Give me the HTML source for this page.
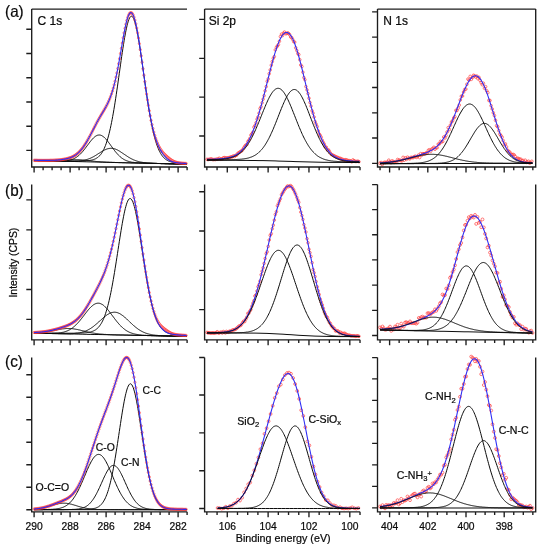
<!DOCTYPE html><html><head><meta charset="utf-8"><title>XPS spectra</title><style>html,body{margin:0;padding:0;background:#fff;overflow:hidden}svg{display:block}text{font-family:"Liberation Sans",Arial,Helvetica,sans-serif;fill:#0a0a0a;stroke:#0a0a0a;stroke-width:0.22px}</style></head><body>
<svg width="542" height="550" viewBox="0 0 542 550">
<rect width="100%" height="100%" fill="#fff"/>
<g fill="none" stroke="#0c0c0c" stroke-width="1.0" stroke-linejoin="round"><path d="M34.1 160.6L38.1 160.7L42.1 160.8L46.1 160.9L50.1 161.0L54.1 161.1L58.1 161.2L62.1 161.3L66.1 161.4L70.1 161.4L74.1 161.5L78.1 161.6L82.1 161.7L86.1 161.8L90.1 161.9L94.1 162.0L98.1 162.1L102.1 162.2L106.1 162.3L110.1 162.4L114.1 162.5L118.1 162.6L122.1 162.7L126.1 162.8L130.1 162.9L134.1 163.0L138.1 163.0L142.1 163.1L146.1 163.2L150.1 163.3L154.1 163.4L158.1 163.5L162.1 163.6L166.1 163.7L170.1 163.8L174.1 163.9L178.1 164.0L182.1 164.1L186.1 164.2L187.0 164.2"/><path d="M34.1 160.4L34.7 160.4L35.3 160.4L35.9 160.4L36.5 160.4L37.1 160.4L37.7 160.4L38.3 160.5L38.9 160.5L39.5 160.5L40.1 160.5L40.7 160.5L41.3 160.5L41.9 160.5L42.5 160.5L43.1 160.5L43.7 160.6L44.3 160.6L44.9 160.6L45.5 160.6L46.1 160.6L46.7 160.6L47.3 160.6L47.9 160.6L48.5 160.6L49.1 160.6L49.7 160.7L50.3 160.7L50.9 160.7L51.5 160.7L52.1 160.7L52.7 160.7L53.3 160.7L53.9 160.7L54.5 160.7L55.1 160.7L55.7 160.8L56.3 160.8L56.9 160.8L57.5 160.8L58.1 160.8L58.7 160.8L59.3 160.8L59.9 160.8L60.5 160.8L61.1 160.8L61.7 160.8L62.3 160.8L62.9 160.8L63.5 160.9L64.1 160.9L64.7 160.9L65.3 160.9L65.9 160.9L66.5 160.9L67.1 160.9L67.7 160.9L68.3 160.9L68.9 160.9L69.5 160.9L70.1 160.9L70.7 160.9L71.3 160.9L71.9 160.9L72.5 160.9L73.1 160.9L73.7 160.9L74.3 160.9L74.9 160.9L75.5 160.9L76.1 160.9L76.7 160.9L77.3 160.9L77.9 160.9L78.5 160.9L79.1 160.9L79.7 160.9L80.3 160.9L80.9 160.9L81.5 160.9L82.1 160.9L82.7 160.9L83.3 160.9L83.9 160.8L84.5 160.8L85.1 160.8L85.7 160.8L86.3 160.7L86.9 160.7L87.5 160.6L88.1 160.6L88.7 160.5L89.3 160.5L89.9 160.4L90.5 160.3L91.1 160.2L91.7 160.1L92.3 159.9L92.9 159.8L93.5 159.6L94.1 159.4L94.7 159.1L95.3 158.9L95.9 158.6L96.5 158.2L97.1 157.9L97.7 157.4L98.3 157.0L98.9 156.4L99.5 155.8L100.1 155.2L100.7 154.5L101.3 153.7L101.9 152.8L102.5 151.8L103.1 150.7L103.7 149.6L104.3 148.3L104.9 146.9L105.5 145.4L106.1 143.8L106.7 142.0L107.3 140.1L107.9 138.1L108.5 135.9L109.1 133.6L109.7 131.1L110.3 128.5L110.9 125.7L111.5 122.7L112.1 119.7L112.7 116.4L113.3 113.1L113.9 109.6L114.5 105.9L115.1 102.2L115.7 98.3L116.3 94.3L116.9 90.2L117.5 86.1L118.1 81.9L118.7 77.6L119.3 73.4L119.9 69.1L120.5 64.8L121.1 60.6L121.7 56.4L122.3 52.4L122.9 48.4L123.5 44.5L124.1 40.8L124.7 37.3L125.3 34.0L125.9 30.9L126.5 28.0L127.1 25.5L127.7 23.2L128.3 21.2L128.9 19.5L129.5 18.1L130.1 17.1L130.7 16.5L131.3 16.2L131.9 16.3L132.5 16.7L133.1 17.5L133.7 18.7L134.3 20.1L134.9 22.0L135.5 24.1L136.1 26.5L136.7 29.2L137.3 32.2L137.9 35.4L138.5 38.8L139.1 42.4L139.7 46.2L140.3 50.1L140.9 54.2L141.5 58.3L142.1 62.5L142.7 66.8L143.3 71.1L143.9 75.4L144.5 79.7L145.1 83.9L145.7 88.2L146.3 92.3L146.9 96.4L147.5 100.3L148.1 104.2L148.7 108.0L149.3 111.6L149.9 115.1L150.5 118.4L151.1 121.6L151.7 124.7L152.3 127.6L152.9 130.4L153.5 133.0L154.1 135.4L154.7 137.7L155.3 139.9L155.9 141.9L156.5 143.8L157.1 145.5L157.7 147.1L158.3 148.6L158.9 150.0L159.5 151.3L160.1 152.4L160.7 153.5L161.3 154.5L161.9 155.4L162.5 156.2L163.1 156.9L163.7 157.6L164.3 158.2L164.9 158.7L165.5 159.2L166.1 159.6L166.7 160.0L167.3 160.4L167.9 160.7L168.5 161.0L169.1 161.2L169.7 161.4L170.3 161.6L170.9 161.8L171.5 162.0L172.1 162.1L172.7 162.3L173.3 162.4L173.9 162.5L174.5 162.6L175.1 162.7L175.7 162.7L176.3 162.8L176.9 162.9L177.5 162.9L178.1 163.0L178.7 163.0L179.3 163.1L179.9 163.1L180.5 163.2L181.1 163.2L181.7 163.3L182.3 163.3L182.9 163.3L183.5 163.4L184.1 163.4L184.7 163.4L185.3 163.5L185.9 163.5L186.5 163.5"/><path d="M34.1 160.6L34.7 160.6L35.3 160.6L35.9 160.6L36.5 160.6L37.1 160.6L37.7 160.6L38.3 160.7L38.9 160.7L39.5 160.7L40.1 160.7L40.7 160.7L41.3 160.7L41.9 160.7L42.5 160.8L43.1 160.8L43.7 160.8L44.3 160.8L44.9 160.8L45.5 160.8L46.1 160.8L46.7 160.8L47.3 160.9L47.9 160.9L48.5 160.9L49.1 160.9L49.7 160.9L50.3 160.9L50.9 160.9L51.5 160.9L52.1 161.0L52.7 161.0L53.3 161.0L53.9 161.0L54.5 161.0L55.1 161.0L55.7 161.0L56.3 161.0L56.9 161.0L57.5 161.0L58.1 161.0L58.7 161.0L59.3 161.0L59.9 161.0L60.5 161.0L61.1 161.0L61.7 161.0L62.3 161.0L62.9 160.9L63.5 160.9L64.1 160.9L64.7 160.8L65.3 160.8L65.9 160.7L66.5 160.7L67.1 160.6L67.7 160.5L68.3 160.4L68.9 160.3L69.5 160.1L70.1 160.0L70.7 159.8L71.3 159.7L71.9 159.5L72.5 159.3L73.1 159.0L73.7 158.8L74.3 158.5L74.9 158.2L75.5 157.8L76.1 157.4L76.7 157.1L77.3 156.6L77.9 156.2L78.5 155.7L79.1 155.2L79.7 154.6L80.3 154.1L80.9 153.5L81.5 152.8L82.1 152.2L82.7 151.5L83.3 150.8L83.9 150.0L84.5 149.3L85.1 148.5L85.7 147.7L86.3 146.9L86.9 146.1L87.5 145.3L88.1 144.5L88.7 143.7L89.3 142.9L89.9 142.1L90.5 141.3L91.1 140.6L91.7 139.9L92.3 139.2L92.9 138.5L93.5 137.9L94.1 137.4L94.7 136.9L95.3 136.4L95.9 136.0L96.5 135.7L97.1 135.4L97.7 135.2L98.3 135.1L98.9 135.0L99.5 135.0L100.1 135.1L100.7 135.2L101.3 135.4L101.9 135.7L102.5 136.1L103.1 136.5L103.7 136.9L104.3 137.4L104.9 138.0L105.5 138.6L106.1 139.3L106.7 140.0L107.3 140.7L107.9 141.5L108.5 142.3L109.1 143.1L109.7 143.9L110.3 144.7L110.9 145.6L111.5 146.4L112.1 147.2L112.7 148.1L113.3 148.9L113.9 149.7L114.5 150.5L115.1 151.3L115.7 152.0L116.3 152.7L116.9 153.4L117.5 154.1L118.1 154.7L118.7 155.4L119.3 155.9L119.9 156.5L120.5 157.0L121.1 157.5L121.7 158.0L122.3 158.4L122.9 158.8L123.5 159.2L124.1 159.5L124.7 159.9L125.3 160.2L125.9 160.4L126.5 160.7L127.1 160.9L127.7 161.1L128.3 161.3L128.9 161.5L129.5 161.7L130.1 161.8L130.7 161.9L131.3 162.1L131.9 162.2L132.5 162.3L133.1 162.3L133.7 162.4L134.3 162.5L134.9 162.6L135.5 162.6L136.1 162.7L136.7 162.7L137.3 162.8L137.9 162.8L138.5 162.9L139.1 162.9L139.7 162.9L140.3 162.9L140.9 163.0L141.5 163.0L142.1 163.0L142.7 163.0L143.3 163.1L143.9 163.1L144.5 163.1L145.1 163.1L145.7 163.1L146.3 163.2L146.9 163.2L147.5 163.2L148.1 163.2L148.7 163.2L149.3 163.2L149.9 163.3L150.5 163.3L151.1 163.3L151.7 163.3L152.3 163.3L152.9 163.3L153.5 163.4L154.1 163.4L154.7 163.4L155.3 163.4L155.9 163.4L156.5 163.4L157.1 163.5L157.7 163.5L158.3 163.5L158.9 163.5L159.5 163.5L160.1 163.5L160.7 163.5L161.3 163.6L161.9 163.6L162.5 163.6L163.1 163.6L163.7 163.6L164.3 163.6L164.9 163.6L165.5 163.7L166.1 163.7L166.7 163.7L167.3 163.7L167.9 163.7L168.5 163.7L169.1 163.7L169.7 163.8L170.3 163.8L170.9 163.8L171.5 163.8L172.1 163.8L172.7 163.8L173.3 163.8L173.9 163.9L174.5 163.9L175.1 163.9L175.7 163.9L176.3 163.9L176.9 163.9L177.5 164.0L178.1 164.0L178.7 164.0L179.3 164.0L179.9 164.0L180.5 164.0L181.1 164.0L181.7 164.1L182.3 164.1L182.9 164.1L183.5 164.1L184.1 164.1L184.7 164.1L185.3 164.1L185.9 164.2L186.5 164.2"/><path d="M34.1 160.6L34.7 160.6L35.3 160.6L35.9 160.6L36.5 160.6L37.1 160.7L37.7 160.7L38.3 160.7L38.9 160.7L39.5 160.7L40.1 160.7L40.7 160.7L41.3 160.8L41.9 160.8L42.5 160.8L43.1 160.8L43.7 160.8L44.3 160.8L44.9 160.8L45.5 160.8L46.1 160.9L46.7 160.9L47.3 160.9L47.9 160.9L48.5 160.9L49.1 160.9L49.7 160.9L50.3 161.0L50.9 161.0L51.5 161.0L52.1 161.0L52.7 161.0L53.3 161.0L53.9 161.0L54.5 161.1L55.1 161.1L55.7 161.1L56.3 161.1L56.9 161.1L57.5 161.1L58.1 161.1L58.7 161.1L59.3 161.2L59.9 161.2L60.5 161.2L61.1 161.2L61.7 161.2L62.3 161.2L62.9 161.2L63.5 161.2L64.1 161.3L64.7 161.3L65.3 161.3L65.9 161.3L66.5 161.3L67.1 161.3L67.7 161.3L68.3 161.3L68.9 161.3L69.5 161.3L70.1 161.3L70.7 161.3L71.3 161.3L71.9 161.3L72.5 161.3L73.1 161.3L73.7 161.3L74.3 161.3L74.9 161.3L75.5 161.2L76.1 161.2L76.7 161.2L77.3 161.2L77.9 161.1L78.5 161.1L79.1 161.0L79.7 161.0L80.3 160.9L80.9 160.8L81.5 160.7L82.1 160.7L82.7 160.6L83.3 160.4L83.9 160.3L84.5 160.2L85.1 160.0L85.7 159.9L86.3 159.7L86.9 159.5L87.5 159.3L88.1 159.1L88.7 158.9L89.3 158.7L89.9 158.4L90.5 158.2L91.1 157.9L91.7 157.6L92.3 157.3L92.9 157.0L93.5 156.7L94.1 156.3L94.7 156.0L95.3 155.6L95.9 155.3L96.5 154.9L97.1 154.5L97.7 154.1L98.3 153.7L98.9 153.3L99.5 153.0L100.1 152.6L100.7 152.2L101.3 151.8L101.9 151.5L102.5 151.1L103.1 150.8L103.7 150.4L104.3 150.1L104.9 149.8L105.5 149.6L106.1 149.3L106.7 149.1L107.3 148.9L107.9 148.7L108.5 148.6L109.1 148.5L109.7 148.4L110.3 148.3L110.9 148.3L111.5 148.3L112.1 148.3L112.7 148.4L113.3 148.5L113.9 148.7L114.5 148.8L115.1 149.0L115.7 149.2L116.3 149.5L116.9 149.7L117.5 150.0L118.1 150.4L118.7 150.7L119.3 151.0L119.9 151.4L120.5 151.8L121.1 152.2L121.7 152.6L122.3 153.0L122.9 153.4L123.5 153.8L124.1 154.2L124.7 154.6L125.3 155.0L125.9 155.4L126.5 155.8L127.1 156.2L127.7 156.6L128.3 157.0L128.9 157.4L129.5 157.7L130.1 158.1L130.7 158.4L131.3 158.7L131.9 159.1L132.5 159.3L133.1 159.6L133.7 159.9L134.3 160.1L134.9 160.4L135.5 160.6L136.1 160.8L136.7 161.0L137.3 161.2L137.9 161.4L138.5 161.6L139.1 161.7L139.7 161.9L140.3 162.0L140.9 162.1L141.5 162.2L142.1 162.3L142.7 162.4L143.3 162.5L143.9 162.6L144.5 162.7L145.1 162.7L145.7 162.8L146.3 162.9L146.9 162.9L147.5 163.0L148.1 163.0L148.7 163.1L149.3 163.1L149.9 163.1L150.5 163.2L151.1 163.2L151.7 163.2L152.3 163.3L152.9 163.3L153.5 163.3L154.1 163.3L154.7 163.4L155.3 163.4L155.9 163.4L156.5 163.4L157.1 163.4L157.7 163.5L158.3 163.5L158.9 163.5L159.5 163.5L160.1 163.5L160.7 163.5L161.3 163.6L161.9 163.6L162.5 163.6L163.1 163.6L163.7 163.6L164.3 163.6L164.9 163.6L165.5 163.7L166.1 163.7L166.7 163.7L167.3 163.7L167.9 163.7L168.5 163.7L169.1 163.8L169.7 163.8L170.3 163.8L170.9 163.8L171.5 163.8L172.1 163.8L172.7 163.8L173.3 163.9L173.9 163.9L174.5 163.9L175.1 163.9L175.7 163.9L176.3 163.9L176.9 163.9L177.5 164.0L178.1 164.0L178.7 164.0L179.3 164.0L179.9 164.0L180.5 164.0L181.1 164.0L181.7 164.1L182.3 164.1L182.9 164.1L183.5 164.1L184.1 164.1L184.7 164.1L185.3 164.1L185.9 164.2L186.5 164.2"/><path d="M34.1 160.6L34.7 160.6L35.3 160.6L35.9 160.6L36.5 160.6L37.1 160.6L37.7 160.6L38.3 160.7L38.9 160.7L39.5 160.7L40.1 160.7L40.7 160.7L41.3 160.7L41.9 160.7L42.5 160.7L43.1 160.7L43.7 160.7L44.3 160.7L44.9 160.8L45.5 160.8L46.1 160.8L46.7 160.8L47.3 160.8L47.9 160.8L48.5 160.8L49.1 160.8L49.7 160.8L50.3 160.7L50.9 160.7L51.5 160.7L52.1 160.7L52.7 160.7L53.3 160.7L53.9 160.7L54.5 160.7L55.1 160.6L55.7 160.6L56.3 160.6L56.9 160.6L57.5 160.5L58.1 160.5L58.7 160.5L59.3 160.5L59.9 160.4L60.5 160.4L61.1 160.4L61.7 160.3L62.3 160.3L62.9 160.2L63.5 160.2L64.1 160.2L64.7 160.1L65.3 160.1L65.9 160.0L66.5 160.0L67.1 160.0L67.7 159.9L68.3 159.9L68.9 159.9L69.5 159.8L70.1 159.8L70.7 159.8L71.3 159.8L71.9 159.7L72.5 159.7L73.1 159.7L73.7 159.7L74.3 159.7L74.9 159.7L75.5 159.7L76.1 159.7L76.7 159.7L77.3 159.7L77.9 159.7L78.5 159.7L79.1 159.8L79.7 159.8L80.3 159.8L80.9 159.9L81.5 159.9L82.1 160.0L82.7 160.0L83.3 160.1L83.9 160.1L84.5 160.2L85.1 160.2L85.7 160.3L86.3 160.4L86.9 160.4L87.5 160.5L88.1 160.6L88.7 160.6L89.3 160.7L89.9 160.8L90.5 160.8L91.1 160.9L91.7 161.0L92.3 161.0L92.9 161.1L93.5 161.2L94.1 161.2L94.7 161.3L95.3 161.4L95.9 161.4L96.5 161.5L97.1 161.5L97.7 161.6L98.3 161.6L98.9 161.7L99.5 161.7L100.1 161.8L100.7 161.8L101.3 161.9L101.9 161.9L102.5 161.9L103.1 162.0L103.7 162.0L104.3 162.0L104.9 162.1L105.5 162.1L106.1 162.1L106.7 162.2L107.3 162.2L107.9 162.2L108.5 162.2L109.1 162.3L109.7 162.3L110.3 162.3L110.9 162.3L111.5 162.3L112.1 162.4L112.7 162.4L113.3 162.4L113.9 162.4L114.5 162.4L115.1 162.5L115.7 162.5L116.3 162.5L116.9 162.5L117.5 162.5L118.1 162.5L118.7 162.6L119.3 162.6L119.9 162.6L120.5 162.6L121.1 162.6L121.7 162.6L122.3 162.7L122.9 162.7L123.5 162.7L124.1 162.7L124.7 162.7L125.3 162.7L125.9 162.7L126.5 162.8L127.1 162.8L127.7 162.8L128.3 162.8L128.9 162.8L129.5 162.8L130.1 162.8L130.7 162.9L131.3 162.9L131.9 162.9L132.5 162.9L133.1 162.9L133.7 162.9L134.3 162.9L134.9 163.0L135.5 163.0L136.1 163.0L136.7 163.0L137.3 163.0L137.9 163.0L138.5 163.0L139.1 163.1L139.7 163.1L140.3 163.1L140.9 163.1L141.5 163.1L142.1 163.1L142.7 163.1L143.3 163.2L143.9 163.2L144.5 163.2L145.1 163.2L145.7 163.2L146.3 163.2L146.9 163.2L147.5 163.3L148.1 163.3L148.7 163.3L149.3 163.3L149.9 163.3L150.5 163.3L151.1 163.3L151.7 163.4L152.3 163.4L152.9 163.4L153.5 163.4L154.1 163.4L154.7 163.4L155.3 163.4L155.9 163.5L156.5 163.5L157.1 163.5L157.7 163.5L158.3 163.5L158.9 163.5L159.5 163.5L160.1 163.6L160.7 163.6L161.3 163.6L161.9 163.6L162.5 163.6L163.1 163.6L163.7 163.6L164.3 163.7L164.9 163.7L165.5 163.7L166.1 163.7L166.7 163.7L167.3 163.7L167.9 163.7L168.5 163.8L169.1 163.8L169.7 163.8L170.3 163.8L170.9 163.8L171.5 163.8L172.1 163.8L172.7 163.9L173.3 163.9L173.9 163.9L174.5 163.9L175.1 163.9L175.7 163.9L176.3 163.9L176.9 164.0L177.5 164.0L178.1 164.0L178.7 164.0L179.3 164.0L179.9 164.0L180.5 164.0L181.1 164.1L181.7 164.1L182.3 164.1L182.9 164.1L183.5 164.1L184.1 164.1L184.7 164.1L185.3 164.2L185.9 164.2L186.5 164.2"/></g>
<g fill="none" stroke="#ff3b3b" stroke-width="0.75" stroke-opacity="0.85"><circle cx="34.1" cy="160.3" r="1.15"/><circle cx="35.0" cy="160.3" r="1.15"/><circle cx="35.9" cy="160.3" r="1.15"/><circle cx="36.8" cy="160.3" r="1.15"/><circle cx="37.7" cy="160.4" r="1.15"/><circle cx="38.6" cy="160.4" r="1.15"/><circle cx="39.5" cy="160.4" r="1.15"/><circle cx="40.4" cy="160.4" r="1.15"/><circle cx="41.3" cy="160.4" r="1.15"/><circle cx="42.2" cy="160.4" r="1.15"/><circle cx="43.1" cy="160.4" r="1.15"/><circle cx="44.0" cy="160.4" r="1.15"/><circle cx="44.9" cy="160.4" r="1.15"/><circle cx="45.8" cy="160.4" r="1.15"/><circle cx="46.7" cy="160.4" r="1.15"/><circle cx="47.6" cy="160.4" r="1.15"/><circle cx="48.5" cy="160.4" r="1.15"/><circle cx="49.4" cy="160.4" r="1.15"/><circle cx="50.3" cy="160.3" r="1.15"/><circle cx="51.2" cy="160.3" r="1.15"/><circle cx="52.1" cy="160.3" r="1.15"/><circle cx="53.0" cy="160.3" r="1.15"/><circle cx="53.9" cy="160.2" r="1.15"/><circle cx="54.8" cy="160.2" r="1.15"/><circle cx="55.7" cy="160.1" r="1.15"/><circle cx="56.6" cy="160.1" r="1.15"/><circle cx="57.5" cy="160.0" r="1.15"/><circle cx="58.4" cy="159.9" r="1.15"/><circle cx="59.3" cy="159.9" r="1.15"/><circle cx="60.2" cy="159.8" r="1.15"/><circle cx="61.1" cy="159.7" r="1.15"/><circle cx="62.0" cy="159.6" r="1.15"/><circle cx="62.9" cy="159.4" r="1.15"/><circle cx="63.8" cy="159.3" r="1.15"/><circle cx="64.7" cy="159.1" r="1.15"/><circle cx="65.6" cy="159.0" r="1.15"/><circle cx="66.5" cy="158.8" r="1.15"/><circle cx="67.4" cy="158.5" r="1.15"/><circle cx="68.3" cy="158.3" r="1.15"/><circle cx="69.2" cy="158.0" r="1.15"/><circle cx="70.1" cy="157.7" r="1.15"/><circle cx="71.0" cy="157.4" r="1.15"/><circle cx="71.9" cy="157.0" r="1.15"/><circle cx="72.8" cy="156.6" r="1.15"/><circle cx="73.7" cy="156.1" r="1.15"/><circle cx="74.6" cy="155.6" r="1.15"/><circle cx="75.5" cy="155.0" r="1.15"/><circle cx="76.4" cy="154.4" r="1.15"/><circle cx="77.3" cy="153.6" r="1.15"/><circle cx="78.2" cy="152.9" r="1.15"/><circle cx="79.1" cy="152.0" r="1.15"/><circle cx="80.0" cy="151.1" r="1.15"/><circle cx="80.9" cy="150.0" r="1.15"/><circle cx="81.8" cy="149.0" r="1.15"/><circle cx="82.7" cy="147.8" r="1.15"/><circle cx="83.6" cy="146.5" r="1.15"/><circle cx="84.5" cy="145.2" r="1.15"/><circle cx="85.4" cy="143.8" r="1.15"/><circle cx="86.3" cy="142.4" r="1.15"/><circle cx="87.2" cy="140.8" r="1.15"/><circle cx="88.1" cy="139.3" r="1.15"/><circle cx="89.0" cy="137.6" r="1.15"/><circle cx="89.9" cy="136.0" r="1.15"/><circle cx="90.8" cy="134.3" r="1.15"/><circle cx="91.7" cy="132.5" r="1.15"/><circle cx="92.6" cy="130.8" r="1.15"/><circle cx="93.5" cy="129.0" r="1.15"/><circle cx="94.4" cy="127.3" r="1.15"/><circle cx="95.3" cy="125.6" r="1.15"/><circle cx="96.2" cy="123.8" r="1.15"/><circle cx="97.1" cy="122.1" r="1.15"/><circle cx="98.0" cy="120.5" r="1.15"/><circle cx="98.9" cy="118.8" r="1.15"/><circle cx="99.8" cy="117.3" r="1.15"/><circle cx="100.7" cy="115.7" r="1.15"/><circle cx="101.6" cy="114.2" r="1.15"/><circle cx="102.5" cy="112.7" r="1.15"/><circle cx="103.4" cy="111.2" r="1.15"/><circle cx="104.3" cy="109.7" r="1.15"/><circle cx="105.2" cy="108.1" r="1.15"/><circle cx="106.1" cy="106.5" r="1.15"/><circle cx="107.0" cy="104.8" r="1.15"/><circle cx="107.9" cy="102.9" r="1.15"/><circle cx="108.8" cy="100.9" r="1.15"/><circle cx="109.7" cy="98.8" r="1.15"/><circle cx="110.6" cy="96.5" r="1.15"/><circle cx="111.5" cy="93.9" r="1.15"/><circle cx="112.4" cy="91.1" r="1.15"/><circle cx="113.3" cy="88.1" r="1.15"/><circle cx="114.2" cy="84.8" r="1.15"/><circle cx="115.1" cy="81.2" r="1.15"/><circle cx="116.0" cy="77.2" r="1.15"/><circle cx="116.9" cy="73.0" r="1.15"/><circle cx="117.8" cy="68.5" r="1.15"/><circle cx="118.7" cy="63.7" r="1.15"/><circle cx="119.6" cy="58.7" r="1.15"/><circle cx="120.5" cy="53.5" r="1.15"/><circle cx="121.4" cy="48.3" r="1.15"/><circle cx="122.3" cy="43.0" r="1.15"/><circle cx="123.2" cy="37.8" r="1.15"/><circle cx="124.1" cy="32.9" r="1.15"/><circle cx="125.0" cy="28.3" r="1.15"/><circle cx="125.9" cy="24.2" r="1.15"/><circle cx="126.8" cy="20.5" r="1.15"/><circle cx="127.7" cy="17.5" r="1.15"/><circle cx="128.6" cy="15.2" r="1.15"/><circle cx="129.5" cy="13.6" r="1.15"/><circle cx="130.4" cy="12.7" r="1.15"/><circle cx="131.3" cy="12.7" r="1.15"/><circle cx="132.2" cy="13.4" r="1.15"/><circle cx="133.1" cy="14.9" r="1.15"/><circle cx="134.0" cy="17.2" r="1.15"/><circle cx="134.9" cy="20.1" r="1.15"/><circle cx="135.8" cy="23.8" r="1.15"/><circle cx="136.7" cy="28.0" r="1.15"/><circle cx="137.6" cy="32.8" r="1.15"/><circle cx="138.5" cy="38.1" r="1.15"/><circle cx="139.4" cy="43.7" r="1.15"/><circle cx="140.3" cy="49.7" r="1.15"/><circle cx="141.2" cy="55.9" r="1.15"/><circle cx="142.1" cy="62.3" r="1.15"/><circle cx="143.0" cy="68.8" r="1.15"/><circle cx="143.9" cy="75.2" r="1.15"/><circle cx="144.8" cy="81.6" r="1.15"/><circle cx="145.7" cy="87.9" r="1.15"/><circle cx="146.6" cy="94.0" r="1.15"/><circle cx="147.5" cy="99.9" r="1.15"/><circle cx="148.4" cy="105.5" r="1.15"/><circle cx="149.3" cy="110.8" r="1.15"/><circle cx="150.2" cy="115.8" r="1.15"/><circle cx="151.1" cy="120.4" r="1.15"/><circle cx="152.0" cy="124.6" r="1.15"/><circle cx="152.9" cy="128.5" r="1.15"/><circle cx="153.8" cy="132.1" r="1.15"/><circle cx="154.7" cy="135.3" r="1.15"/><circle cx="155.6" cy="138.2" r="1.15"/><circle cx="156.5" cy="140.7" r="1.15"/><circle cx="157.4" cy="143.0" r="1.15"/><circle cx="158.3" cy="145.1" r="1.15"/><circle cx="159.2" cy="146.9" r="1.15"/><circle cx="160.1" cy="148.5" r="1.15"/><circle cx="161.0" cy="149.9" r="1.15"/><circle cx="161.9" cy="151.2" r="1.15"/><circle cx="162.8" cy="152.3" r="1.15"/><circle cx="163.7" cy="153.4" r="1.15"/><circle cx="164.6" cy="154.3" r="1.15"/><circle cx="165.5" cy="155.2" r="1.15"/><circle cx="166.4" cy="156.0" r="1.15"/><circle cx="167.3" cy="156.8" r="1.15"/><circle cx="168.2" cy="157.6" r="1.15"/><circle cx="169.1" cy="158.3" r="1.15"/><circle cx="170.0" cy="159.0" r="1.15"/><circle cx="170.9" cy="159.7" r="1.15"/><circle cx="171.8" cy="160.3" r="1.15"/><circle cx="172.7" cy="160.8" r="1.15"/><circle cx="173.6" cy="161.3" r="1.15"/><circle cx="174.5" cy="161.7" r="1.15"/><circle cx="175.4" cy="162.0" r="1.15"/><circle cx="176.3" cy="162.3" r="1.15"/><circle cx="177.2" cy="162.6" r="1.15"/><circle cx="178.1" cy="162.7" r="1.15"/><circle cx="179.0" cy="162.9" r="1.15"/><circle cx="179.9" cy="163.0" r="1.15"/><circle cx="180.8" cy="163.1" r="1.15"/><circle cx="181.7" cy="163.2" r="1.15"/><circle cx="182.6" cy="163.3" r="1.15"/><circle cx="183.5" cy="163.3" r="1.15"/><circle cx="184.4" cy="163.4" r="1.15"/><circle cx="185.3" cy="163.4" r="1.15"/><circle cx="186.2" cy="163.5" r="1.15"/></g>
<path d="M34.1 160.3L34.7 160.3L35.3 160.3L35.9 160.3L36.5 160.3L37.1 160.3L37.7 160.4L38.3 160.4L38.9 160.4L39.5 160.4L40.1 160.4L40.7 160.4L41.3 160.4L41.9 160.4L42.5 160.4L43.1 160.4L43.7 160.4L44.3 160.4L44.9 160.4L45.5 160.4L46.1 160.4L46.7 160.4L47.3 160.4L47.9 160.4L48.5 160.4L49.1 160.4L49.7 160.4L50.3 160.3L50.9 160.3L51.5 160.3L52.1 160.3L52.7 160.3L53.3 160.3L53.9 160.2L54.5 160.2L55.1 160.2L55.7 160.1L56.3 160.1L56.9 160.1L57.5 160.0L58.1 160.0L58.7 159.9L59.3 159.9L59.9 159.8L60.5 159.7L61.1 159.7L61.7 159.6L62.3 159.5L62.9 159.4L63.5 159.3L64.1 159.2L64.7 159.1L65.3 159.0L65.9 158.9L66.5 158.8L67.1 158.6L67.7 158.5L68.3 158.3L68.9 158.1L69.5 157.9L70.1 157.7L70.7 157.5L71.3 157.3L71.9 157.0L72.5 156.7L73.1 156.4L73.7 156.1L74.3 155.8L74.9 155.4L75.5 155.0L76.1 154.6L76.7 154.1L77.3 153.6L77.9 153.1L78.5 152.6L79.1 152.0L79.7 151.4L80.3 150.7L80.9 150.0L81.5 149.3L82.1 148.6L82.7 147.8L83.3 147.0L83.9 146.1L84.5 145.2L85.1 144.3L85.7 143.3L86.3 142.4L86.9 141.4L87.5 140.3L88.1 139.3L88.7 138.2L89.3 137.1L89.9 136.0L90.5 134.8L91.1 133.7L91.7 132.5L92.3 131.4L92.9 130.2L93.5 129.0L94.1 127.9L94.7 126.7L95.3 125.6L95.9 124.4L96.5 123.3L97.1 122.1L97.7 121.0L98.3 119.9L98.9 118.8L99.5 117.8L100.1 116.7L100.7 115.7L101.3 114.7L101.9 113.7L102.5 112.7L103.1 111.7L103.7 110.7L104.3 109.7L104.9 108.6L105.5 107.6L106.1 106.5L106.7 105.3L107.3 104.2L107.9 102.9L108.5 101.6L109.1 100.3L109.7 98.8L110.3 97.3L110.9 95.6L111.5 93.9L112.1 92.1L112.7 90.1L113.3 88.1L113.9 85.9L114.5 83.6L115.1 81.2L115.7 78.6L116.3 75.9L116.9 73.0L117.5 70.1L118.1 67.0L118.7 63.7L119.3 60.4L119.9 57.0L120.5 53.5L121.1 50.0L121.7 46.5L122.3 43.0L122.9 39.5L123.5 36.2L124.1 32.9L124.7 29.8L125.3 26.9L125.9 24.2L126.5 21.7L127.1 19.5L127.7 17.5L128.3 15.9L128.9 14.6L129.5 13.6L130.1 12.9L130.7 12.6L131.3 12.7L131.9 13.1L132.5 13.8L133.1 14.9L133.7 16.3L134.3 18.1L134.9 20.1L135.5 22.5L136.1 25.1L136.7 28.0L137.3 31.2L137.9 34.5L138.5 38.1L139.1 41.8L139.7 45.7L140.3 49.7L140.9 53.8L141.5 58.0L142.1 62.3L142.7 66.6L143.3 70.9L143.9 75.2L144.5 79.5L145.1 83.8L145.7 87.9L146.3 92.0L146.9 96.0L147.5 99.9L148.1 103.7L148.7 107.3L149.3 110.8L149.9 114.2L150.5 117.4L151.1 120.4L151.7 123.3L152.3 126.0L152.9 128.6L153.5 131.0L154.1 133.3L154.7 135.4L155.3 137.4L155.9 139.2L156.5 141.0L157.1 142.6L157.7 144.1L158.3 145.5L158.9 146.8L159.5 148.1L160.1 149.3L160.7 150.4L161.3 151.4L161.9 152.4L162.5 153.3L163.1 154.2L163.7 155.0L164.3 155.7L164.9 156.4L165.5 157.1L166.1 157.7L166.7 158.3L167.3 158.8L167.9 159.3L168.5 159.7L169.1 160.1L169.7 160.5L170.3 160.8L170.9 161.1L171.5 161.4L172.1 161.6L172.7 161.8L173.3 162.0L173.9 162.2L174.5 162.3L175.1 162.5L175.7 162.6L176.3 162.7L176.9 162.8L177.5 162.8L178.1 162.9L178.7 163.0L179.3 163.0L179.9 163.1L180.5 163.1L181.1 163.2L181.7 163.2L182.3 163.3L182.9 163.3L183.5 163.3L184.1 163.4L184.7 163.4L185.3 163.4L185.9 163.5L186.5 163.5" fill="none" stroke="#2c2cf5" stroke-width="1.08" stroke-linejoin="round"/>
<path d="M31.70 9.10 L31.70 167.00 L187.00 167.00 M31.70 9.10 L187.00 9.10 M26.30 29.20 L31.70 29.20 M26.30 53.50 L31.70 53.50 M26.30 77.70 L31.70 77.70 M26.30 102.00 L31.70 102.00 M26.30 126.20 L31.70 126.20 M26.30 150.40 L31.70 150.40 M34.10 167.00 L34.10 172.50 M43.10 167.00 L43.10 170.30 M52.10 167.00 L52.10 170.30 M61.10 167.00 L61.10 170.30 M70.10 167.00 L70.10 172.50 M79.10 167.00 L79.10 170.30 M88.10 167.00 L88.10 170.30 M97.10 167.00 L97.10 170.30 M106.10 167.00 L106.10 172.50 M115.10 167.00 L115.10 170.30 M124.10 167.00 L124.10 170.30 M133.10 167.00 L133.10 170.30 M142.10 167.00 L142.10 172.50 M151.10 167.00 L151.10 170.30 M160.10 167.00 L160.10 170.30 M169.10 167.00 L169.10 170.30 M178.10 167.00 L178.10 172.50 M187.10 167.00 L187.10 170.30" fill="none" stroke="#1c1c1c" stroke-width="1.35" stroke-linecap="butt"/>
<g fill="none" stroke="#ff3b3b" stroke-width="0.75" stroke-opacity="0.9"><circle cx="207.0" cy="159.3" r="1.30"/><circle cx="208.0" cy="159.6" r="1.30"/><circle cx="209.0" cy="159.3" r="1.30"/><circle cx="210.1" cy="159.2" r="1.30"/><circle cx="211.1" cy="158.9" r="1.30"/><circle cx="212.1" cy="159.2" r="1.30"/><circle cx="213.1" cy="159.7" r="1.30"/><circle cx="214.1" cy="159.4" r="1.30"/><circle cx="215.2" cy="159.6" r="1.30"/><circle cx="216.2" cy="159.2" r="1.30"/><circle cx="217.2" cy="159.2" r="1.30"/><circle cx="218.2" cy="159.0" r="1.30"/><circle cx="219.2" cy="158.2" r="1.30"/><circle cx="220.3" cy="159.2" r="1.30"/><circle cx="221.3" cy="159.0" r="1.30"/><circle cx="222.3" cy="158.9" r="1.30"/><circle cx="223.3" cy="157.8" r="1.30"/><circle cx="224.3" cy="157.6" r="1.30"/><circle cx="225.4" cy="157.8" r="1.30"/><circle cx="226.4" cy="157.9" r="1.30"/><circle cx="227.4" cy="158.0" r="1.30"/><circle cx="228.4" cy="157.7" r="1.30"/><circle cx="229.4" cy="157.7" r="1.30"/><circle cx="230.5" cy="156.9" r="1.30"/><circle cx="231.5" cy="157.0" r="1.30"/><circle cx="232.5" cy="156.7" r="1.30"/><circle cx="233.5" cy="155.8" r="1.30"/><circle cx="234.5" cy="156.5" r="1.30"/><circle cx="235.6" cy="155.4" r="1.30"/><circle cx="236.6" cy="155.2" r="1.30"/><circle cx="237.6" cy="153.6" r="1.30"/><circle cx="238.6" cy="152.8" r="1.30"/><circle cx="239.6" cy="152.2" r="1.30"/><circle cx="240.7" cy="151.4" r="1.30"/><circle cx="241.7" cy="150.9" r="1.30"/><circle cx="242.7" cy="149.6" r="1.30"/><circle cx="243.7" cy="147.9" r="1.30"/><circle cx="244.7" cy="146.3" r="1.30"/><circle cx="245.8" cy="145.1" r="1.30"/><circle cx="246.8" cy="144.6" r="1.30"/><circle cx="247.8" cy="141.6" r="1.30"/><circle cx="248.8" cy="140.4" r="1.30"/><circle cx="249.8" cy="138.5" r="1.30"/><circle cx="250.9" cy="135.1" r="1.30"/><circle cx="251.9" cy="133.8" r="1.30"/><circle cx="252.9" cy="132.2" r="1.30"/><circle cx="253.9" cy="127.2" r="1.30"/><circle cx="254.9" cy="125.6" r="1.30"/><circle cx="256.0" cy="122.8" r="1.30"/><circle cx="257.0" cy="119.2" r="1.30"/><circle cx="258.0" cy="117.0" r="1.30"/><circle cx="259.0" cy="113.2" r="1.30"/><circle cx="260.0" cy="108.5" r="1.30"/><circle cx="261.1" cy="106.7" r="1.30"/><circle cx="262.1" cy="102.8" r="1.30"/><circle cx="263.1" cy="99.2" r="1.30"/><circle cx="264.1" cy="95.7" r="1.30"/><circle cx="265.1" cy="90.8" r="1.30"/><circle cx="266.2" cy="86.6" r="1.30"/><circle cx="267.2" cy="81.3" r="1.30"/><circle cx="268.2" cy="78.9" r="1.30"/><circle cx="269.2" cy="73.7" r="1.30"/><circle cx="270.2" cy="69.9" r="1.30"/><circle cx="271.3" cy="65.2" r="1.30"/><circle cx="272.3" cy="61.6" r="1.30"/><circle cx="273.3" cy="58.3" r="1.30"/><circle cx="274.3" cy="56.6" r="1.30"/><circle cx="275.3" cy="49.9" r="1.30"/><circle cx="276.4" cy="47.3" r="1.30"/><circle cx="277.4" cy="46.0" r="1.30"/><circle cx="278.4" cy="44.6" r="1.30"/><circle cx="279.4" cy="41.3" r="1.30"/><circle cx="280.4" cy="36.6" r="1.30"/><circle cx="281.5" cy="34.1" r="1.30"/><circle cx="282.5" cy="35.6" r="1.30"/><circle cx="283.5" cy="33.2" r="1.30"/><circle cx="284.5" cy="32.0" r="1.30"/><circle cx="285.5" cy="33.7" r="1.30"/><circle cx="286.6" cy="33.6" r="1.30"/><circle cx="287.6" cy="32.8" r="1.30"/><circle cx="288.6" cy="33.5" r="1.30"/><circle cx="289.6" cy="34.6" r="1.30"/><circle cx="290.6" cy="37.0" r="1.30"/><circle cx="291.7" cy="37.6" r="1.30"/><circle cx="292.7" cy="39.4" r="1.30"/><circle cx="293.7" cy="41.7" r="1.30"/><circle cx="294.7" cy="42.1" r="1.30"/><circle cx="295.7" cy="47.8" r="1.30"/><circle cx="296.8" cy="50.5" r="1.30"/><circle cx="297.8" cy="53.5" r="1.30"/><circle cx="298.8" cy="54.6" r="1.30"/><circle cx="299.8" cy="59.7" r="1.30"/><circle cx="300.8" cy="65.0" r="1.30"/><circle cx="301.9" cy="66.5" r="1.30"/><circle cx="302.9" cy="72.2" r="1.30"/><circle cx="303.9" cy="77.6" r="1.30"/><circle cx="304.9" cy="79.7" r="1.30"/><circle cx="305.9" cy="86.6" r="1.30"/><circle cx="307.0" cy="89.9" r="1.30"/><circle cx="308.0" cy="93.6" r="1.30"/><circle cx="309.0" cy="98.2" r="1.30"/><circle cx="310.0" cy="102.6" r="1.30"/><circle cx="311.0" cy="106.1" r="1.30"/><circle cx="312.1" cy="110.8" r="1.30"/><circle cx="313.1" cy="113.2" r="1.30"/><circle cx="314.1" cy="117.0" r="1.30"/><circle cx="315.1" cy="121.6" r="1.30"/><circle cx="316.1" cy="124.1" r="1.30"/><circle cx="317.2" cy="126.6" r="1.30"/><circle cx="318.2" cy="130.9" r="1.30"/><circle cx="319.2" cy="134.0" r="1.30"/><circle cx="320.2" cy="135.3" r="1.30"/><circle cx="321.2" cy="137.2" r="1.30"/><circle cx="322.3" cy="140.3" r="1.30"/><circle cx="323.3" cy="142.4" r="1.30"/><circle cx="324.3" cy="144.2" r="1.30"/><circle cx="325.3" cy="147.0" r="1.30"/><circle cx="326.3" cy="147.2" r="1.30"/><circle cx="327.4" cy="150.0" r="1.30"/><circle cx="328.4" cy="149.8" r="1.30"/><circle cx="329.4" cy="151.3" r="1.30"/><circle cx="330.4" cy="153.2" r="1.30"/><circle cx="331.4" cy="154.4" r="1.30"/><circle cx="332.5" cy="155.0" r="1.30"/><circle cx="333.5" cy="155.5" r="1.30"/><circle cx="334.5" cy="156.0" r="1.30"/><circle cx="335.5" cy="156.5" r="1.30"/><circle cx="336.5" cy="157.2" r="1.30"/><circle cx="337.6" cy="157.3" r="1.30"/><circle cx="338.6" cy="157.9" r="1.30"/><circle cx="339.6" cy="158.4" r="1.30"/><circle cx="340.6" cy="158.4" r="1.30"/><circle cx="341.6" cy="159.1" r="1.30"/><circle cx="342.7" cy="159.3" r="1.30"/><circle cx="343.7" cy="160.3" r="1.30"/><circle cx="344.7" cy="159.8" r="1.30"/><circle cx="345.7" cy="159.7" r="1.30"/><circle cx="346.7" cy="160.0" r="1.30"/><circle cx="347.8" cy="160.3" r="1.30"/><circle cx="348.8" cy="161.0" r="1.30"/><circle cx="349.8" cy="160.6" r="1.30"/><circle cx="350.8" cy="161.0" r="1.30"/><circle cx="351.8" cy="161.8" r="1.30"/><circle cx="352.9" cy="159.9" r="1.30"/><circle cx="353.9" cy="160.6" r="1.30"/><circle cx="354.9" cy="161.3" r="1.30"/><circle cx="355.9" cy="161.5" r="1.30"/><circle cx="356.9" cy="161.4" r="1.30"/><circle cx="358.0" cy="161.2" r="1.30"/><circle cx="359.0" cy="161.7" r="1.30"/></g>
<path d="M207.0 159.4L207.6 159.4L208.2 159.4L208.8 159.4L209.4 159.3L210.0 159.3L210.6 159.3L211.2 159.3L211.8 159.3L212.4 159.2L213.0 159.2L213.6 159.2L214.2 159.2L214.8 159.1L215.4 159.1L216.0 159.1L216.6 159.1L217.2 159.0L217.8 159.0L218.4 159.0L219.0 158.9L219.6 158.9L220.2 158.8L220.8 158.8L221.4 158.7L222.0 158.7L222.6 158.6L223.2 158.5L223.8 158.5L224.4 158.4L225.0 158.3L225.6 158.2L226.2 158.1L226.8 158.0L227.4 157.9L228.0 157.8L228.6 157.7L229.2 157.5L229.8 157.4L230.4 157.2L231.0 157.0L231.6 156.8L232.2 156.6L232.8 156.4L233.4 156.2L234.0 155.9L234.6 155.6L235.2 155.3L235.8 155.0L236.4 154.7L237.0 154.3L237.6 153.9L238.2 153.5L238.8 153.1L239.4 152.6L240.0 152.1L240.6 151.6L241.2 151.0L241.8 150.4L242.4 149.7L243.0 149.1L243.6 148.3L244.2 147.6L244.8 146.8L245.4 146.0L246.0 145.1L246.6 144.1L247.2 143.1L247.8 142.1L248.4 141.0L249.0 139.9L249.6 138.7L250.2 137.5L250.8 136.2L251.4 134.9L252.0 133.5L252.6 132.0L253.2 130.5L253.8 129.0L254.4 127.4L255.0 125.7L255.6 124.0L256.2 122.2L256.8 120.4L257.4 118.5L258.0 116.6L258.6 114.6L259.2 112.6L259.8 110.5L260.4 108.4L261.0 106.3L261.6 104.1L262.2 101.8L262.8 99.6L263.4 97.3L264.0 95.0L264.6 92.6L265.2 90.3L265.8 87.9L266.4 85.5L267.0 83.1L267.6 80.7L268.2 78.4L268.8 76.0L269.4 73.6L270.0 71.2L270.6 68.9L271.2 66.6L271.8 64.3L272.4 62.1L273.0 59.9L273.6 57.8L274.2 55.7L274.8 53.7L275.4 51.7L276.0 49.8L276.6 48.0L277.2 46.3L277.8 44.7L278.4 43.1L279.0 41.6L279.6 40.3L280.2 39.0L280.8 37.9L281.4 36.8L282.0 35.9L282.6 35.0L283.2 34.3L283.8 33.7L284.4 33.2L285.0 32.9L285.6 32.6L286.2 32.5L286.8 32.5L287.4 32.6L288.0 32.9L288.6 33.2L289.2 33.7L289.8 34.3L290.4 35.0L291.0 35.9L291.6 36.8L292.2 37.9L292.8 39.1L293.4 40.4L294.0 41.8L294.6 43.3L295.2 45.0L295.8 46.7L296.4 48.5L297.0 50.4L297.6 52.3L298.2 54.4L298.8 56.5L299.4 58.7L300.0 60.9L300.6 63.2L301.2 65.6L301.8 68.0L302.4 70.4L303.0 72.9L303.6 75.4L304.2 77.9L304.8 80.4L305.4 82.9L306.0 85.4L306.6 88.0L307.2 90.5L307.8 93.0L308.4 95.4L309.0 97.9L309.6 100.3L310.2 102.7L310.8 105.1L311.4 107.4L312.0 109.7L312.6 111.9L313.2 114.1L313.8 116.3L314.4 118.4L315.0 120.4L315.6 122.4L316.2 124.3L316.8 126.1L317.4 128.0L318.0 129.7L318.6 131.4L319.2 133.0L319.8 134.6L320.4 136.1L321.0 137.5L321.6 138.9L322.2 140.2L322.8 141.5L323.4 142.7L324.0 143.9L324.6 144.9L325.2 146.0L325.8 147.0L326.4 147.9L327.0 148.8L327.6 149.7L328.2 150.4L328.8 151.2L329.4 151.9L330.0 152.6L330.6 153.2L331.2 153.8L331.8 154.3L332.4 154.8L333.0 155.3L333.6 155.8L334.2 156.2L334.8 156.6L335.4 157.0L336.0 157.3L336.6 157.6L337.2 157.9L337.8 158.2L338.4 158.4L339.0 158.7L339.6 158.9L340.2 159.1L340.8 159.3L341.4 159.5L342.0 159.6L342.6 159.8L343.2 159.9L343.8 160.0L344.4 160.2L345.0 160.3L345.6 160.4L346.2 160.5L346.8 160.5L347.4 160.6L348.0 160.7L348.6 160.8L349.2 160.8L349.8 160.9L350.4 160.9L351.0 161.0L351.6 161.0L352.2 161.1L352.8 161.1L353.4 161.2L354.0 161.2L354.6 161.2L355.2 161.3L355.8 161.3L356.4 161.3L357.0 161.3L357.6 161.4L358.2 161.4L358.8 161.4L359.4 161.4" fill="none" stroke="#2c2cf5" stroke-width="1.08" stroke-linejoin="round"/>
<g fill="none" stroke="#0c0c0c" stroke-width="1.0" stroke-linejoin="round"><path d="M207.0 160.3L211.0 160.3L215.0 160.3L219.0 160.3L223.0 160.3L227.0 160.3L231.0 160.3L235.0 160.3L239.0 160.4L243.0 160.4L247.0 160.4L251.0 160.5L255.0 160.5L259.0 160.6L263.0 160.6L267.0 160.7L271.0 160.8L275.0 160.9L279.0 161.1L283.0 161.2L287.0 161.3L291.0 161.4L295.0 161.6L299.0 161.7L303.0 161.8L307.0 161.9L311.0 162.0L315.0 162.1L319.0 162.2L323.0 162.3L327.0 162.3L331.0 162.4L335.0 162.4L339.0 162.4L343.0 162.4L347.0 162.5L351.0 162.5L355.0 162.5L359.0 162.5L359.8 162.5"/><path d="M207.0 159.7L207.6 159.7L208.2 159.7L208.8 159.7L209.4 159.7L210.0 159.7L210.6 159.7L211.2 159.7L211.8 159.6L212.4 159.6L213.0 159.6L213.6 159.6L214.2 159.6L214.8 159.6L215.4 159.5L216.0 159.5L216.6 159.5L217.2 159.5L217.8 159.4L218.4 159.4L219.0 159.4L219.6 159.3L220.2 159.3L220.8 159.3L221.4 159.2L222.0 159.2L222.6 159.1L223.2 159.1L223.8 159.0L224.4 158.9L225.0 158.8L225.6 158.8L226.2 158.7L226.8 158.6L227.4 158.5L228.0 158.4L228.6 158.3L229.2 158.1L229.8 158.0L230.4 157.8L231.0 157.7L231.6 157.5L232.2 157.3L232.8 157.1L233.4 156.9L234.0 156.7L234.6 156.4L235.2 156.2L235.8 155.9L236.4 155.6L237.0 155.2L237.6 154.9L238.2 154.5L238.8 154.1L239.4 153.7L240.0 153.2L240.6 152.7L241.2 152.2L241.8 151.7L242.4 151.1L243.0 150.5L243.6 149.9L244.2 149.2L244.8 148.5L245.4 147.8L246.0 147.0L246.6 146.2L247.2 145.4L247.8 144.5L248.4 143.5L249.0 142.6L249.6 141.6L250.2 140.6L250.8 139.5L251.4 138.4L252.0 137.2L252.6 136.1L253.2 134.8L253.8 133.6L254.4 132.3L255.0 131.0L255.6 129.7L256.2 128.3L256.8 126.9L257.4 125.5L258.0 124.1L258.6 122.6L259.2 121.2L259.8 119.7L260.4 118.2L261.0 116.7L261.6 115.2L262.2 113.7L262.8 112.2L263.4 110.7L264.0 109.2L264.6 107.8L265.2 106.4L265.8 104.9L266.4 103.6L267.0 102.2L267.6 100.9L268.2 99.6L268.8 98.4L269.4 97.2L270.0 96.1L270.6 95.1L271.2 94.1L271.8 93.2L272.4 92.3L273.0 91.5L273.6 90.8L274.2 90.2L274.8 89.7L275.4 89.2L276.0 88.9L276.6 88.6L277.2 88.4L277.8 88.3L278.4 88.3L279.0 88.4L279.6 88.6L280.2 88.9L280.8 89.2L281.4 89.7L282.0 90.2L282.6 90.9L283.2 91.6L283.8 92.4L284.4 93.2L285.0 94.2L285.6 95.2L286.2 96.2L286.8 97.4L287.4 98.6L288.0 99.8L288.6 101.1L289.2 102.4L289.8 103.8L290.4 105.2L291.0 106.6L291.6 108.1L292.2 109.6L292.8 111.1L293.4 112.6L294.0 114.1L294.6 115.6L295.2 117.1L295.8 118.7L296.4 120.2L297.0 121.7L297.6 123.2L298.2 124.7L298.8 126.2L299.4 127.6L300.0 129.0L300.6 130.4L301.2 131.8L301.8 133.2L302.4 134.5L303.0 135.8L303.6 137.0L304.2 138.2L304.8 139.4L305.4 140.5L306.0 141.6L306.6 142.7L307.2 143.7L307.8 144.7L308.4 145.7L309.0 146.6L309.6 147.5L310.2 148.3L310.8 149.1L311.4 149.9L312.0 150.6L312.6 151.3L313.2 152.0L313.8 152.6L314.4 153.2L315.0 153.8L315.6 154.3L316.2 154.8L316.8 155.3L317.4 155.8L318.0 156.2L318.6 156.6L319.2 157.0L319.8 157.3L320.4 157.6L321.0 157.9L321.6 158.2L322.2 158.5L322.8 158.7L323.4 159.0L324.0 159.2L324.6 159.4L325.2 159.6L325.8 159.8L326.4 159.9L327.0 160.1L327.6 160.2L328.2 160.3L328.8 160.5L329.4 160.6L330.0 160.7L330.6 160.8L331.2 160.9L331.8 161.0L332.4 161.0L333.0 161.1L333.6 161.2L334.2 161.2L334.8 161.3L335.4 161.3L336.0 161.4L336.6 161.4L337.2 161.5L337.8 161.5L338.4 161.5L339.0 161.6L339.6 161.6L340.2 161.6L340.8 161.7L341.4 161.7L342.0 161.7L342.6 161.7L343.2 161.8L343.8 161.8L344.4 161.8L345.0 161.8L345.6 161.8L346.2 161.8L346.8 161.9L347.4 161.9L348.0 161.9L348.6 161.9L349.2 161.9L349.8 161.9L350.4 161.9L351.0 161.9L351.6 162.0L352.2 162.0L352.8 162.0L353.4 162.0L354.0 162.0L354.6 162.0L355.2 162.0L355.8 162.0L356.4 162.0L357.0 162.0L357.6 162.0L358.2 162.0L358.8 162.1L359.4 162.1"/><path d="M207.0 160.0L207.6 160.0L208.2 160.0L208.8 159.9L209.4 159.9L210.0 159.9L210.6 159.9L211.2 159.9L211.8 159.9L212.4 159.9L213.0 159.9L213.6 159.9L214.2 159.9L214.8 159.9L215.4 159.9L216.0 159.9L216.6 159.9L217.2 159.9L217.8 159.9L218.4 159.9L219.0 159.9L219.6 159.8L220.2 159.8L220.8 159.8L221.4 159.8L222.0 159.8L222.6 159.8L223.2 159.8L223.8 159.8L224.4 159.8L225.0 159.8L225.6 159.8L226.2 159.8L226.8 159.8L227.4 159.7L228.0 159.7L228.6 159.7L229.2 159.7L229.8 159.7L230.4 159.7L231.0 159.7L231.6 159.7L232.2 159.6L232.8 159.6L233.4 159.6L234.0 159.6L234.6 159.6L235.2 159.5L235.8 159.5L236.4 159.5L237.0 159.4L237.6 159.4L238.2 159.4L238.8 159.3L239.4 159.3L240.0 159.3L240.6 159.2L241.2 159.2L241.8 159.1L242.4 159.0L243.0 159.0L243.6 158.9L244.2 158.8L244.8 158.7L245.4 158.6L246.0 158.5L246.6 158.4L247.2 158.3L247.8 158.1L248.4 158.0L249.0 157.8L249.6 157.6L250.2 157.4L250.8 157.2L251.4 157.0L252.0 156.8L252.6 156.5L253.2 156.2L253.8 155.9L254.4 155.6L255.0 155.3L255.6 154.9L256.2 154.5L256.8 154.1L257.4 153.6L258.0 153.2L258.6 152.6L259.2 152.1L259.8 151.5L260.4 150.9L261.0 150.3L261.6 149.6L262.2 148.9L262.8 148.2L263.4 147.4L264.0 146.5L264.6 145.7L265.2 144.8L265.8 143.8L266.4 142.8L267.0 141.8L267.6 140.7L268.2 139.6L268.8 138.5L269.4 137.3L270.0 136.1L270.6 134.8L271.2 133.5L271.8 132.2L272.4 130.9L273.0 129.5L273.6 128.1L274.2 126.6L274.8 125.2L275.4 123.7L276.0 122.2L276.6 120.7L277.2 119.1L277.8 117.6L278.4 116.1L279.0 114.5L279.6 113.0L280.2 111.5L280.8 110.0L281.4 108.5L282.0 107.0L282.6 105.6L283.2 104.2L283.8 102.8L284.4 101.5L285.0 100.2L285.6 99.0L286.2 97.8L286.8 96.7L287.4 95.6L288.0 94.7L288.6 93.8L289.2 92.9L289.8 92.2L290.4 91.5L291.0 91.0L291.6 90.5L292.2 90.1L292.8 89.8L293.4 89.6L294.0 89.5L294.6 89.5L295.2 89.6L295.8 89.8L296.4 90.1L297.0 90.5L297.6 91.0L298.2 91.6L298.8 92.2L299.4 93.0L300.0 93.8L300.6 94.7L301.2 95.7L301.8 96.8L302.4 97.9L303.0 99.1L303.6 100.4L304.2 101.7L304.8 103.0L305.4 104.4L306.0 105.8L306.6 107.3L307.2 108.8L307.8 110.3L308.4 111.8L309.0 113.4L309.6 115.0L310.2 116.5L310.8 118.1L311.4 119.7L312.0 121.2L312.6 122.8L313.2 124.3L313.8 125.8L314.4 127.3L315.0 128.8L315.6 130.2L316.2 131.7L316.8 133.1L317.4 134.4L318.0 135.8L318.6 137.1L319.2 138.3L319.8 139.5L320.4 140.7L321.0 141.9L321.6 143.0L322.2 144.0L322.8 145.0L323.4 146.0L324.0 147.0L324.6 147.9L325.2 148.7L325.8 149.5L326.4 150.3L327.0 151.1L327.6 151.8L328.2 152.5L328.8 153.1L329.4 153.7L330.0 154.3L330.6 154.8L331.2 155.3L331.8 155.8L332.4 156.2L333.0 156.6L333.6 157.0L334.2 157.4L334.8 157.7L335.4 158.0L336.0 158.3L336.6 158.6L337.2 158.9L337.8 159.1L338.4 159.3L339.0 159.5L339.6 159.7L340.2 159.9L340.8 160.1L341.4 160.2L342.0 160.4L342.6 160.5L343.2 160.6L343.8 160.7L344.4 160.8L345.0 160.9L345.6 161.0L346.2 161.1L346.8 161.2L347.4 161.2L348.0 161.3L348.6 161.3L349.2 161.4L349.8 161.4L350.4 161.5L351.0 161.5L351.6 161.6L352.2 161.6L352.8 161.6L353.4 161.7L354.0 161.7L354.6 161.7L355.2 161.7L355.8 161.8L356.4 161.8L357.0 161.8L357.6 161.8L358.2 161.8L358.8 161.8L359.4 161.9"/></g>
<path d="M204.60 9.10 L204.60 167.00 L360.00 167.00 M204.60 9.10 L360.00 9.10 M199.20 19.40 L204.60 19.40 M199.20 58.30 L204.60 58.30 M199.20 97.10 L204.60 97.10 M199.20 136.00 L204.60 136.00 M206.86 167.00 L206.86 170.30 M217.07 167.00 L217.07 170.30 M227.28 167.00 L227.28 172.50 M237.49 167.00 L237.49 170.30 M247.70 167.00 L247.70 170.30 M257.91 167.00 L257.91 170.30 M268.12 167.00 L268.12 172.50 M278.33 167.00 L278.33 170.30 M288.54 167.00 L288.54 170.30 M298.75 167.00 L298.75 170.30 M308.96 167.00 L308.96 172.50 M319.17 167.00 L319.17 170.30 M329.38 167.00 L329.38 170.30 M339.59 167.00 L339.59 170.30 M349.80 167.00 L349.80 172.50 M360.01 167.00 L360.01 170.30" fill="none" stroke="#1c1c1c" stroke-width="1.35" stroke-linecap="butt"/>
<g fill="none" stroke="#ff3b3b" stroke-width="0.75" stroke-opacity="0.9"><circle cx="380.0" cy="163.2" r="1.35"/><circle cx="381.1" cy="162.5" r="1.35"/><circle cx="382.2" cy="164.5" r="1.35"/><circle cx="383.3" cy="163.0" r="1.35"/><circle cx="384.4" cy="162.3" r="1.35"/><circle cx="385.5" cy="162.5" r="1.35"/><circle cx="386.6" cy="162.3" r="1.35"/><circle cx="387.7" cy="162.3" r="1.35"/><circle cx="388.8" cy="160.2" r="1.35"/><circle cx="389.9" cy="161.7" r="1.35"/><circle cx="391.0" cy="162.7" r="1.35"/><circle cx="392.1" cy="160.9" r="1.35"/><circle cx="393.2" cy="161.5" r="1.35"/><circle cx="394.3" cy="162.1" r="1.35"/><circle cx="395.4" cy="161.9" r="1.35"/><circle cx="396.5" cy="162.2" r="1.35"/><circle cx="397.6" cy="159.5" r="1.35"/><circle cx="398.7" cy="160.3" r="1.35"/><circle cx="399.8" cy="160.1" r="1.35"/><circle cx="400.9" cy="160.6" r="1.35"/><circle cx="402.0" cy="160.8" r="1.35"/><circle cx="403.1" cy="157.4" r="1.35"/><circle cx="404.2" cy="160.2" r="1.35"/><circle cx="405.3" cy="157.9" r="1.35"/><circle cx="406.4" cy="159.4" r="1.35"/><circle cx="407.5" cy="157.2" r="1.35"/><circle cx="408.6" cy="158.3" r="1.35"/><circle cx="409.7" cy="158.9" r="1.35"/><circle cx="410.8" cy="157.5" r="1.35"/><circle cx="411.9" cy="157.4" r="1.35"/><circle cx="413.0" cy="157.7" r="1.35"/><circle cx="414.1" cy="156.8" r="1.35"/><circle cx="415.2" cy="156.2" r="1.35"/><circle cx="416.3" cy="157.4" r="1.35"/><circle cx="417.4" cy="156.6" r="1.35"/><circle cx="418.5" cy="155.1" r="1.35"/><circle cx="419.6" cy="157.5" r="1.35"/><circle cx="420.7" cy="153.6" r="1.35"/><circle cx="421.8" cy="155.1" r="1.35"/><circle cx="422.9" cy="153.7" r="1.35"/><circle cx="424.0" cy="153.7" r="1.35"/><circle cx="425.1" cy="153.8" r="1.35"/><circle cx="426.2" cy="152.9" r="1.35"/><circle cx="427.3" cy="152.9" r="1.35"/><circle cx="428.4" cy="150.3" r="1.35"/><circle cx="429.5" cy="149.8" r="1.35"/><circle cx="430.6" cy="151.3" r="1.35"/><circle cx="431.7" cy="149.2" r="1.35"/><circle cx="432.8" cy="148.5" r="1.35"/><circle cx="433.9" cy="147.3" r="1.35"/><circle cx="435.0" cy="149.2" r="1.35"/><circle cx="436.1" cy="147.8" r="1.35"/><circle cx="437.2" cy="147.6" r="1.35"/><circle cx="438.3" cy="144.1" r="1.35"/><circle cx="439.4" cy="143.9" r="1.35"/><circle cx="440.5" cy="141.4" r="1.35"/><circle cx="441.6" cy="142.0" r="1.35"/><circle cx="442.7" cy="141.4" r="1.35"/><circle cx="443.8" cy="137.0" r="1.35"/><circle cx="444.9" cy="138.0" r="1.35"/><circle cx="446.0" cy="135.5" r="1.35"/><circle cx="447.1" cy="132.0" r="1.35"/><circle cx="448.2" cy="127.7" r="1.35"/><circle cx="449.3" cy="129.5" r="1.35"/><circle cx="450.4" cy="125.2" r="1.35"/><circle cx="451.5" cy="122.1" r="1.35"/><circle cx="452.6" cy="120.7" r="1.35"/><circle cx="453.7" cy="118.0" r="1.35"/><circle cx="454.8" cy="116.7" r="1.35"/><circle cx="455.9" cy="110.4" r="1.35"/><circle cx="457.0" cy="110.5" r="1.35"/><circle cx="458.1" cy="108.1" r="1.35"/><circle cx="459.2" cy="105.1" r="1.35"/><circle cx="460.3" cy="99.9" r="1.35"/><circle cx="461.4" cy="96.2" r="1.35"/><circle cx="462.5" cy="96.0" r="1.35"/><circle cx="463.6" cy="92.0" r="1.35"/><circle cx="464.7" cy="89.5" r="1.35"/><circle cx="465.8" cy="89.1" r="1.35"/><circle cx="466.9" cy="84.3" r="1.35"/><circle cx="468.0" cy="79.1" r="1.35"/><circle cx="469.1" cy="80.2" r="1.35"/><circle cx="470.2" cy="76.4" r="1.35"/><circle cx="471.3" cy="79.3" r="1.35"/><circle cx="472.4" cy="77.5" r="1.35"/><circle cx="473.5" cy="75.3" r="1.35"/><circle cx="474.6" cy="75.8" r="1.35"/><circle cx="475.7" cy="77.1" r="1.35"/><circle cx="476.8" cy="76.1" r="1.35"/><circle cx="477.9" cy="78.7" r="1.35"/><circle cx="479.0" cy="77.4" r="1.35"/><circle cx="480.1" cy="80.4" r="1.35"/><circle cx="481.2" cy="82.7" r="1.35"/><circle cx="482.3" cy="84.7" r="1.35"/><circle cx="483.4" cy="83.3" r="1.35"/><circle cx="484.5" cy="88.2" r="1.35"/><circle cx="485.6" cy="86.7" r="1.35"/><circle cx="486.7" cy="90.8" r="1.35"/><circle cx="487.8" cy="92.7" r="1.35"/><circle cx="488.9" cy="100.4" r="1.35"/><circle cx="490.0" cy="100.5" r="1.35"/><circle cx="491.1" cy="105.7" r="1.35"/><circle cx="492.2" cy="109.0" r="1.35"/><circle cx="493.3" cy="112.8" r="1.35"/><circle cx="494.4" cy="115.6" r="1.35"/><circle cx="495.5" cy="120.3" r="1.35"/><circle cx="496.6" cy="125.7" r="1.35"/><circle cx="497.7" cy="126.8" r="1.35"/><circle cx="498.8" cy="130.6" r="1.35"/><circle cx="499.9" cy="134.2" r="1.35"/><circle cx="501.0" cy="135.7" r="1.35"/><circle cx="502.1" cy="137.2" r="1.35"/><circle cx="503.2" cy="140.6" r="1.35"/><circle cx="504.3" cy="144.6" r="1.35"/><circle cx="505.4" cy="143.9" r="1.35"/><circle cx="506.5" cy="146.9" r="1.35"/><circle cx="507.6" cy="150.2" r="1.35"/><circle cx="508.7" cy="151.5" r="1.35"/><circle cx="509.8" cy="152.1" r="1.35"/><circle cx="510.9" cy="154.1" r="1.35"/><circle cx="512.0" cy="154.6" r="1.35"/><circle cx="513.1" cy="154.4" r="1.35"/><circle cx="514.2" cy="155.0" r="1.35"/><circle cx="515.3" cy="156.6" r="1.35"/><circle cx="516.4" cy="158.7" r="1.35"/><circle cx="517.5" cy="158.2" r="1.35"/><circle cx="518.6" cy="158.6" r="1.35"/><circle cx="519.7" cy="159.3" r="1.35"/><circle cx="520.8" cy="159.2" r="1.35"/><circle cx="521.9" cy="160.8" r="1.35"/><circle cx="523.0" cy="160.4" r="1.35"/><circle cx="524.1" cy="161.9" r="1.35"/><circle cx="525.2" cy="160.2" r="1.35"/><circle cx="526.3" cy="162.4" r="1.35"/><circle cx="527.4" cy="161.9" r="1.35"/><circle cx="528.5" cy="161.2" r="1.35"/><circle cx="529.6" cy="163.1" r="1.35"/><circle cx="530.7" cy="162.5" r="1.35"/><circle cx="531.8" cy="161.3" r="1.35"/></g>
<path d="M380.0 163.0L380.6 162.9L381.2 162.9L381.8 162.8L382.4 162.8L383.0 162.8L383.6 162.7L384.2 162.7L384.8 162.6L385.4 162.6L386.0 162.5L386.6 162.4L387.2 162.4L387.8 162.3L388.4 162.2L389.0 162.2L389.6 162.1L390.2 162.0L390.8 161.9L391.4 161.9L392.0 161.8L392.6 161.7L393.2 161.6L393.8 161.5L394.4 161.4L395.0 161.3L395.6 161.2L396.2 161.1L396.8 161.0L397.4 160.9L398.0 160.7L398.6 160.6L399.2 160.5L399.8 160.4L400.4 160.2L401.0 160.1L401.6 160.0L402.2 159.8L402.8 159.7L403.4 159.5L404.0 159.4L404.6 159.3L405.2 159.1L405.8 158.9L406.4 158.8L407.0 158.6L407.6 158.5L408.2 158.3L408.8 158.1L409.4 158.0L410.0 157.8L410.6 157.6L411.2 157.5L411.8 157.3L412.4 157.1L413.0 157.0L413.6 156.8L414.2 156.6L414.8 156.4L415.4 156.3L416.0 156.1L416.6 155.9L417.2 155.7L417.8 155.5L418.4 155.4L419.0 155.2L419.6 155.0L420.2 154.8L420.8 154.6L421.4 154.4L422.0 154.2L422.6 154.0L423.2 153.8L423.8 153.6L424.4 153.4L425.0 153.2L425.6 152.9L426.2 152.7L426.8 152.5L427.4 152.2L428.0 152.0L428.6 151.7L429.2 151.4L429.8 151.1L430.4 150.8L431.0 150.5L431.6 150.2L432.2 149.8L432.8 149.5L433.4 149.1L434.0 148.7L434.6 148.3L435.2 147.8L435.8 147.3L436.4 146.8L437.0 146.3L437.6 145.7L438.2 145.1L438.8 144.5L439.4 143.9L440.0 143.2L440.6 142.5L441.2 141.7L441.8 140.9L442.4 140.1L443.0 139.2L443.6 138.3L444.2 137.4L444.8 136.4L445.4 135.4L446.0 134.3L446.6 133.2L447.2 132.1L447.8 130.9L448.4 129.7L449.0 128.4L449.6 127.1L450.2 125.8L450.8 124.4L451.4 123.1L452.0 121.6L452.6 120.2L453.2 118.7L453.8 117.2L454.4 115.7L455.0 114.1L455.6 112.6L456.2 111.0L456.8 109.4L457.4 107.8L458.0 106.3L458.6 104.7L459.2 103.1L459.8 101.5L460.4 99.9L461.0 98.4L461.6 96.8L462.2 95.3L462.8 93.8L463.4 92.3L464.0 90.9L464.6 89.5L465.2 88.2L465.8 86.9L466.4 85.7L467.0 84.5L467.6 83.4L468.2 82.3L468.8 81.3L469.4 80.4L470.0 79.5L470.6 78.8L471.2 78.1L471.8 77.5L472.4 77.0L473.0 76.5L473.6 76.2L474.2 76.0L474.8 75.8L475.4 75.8L476.0 75.8L476.6 76.0L477.2 76.2L477.8 76.5L478.4 77.0L479.0 77.5L479.6 78.2L480.2 78.9L480.8 79.7L481.4 80.7L482.0 81.7L482.6 82.8L483.2 84.0L483.8 85.2L484.4 86.6L485.0 88.0L485.6 89.5L486.2 91.1L486.8 92.7L487.4 94.4L488.0 96.1L488.6 97.9L489.2 99.7L489.8 101.6L490.4 103.5L491.0 105.4L491.6 107.3L492.2 109.3L492.8 111.2L493.4 113.2L494.0 115.1L494.6 117.1L495.2 119.0L495.8 120.9L496.4 122.8L497.0 124.7L497.6 126.5L498.2 128.3L498.8 130.1L499.4 131.8L500.0 133.5L500.6 135.1L501.2 136.7L501.8 138.2L502.4 139.7L503.0 141.1L503.6 142.4L504.2 143.8L504.8 145.0L505.4 146.2L506.0 147.4L506.6 148.5L507.2 149.5L507.8 150.5L508.4 151.4L509.0 152.3L509.6 153.1L510.2 153.9L510.8 154.6L511.4 155.3L512.0 155.9L512.6 156.5L513.2 157.1L513.8 157.6L514.4 158.1L515.0 158.5L515.6 158.9L516.2 159.3L516.8 159.7L517.4 160.0L518.0 160.3L518.6 160.5L519.2 160.8L519.8 161.0L520.4 161.2L521.0 161.4L521.6 161.6L522.2 161.7L522.8 161.9L523.4 162.0L524.0 162.1L524.6 162.2L525.2 162.3L525.8 162.4L526.4 162.4L527.0 162.5L527.6 162.6L528.2 162.6L528.8 162.7L529.4 162.7L530.0 162.7L530.6 162.8L531.2 162.8L531.8 162.8L532.4 162.9" fill="none" stroke="#2c2cf5" stroke-width="1.08" stroke-linejoin="round"/>
<g fill="none" stroke="#0c0c0c" stroke-width="1.0" stroke-linejoin="round"><path d="M380.0 163.7L384.0 163.7L388.0 163.7L392.0 163.7L396.0 163.7L400.0 163.6L404.0 163.6L408.0 163.6L412.0 163.6L416.0 163.6L420.0 163.6L424.0 163.6L428.0 163.6L432.0 163.6L436.0 163.6L440.0 163.5L444.0 163.5L448.0 163.5L452.0 163.5L456.0 163.5L460.0 163.5L464.0 163.5L468.0 163.5L472.0 163.5L476.0 163.4L480.0 163.4L484.0 163.4L488.0 163.4L492.0 163.4L496.0 163.4L500.0 163.4L504.0 163.4L508.0 163.4L512.0 163.4L516.0 163.3L520.0 163.3L524.0 163.3L528.0 163.3L532.0 163.3L532.6 163.3"/><path d="M380.0 163.6L380.6 163.6L381.2 163.6L381.8 163.6L382.4 163.6L383.0 163.6L383.6 163.6L384.2 163.6L384.8 163.6L385.4 163.6L386.0 163.6L386.6 163.6L387.2 163.6L387.8 163.6L388.4 163.6L389.0 163.6L389.6 163.6L390.2 163.6L390.8 163.6L391.4 163.6L392.0 163.6L392.6 163.6L393.2 163.6L393.8 163.6L394.4 163.6L395.0 163.6L395.6 163.5L396.2 163.5L396.8 163.5L397.4 163.5L398.0 163.5L398.6 163.5L399.2 163.5L399.8 163.5L400.4 163.5L401.0 163.5L401.6 163.5L402.2 163.5L402.8 163.5L403.4 163.5L404.0 163.5L404.6 163.5L405.2 163.5L405.8 163.5L406.4 163.5L407.0 163.4L407.6 163.4L408.2 163.4L408.8 163.4L409.4 163.4L410.0 163.4L410.6 163.4L411.2 163.4L411.8 163.3L412.4 163.3L413.0 163.3L413.6 163.3L414.2 163.3L414.8 163.2L415.4 163.2L416.0 163.2L416.6 163.1L417.2 163.1L417.8 163.1L418.4 163.0L419.0 163.0L419.6 162.9L420.2 162.8L420.8 162.8L421.4 162.7L422.0 162.6L422.6 162.5L423.2 162.4L423.8 162.3L424.4 162.2L425.0 162.0L425.6 161.9L426.2 161.7L426.8 161.6L427.4 161.4L428.0 161.2L428.6 161.0L429.2 160.7L429.8 160.5L430.4 160.2L431.0 159.9L431.6 159.6L432.2 159.3L432.8 158.9L433.4 158.5L434.0 158.1L434.6 157.7L435.2 157.2L435.8 156.7L436.4 156.2L437.0 155.6L437.6 155.0L438.2 154.4L438.8 153.7L439.4 153.0L440.0 152.3L440.6 151.5L441.2 150.7L441.8 149.9L442.4 149.0L443.0 148.1L443.6 147.2L444.2 146.2L444.8 145.2L445.4 144.1L446.0 143.0L446.6 141.9L447.2 140.8L447.8 139.6L448.4 138.4L449.0 137.2L449.6 135.9L450.2 134.6L450.8 133.4L451.4 132.0L452.0 130.7L452.6 129.4L453.2 128.1L453.8 126.7L454.4 125.4L455.0 124.1L455.6 122.8L456.2 121.4L456.8 120.2L457.4 118.9L458.0 117.6L458.6 116.4L459.2 115.3L459.8 114.1L460.4 113.0L461.0 112.0L461.6 111.0L462.2 110.0L462.8 109.1L463.4 108.3L464.0 107.5L464.6 106.8L465.2 106.2L465.8 105.7L466.4 105.2L467.0 104.8L467.6 104.5L468.2 104.2L468.8 104.1L469.4 104.0L470.0 104.0L470.6 104.1L471.2 104.3L471.8 104.6L472.4 104.9L473.0 105.3L473.6 105.8L474.2 106.4L474.8 107.0L475.4 107.7L476.0 108.5L476.6 109.4L477.2 110.3L477.8 111.2L478.4 112.3L479.0 113.3L479.6 114.4L480.2 115.6L480.8 116.8L481.4 118.0L482.0 119.2L482.6 120.5L483.2 121.8L483.8 123.1L484.4 124.4L485.0 125.8L485.6 127.1L486.2 128.4L486.8 129.8L487.4 131.1L488.0 132.4L488.6 133.7L489.2 135.0L489.8 136.2L490.4 137.5L491.0 138.7L491.6 139.9L492.2 141.0L492.8 142.2L493.4 143.3L494.0 144.3L494.6 145.4L495.2 146.4L495.8 147.3L496.4 148.3L497.0 149.2L497.6 150.0L498.2 150.9L498.8 151.6L499.4 152.4L500.0 153.1L500.6 153.8L501.2 154.4L501.8 155.0L502.4 155.6L503.0 156.2L503.6 156.7L504.2 157.2L504.8 157.6L505.4 158.1L506.0 158.5L506.6 158.8L507.2 159.2L507.8 159.5L508.4 159.8L509.0 160.1L509.6 160.4L510.2 160.6L510.8 160.8L511.4 161.0L512.0 161.2L512.6 161.4L513.2 161.6L513.8 161.7L514.4 161.9L515.0 162.0L515.6 162.1L516.2 162.2L516.8 162.3L517.4 162.4L518.0 162.5L518.6 162.5L519.2 162.6L519.8 162.7L520.4 162.7L521.0 162.8L521.6 162.8L522.2 162.8L522.8 162.9L523.4 162.9L524.0 162.9L524.6 163.0L525.2 163.0L525.8 163.0L526.4 163.0L527.0 163.0L527.6 163.1L528.2 163.1L528.8 163.1L529.4 163.1L530.0 163.1L530.6 163.1L531.2 163.1L531.8 163.1L532.4 163.1"/><path d="M380.0 163.7L380.6 163.7L381.2 163.7L381.8 163.7L382.4 163.7L383.0 163.7L383.6 163.7L384.2 163.7L384.8 163.7L385.4 163.7L386.0 163.7L386.6 163.6L387.2 163.6L387.8 163.6L388.4 163.6L389.0 163.6L389.6 163.6L390.2 163.6L390.8 163.6L391.4 163.6L392.0 163.6L392.6 163.6L393.2 163.6L393.8 163.6L394.4 163.6L395.0 163.6L395.6 163.6L396.2 163.6L396.8 163.6L397.4 163.6L398.0 163.6L398.6 163.6L399.2 163.6L399.8 163.6L400.4 163.6L401.0 163.6L401.6 163.6L402.2 163.6L402.8 163.6L403.4 163.6L404.0 163.6L404.6 163.6L405.2 163.6L405.8 163.6L406.4 163.6L407.0 163.6L407.6 163.6L408.2 163.6L408.8 163.6L409.4 163.6L410.0 163.6L410.6 163.6L411.2 163.6L411.8 163.6L412.4 163.6L413.0 163.6L413.6 163.6L414.2 163.5L414.8 163.5L415.4 163.5L416.0 163.5L416.6 163.5L417.2 163.5L417.8 163.5L418.4 163.5L419.0 163.5L419.6 163.5L420.2 163.5L420.8 163.5L421.4 163.5L422.0 163.5L422.6 163.5L423.2 163.5L423.8 163.5L424.4 163.5L425.0 163.5L425.6 163.5L426.2 163.5L426.8 163.5L427.4 163.5L428.0 163.5L428.6 163.5L429.2 163.5L429.8 163.4L430.4 163.4L431.0 163.4L431.6 163.4L432.2 163.4L432.8 163.4L433.4 163.4L434.0 163.4L434.6 163.4L435.2 163.4L435.8 163.3L436.4 163.3L437.0 163.3L437.6 163.3L438.2 163.2L438.8 163.2L439.4 163.2L440.0 163.1L440.6 163.1L441.2 163.1L441.8 163.0L442.4 162.9L443.0 162.9L443.6 162.8L444.2 162.7L444.8 162.6L445.4 162.5L446.0 162.4L446.6 162.3L447.2 162.2L447.8 162.0L448.4 161.9L449.0 161.7L449.6 161.5L450.2 161.3L450.8 161.1L451.4 160.8L452.0 160.6L452.6 160.3L453.2 160.0L453.8 159.7L454.4 159.3L455.0 158.9L455.6 158.5L456.2 158.1L456.8 157.6L457.4 157.1L458.0 156.6L458.6 156.0L459.2 155.4L459.8 154.8L460.4 154.1L461.0 153.5L461.6 152.7L462.2 152.0L462.8 151.2L463.4 150.4L464.0 149.5L464.6 148.7L465.2 147.8L465.8 146.9L466.4 145.9L467.0 144.9L467.6 144.0L468.2 143.0L468.8 141.9L469.4 140.9L470.0 139.9L470.6 138.8L471.2 137.8L471.8 136.8L472.4 135.8L473.0 134.8L473.6 133.8L474.2 132.8L474.8 131.8L475.4 130.9L476.0 130.1L476.6 129.2L477.2 128.4L477.8 127.7L478.4 127.0L479.0 126.3L479.6 125.7L480.2 125.2L480.8 124.7L481.4 124.3L482.0 124.0L482.6 123.7L483.2 123.6L483.8 123.4L484.4 123.4L485.0 123.4L485.6 123.5L486.2 123.7L486.8 124.0L487.4 124.3L488.0 124.7L488.6 125.2L489.2 125.7L489.8 126.3L490.4 126.9L491.0 127.6L491.6 128.4L492.2 129.2L492.8 130.0L493.4 130.9L494.0 131.8L494.6 132.7L495.2 133.7L495.8 134.7L496.4 135.7L497.0 136.7L497.6 137.7L498.2 138.8L498.8 139.8L499.4 140.8L500.0 141.9L500.6 142.9L501.2 143.9L501.8 144.9L502.4 145.8L503.0 146.8L503.6 147.7L504.2 148.6L504.8 149.4L505.4 150.3L506.0 151.1L506.6 151.9L507.2 152.6L507.8 153.3L508.4 154.0L509.0 154.7L509.6 155.3L510.2 155.9L510.8 156.4L511.4 157.0L512.0 157.5L512.6 157.9L513.2 158.4L513.8 158.8L514.4 159.1L515.0 159.5L515.6 159.8L516.2 160.1L516.8 160.4L517.4 160.7L518.0 160.9L518.6 161.1L519.2 161.3L519.8 161.5L520.4 161.7L521.0 161.8L521.6 162.0L522.2 162.1L522.8 162.2L523.4 162.3L524.0 162.4L524.6 162.5L525.2 162.6L525.8 162.7L526.4 162.7L527.0 162.8L527.6 162.8L528.2 162.9L528.8 162.9L529.4 162.9L530.0 163.0L530.6 163.0L531.2 163.0L531.8 163.0L532.4 163.1"/><path d="M380.0 163.1L380.6 163.1L381.2 163.0L381.8 163.0L382.4 162.9L383.0 162.9L383.6 162.8L384.2 162.8L384.8 162.7L385.4 162.7L386.0 162.6L386.6 162.6L387.2 162.5L387.8 162.5L388.4 162.4L389.0 162.3L389.6 162.3L390.2 162.2L390.8 162.1L391.4 162.0L392.0 161.9L392.6 161.9L393.2 161.8L393.8 161.7L394.4 161.6L395.0 161.5L395.6 161.4L396.2 161.3L396.8 161.2L397.4 161.1L398.0 160.9L398.6 160.8L399.2 160.7L399.8 160.6L400.4 160.5L401.0 160.3L401.6 160.2L402.2 160.1L402.8 159.9L403.4 159.8L404.0 159.6L404.6 159.5L405.2 159.3L405.8 159.2L406.4 159.0L407.0 158.9L407.6 158.7L408.2 158.6L408.8 158.4L409.4 158.3L410.0 158.1L410.6 158.0L411.2 157.8L411.8 157.6L412.4 157.5L413.0 157.3L413.6 157.2L414.2 157.0L414.8 156.9L415.4 156.7L416.0 156.6L416.6 156.4L417.2 156.3L417.8 156.1L418.4 156.0L419.0 155.9L419.6 155.7L420.2 155.6L420.8 155.5L421.4 155.4L422.0 155.3L422.6 155.1L423.2 155.0L423.8 154.9L424.4 154.9L425.0 154.8L425.6 154.7L426.2 154.6L426.8 154.6L427.4 154.5L428.0 154.4L428.6 154.4L429.2 154.4L429.8 154.3L430.4 154.3L431.0 154.3L431.6 154.3L432.2 154.3L432.8 154.3L433.4 154.3L434.0 154.4L434.6 154.4L435.2 154.4L435.8 154.5L436.4 154.5L437.0 154.6L437.6 154.7L438.2 154.7L438.8 154.8L439.4 154.9L440.0 155.0L440.6 155.1L441.2 155.2L441.8 155.3L442.4 155.4L443.0 155.5L443.6 155.7L444.2 155.8L444.8 155.9L445.4 156.1L446.0 156.2L446.6 156.3L447.2 156.5L447.8 156.6L448.4 156.8L449.0 156.9L449.6 157.1L450.2 157.2L450.8 157.4L451.4 157.5L452.0 157.7L452.6 157.9L453.2 158.0L453.8 158.2L454.4 158.3L455.0 158.5L455.6 158.6L456.2 158.8L456.8 158.9L457.4 159.1L458.0 159.2L458.6 159.4L459.2 159.5L459.8 159.6L460.4 159.8L461.0 159.9L461.6 160.0L462.2 160.2L462.8 160.3L463.4 160.4L464.0 160.5L464.6 160.6L465.2 160.8L465.8 160.9L466.4 161.0L467.0 161.1L467.6 161.2L468.2 161.3L468.8 161.4L469.4 161.5L470.0 161.6L470.6 161.6L471.2 161.7L471.8 161.8L472.4 161.9L473.0 162.0L473.6 162.0L474.2 162.1L474.8 162.2L475.4 162.2L476.0 162.3L476.6 162.3L477.2 162.4L477.8 162.5L478.4 162.5L479.0 162.5L479.6 162.6L480.2 162.6L480.8 162.7L481.4 162.7L482.0 162.8L482.6 162.8L483.2 162.8L483.8 162.8L484.4 162.9L485.0 162.9L485.6 162.9L486.2 163.0L486.8 163.0L487.4 163.0L488.0 163.0L488.6 163.0L489.2 163.1L489.8 163.1L490.4 163.1L491.0 163.1L491.6 163.1L492.2 163.1L492.8 163.1L493.4 163.2L494.0 163.2L494.6 163.2L495.2 163.2L495.8 163.2L496.4 163.2L497.0 163.2L497.6 163.2L498.2 163.2L498.8 163.2L499.4 163.2L500.0 163.2L500.6 163.2L501.2 163.2L501.8 163.2L502.4 163.2L503.0 163.2L503.6 163.3L504.2 163.3L504.8 163.3L505.4 163.3L506.0 163.3L506.6 163.3L507.2 163.3L507.8 163.3L508.4 163.3L509.0 163.3L509.6 163.3L510.2 163.3L510.8 163.3L511.4 163.3L512.0 163.3L512.6 163.3L513.2 163.3L513.8 163.3L514.4 163.3L515.0 163.3L515.6 163.3L516.2 163.3L516.8 163.3L517.4 163.3L518.0 163.3L518.6 163.3L519.2 163.3L519.8 163.3L520.4 163.3L521.0 163.3L521.6 163.3L522.2 163.3L522.8 163.3L523.4 163.3L524.0 163.3L524.6 163.3L525.2 163.3L525.8 163.3L526.4 163.3L527.0 163.3L527.6 163.3L528.2 163.3L528.8 163.3L529.4 163.3L530.0 163.3L530.6 163.3L531.2 163.2L531.8 163.2L532.4 163.2"/></g>
<path d="M377.50 9.10 L377.50 167.00 L535.70 167.00 L535.70 9.10 M377.50 9.10 L535.70 9.10 M372.10 11.90 L377.50 11.90 M372.10 37.10 L377.50 37.10 M372.10 62.30 L377.50 62.30 M372.10 87.50 L377.50 87.50 M372.10 112.80 L377.50 112.80 M372.10 138.00 L377.50 138.00 M372.10 163.30 L377.50 163.30 M380.05 167.00 L380.05 170.30 M389.60 167.00 L389.60 172.50 M399.15 167.00 L399.15 170.30 M408.70 167.00 L408.70 170.30 M418.25 167.00 L418.25 170.30 M427.80 167.00 L427.80 172.50 M437.35 167.00 L437.35 170.30 M446.90 167.00 L446.90 170.30 M456.45 167.00 L456.45 170.30 M466.00 167.00 L466.00 172.50 M475.55 167.00 L475.55 170.30 M485.10 167.00 L485.10 170.30 M494.65 167.00 L494.65 170.30 M504.20 167.00 L504.20 172.50 M513.75 167.00 L513.75 170.30 M523.30 167.00 L523.30 170.30 M532.85 167.00 L532.85 170.30" fill="none" stroke="#1c1c1c" stroke-width="1.35" stroke-linecap="butt"/>
<g fill="none" stroke="#0c0c0c" stroke-width="1.0" stroke-linejoin="round"><path d="M34.1 333.2L38.1 333.3L42.1 333.4L46.1 333.5L50.1 333.5L54.1 333.6L58.1 333.7L62.1 333.8L66.1 333.9L70.1 334.0L74.1 334.0L78.1 334.1L82.1 334.2L86.1 334.3L90.1 334.4L94.1 334.5L98.1 334.5L102.1 334.6L106.1 334.7L110.1 334.8L114.1 334.9L118.1 335.0L122.1 335.0L126.1 335.1L130.1 335.2L134.1 335.3L138.1 335.4L142.1 335.5L146.1 335.5L150.1 335.6L154.1 335.7L158.1 335.8L162.1 335.9L166.1 336.0L170.1 336.0L174.1 336.1L178.1 336.2L182.1 336.3L186.1 336.4L187.0 336.4"/><path d="M34.1 332.9L34.7 332.9L35.3 332.9L35.9 332.9L36.5 332.9L37.1 332.9L37.7 332.9L38.3 333.0L38.9 333.0L39.5 333.0L40.1 333.0L40.7 333.0L41.3 333.0L41.9 333.0L42.5 333.0L43.1 333.0L43.7 333.0L44.3 333.0L44.9 333.0L45.5 333.0L46.1 333.0L46.7 333.1L47.3 333.1L47.9 333.1L48.5 333.1L49.1 333.1L49.7 333.1L50.3 333.1L50.9 333.1L51.5 333.1L52.1 333.1L52.7 333.1L53.3 333.1L53.9 333.1L54.5 333.1L55.1 333.1L55.7 333.1L56.3 333.1L56.9 333.2L57.5 333.2L58.1 333.2L58.7 333.2L59.3 333.2L59.9 333.2L60.5 333.2L61.1 333.2L61.7 333.2L62.3 333.2L62.9 333.2L63.5 333.2L64.1 333.2L64.7 333.2L65.3 333.2L65.9 333.2L66.5 333.2L67.1 333.2L67.7 333.2L68.3 333.2L68.9 333.2L69.5 333.2L70.1 333.2L70.7 333.2L71.3 333.2L71.9 333.2L72.5 333.2L73.1 333.2L73.7 333.2L74.3 333.2L74.9 333.1L75.5 333.1L76.1 333.1L76.7 333.1L77.3 333.1L77.9 333.1L78.5 333.1L79.1 333.1L79.7 333.1L80.3 333.0L80.9 333.0L81.5 333.0L82.1 333.0L82.7 332.9L83.3 332.9L83.9 332.9L84.5 332.8L85.1 332.8L85.7 332.7L86.3 332.7L86.9 332.6L87.5 332.5L88.1 332.4L88.7 332.3L89.3 332.2L89.9 332.1L90.5 332.0L91.1 331.8L91.7 331.6L92.3 331.4L92.9 331.2L93.5 330.9L94.1 330.6L94.7 330.3L95.3 330.0L95.9 329.6L96.5 329.1L97.1 328.6L97.7 328.1L98.3 327.5L98.9 326.8L99.5 326.0L100.1 325.2L100.7 324.3L101.3 323.4L101.9 322.3L102.5 321.1L103.1 319.9L103.7 318.5L104.3 317.0L104.9 315.4L105.5 313.7L106.1 311.8L106.7 309.9L107.3 307.8L107.9 305.5L108.5 303.2L109.1 300.7L109.7 298.0L110.3 295.3L110.9 292.4L111.5 289.3L112.1 286.2L112.7 282.9L113.3 279.5L113.9 276.0L114.5 272.4L115.1 268.7L115.7 265.0L116.3 261.2L116.9 257.3L117.5 253.4L118.1 249.5L118.7 245.6L119.3 241.7L119.9 237.9L120.5 234.1L121.1 230.4L121.7 226.8L122.3 223.3L122.9 220.0L123.5 216.8L124.1 213.8L124.7 211.1L125.3 208.5L125.9 206.3L126.5 204.2L127.1 202.5L127.7 201.1L128.3 199.9L128.9 199.1L129.5 198.7L130.1 198.5L130.7 198.7L131.3 199.2L131.9 200.0L132.5 201.2L133.1 202.6L133.7 204.4L134.3 206.4L134.9 208.7L135.5 211.3L136.1 214.1L136.7 217.1L137.3 220.3L137.9 223.6L138.5 227.1L139.1 230.8L139.7 234.5L140.3 238.3L140.9 242.2L141.5 246.1L142.1 250.0L142.7 253.9L143.3 257.9L143.9 261.7L144.5 265.6L145.1 269.4L145.7 273.1L146.3 276.7L146.9 280.2L147.5 283.6L148.1 286.9L148.7 290.1L149.3 293.2L149.9 296.1L150.5 298.9L151.1 301.6L151.7 304.1L152.3 306.5L152.9 308.7L153.5 310.9L154.1 312.9L154.7 314.7L155.3 316.5L155.9 318.1L156.5 319.6L157.1 321.0L157.7 322.3L158.3 323.5L158.9 324.6L159.5 325.6L160.1 326.5L160.7 327.3L161.3 328.1L161.9 328.8L162.5 329.4L163.1 330.0L163.7 330.5L164.3 331.0L164.9 331.4L165.5 331.8L166.1 332.1L166.7 332.5L167.3 332.7L167.9 333.0L168.5 333.2L169.1 333.4L169.7 333.6L170.3 333.8L170.9 333.9L171.5 334.1L172.1 334.2L172.7 334.3L173.3 334.4L173.9 334.5L174.5 334.6L175.1 334.7L175.7 334.7L176.3 334.8L176.9 334.9L177.5 334.9L178.1 335.0L178.7 335.0L179.3 335.1L179.9 335.1L180.5 335.2L181.1 335.2L181.7 335.2L182.3 335.3L182.9 335.3L183.5 335.4L184.1 335.4L184.7 335.4L185.3 335.5L185.9 335.5L186.5 335.5"/><path d="M34.1 333.2L34.7 333.2L35.3 333.2L35.9 333.2L36.5 333.2L37.1 333.2L37.7 333.2L38.3 333.2L38.9 333.3L39.5 333.3L40.1 333.3L40.7 333.3L41.3 333.3L41.9 333.3L42.5 333.3L43.1 333.3L43.7 333.3L44.3 333.3L44.9 333.3L45.5 333.4L46.1 333.4L46.7 333.4L47.3 333.4L47.9 333.4L48.5 333.4L49.1 333.4L49.7 333.4L50.3 333.4L50.9 333.4L51.5 333.4L52.1 333.3L52.7 333.3L53.3 333.3L53.9 333.3L54.5 333.3L55.1 333.3L55.7 333.2L56.3 333.2L56.9 333.1L57.5 333.1L58.1 333.0L58.7 333.0L59.3 332.9L59.9 332.8L60.5 332.8L61.1 332.7L61.7 332.5L62.3 332.4L62.9 332.3L63.5 332.2L64.1 332.0L64.7 331.8L65.3 331.6L65.9 331.4L66.5 331.2L67.1 331.0L67.7 330.7L68.3 330.4L68.9 330.1L69.5 329.8L70.1 329.5L70.7 329.1L71.3 328.7L71.9 328.3L72.5 327.9L73.1 327.4L73.7 326.9L74.3 326.4L74.9 325.9L75.5 325.3L76.1 324.8L76.7 324.2L77.3 323.5L77.9 322.9L78.5 322.2L79.1 321.5L79.7 320.8L80.3 320.1L80.9 319.3L81.5 318.6L82.1 317.8L82.7 317.0L83.3 316.3L83.9 315.5L84.5 314.7L85.1 313.9L85.7 313.1L86.3 312.4L86.9 311.6L87.5 310.8L88.1 310.1L88.7 309.4L89.3 308.7L89.9 308.1L90.5 307.4L91.1 306.8L91.7 306.3L92.3 305.8L92.9 305.3L93.5 304.8L94.1 304.5L94.7 304.1L95.3 303.8L95.9 303.6L96.5 303.4L97.1 303.3L97.7 303.2L98.3 303.2L98.9 303.2L99.5 303.3L100.1 303.5L100.7 303.7L101.3 304.0L101.9 304.3L102.5 304.6L103.1 305.0L103.7 305.5L104.3 306.0L104.9 306.6L105.5 307.1L106.1 307.8L106.7 308.4L107.3 309.1L107.9 309.8L108.5 310.5L109.1 311.3L109.7 312.1L110.3 312.9L110.9 313.7L111.5 314.5L112.1 315.3L112.7 316.1L113.3 316.9L113.9 317.7L114.5 318.5L115.1 319.3L115.7 320.1L116.3 320.8L116.9 321.6L117.5 322.3L118.1 323.0L118.7 323.7L119.3 324.4L119.9 325.1L120.5 325.7L121.1 326.3L121.7 326.9L122.3 327.4L122.9 328.0L123.5 328.5L124.1 329.0L124.7 329.4L125.3 329.9L125.9 330.3L126.5 330.7L127.1 331.0L127.7 331.4L128.3 331.7L128.9 332.0L129.5 332.3L130.1 332.5L130.7 332.8L131.3 333.0L131.9 333.2L132.5 333.4L133.1 333.6L133.7 333.8L134.3 333.9L134.9 334.1L135.5 334.2L136.1 334.3L136.7 334.4L137.3 334.5L137.9 334.6L138.5 334.7L139.1 334.8L139.7 334.9L140.3 334.9L140.9 335.0L141.5 335.1L142.1 335.1L142.7 335.2L143.3 335.2L143.9 335.2L144.5 335.3L145.1 335.3L145.7 335.3L146.3 335.4L146.9 335.4L147.5 335.4L148.1 335.5L148.7 335.5L149.3 335.5L149.9 335.5L150.5 335.5L151.1 335.6L151.7 335.6L152.3 335.6L152.9 335.6L153.5 335.6L154.1 335.6L154.7 335.7L155.3 335.7L155.9 335.7L156.5 335.7L157.1 335.7L157.7 335.7L158.3 335.8L158.9 335.8L159.5 335.8L160.1 335.8L160.7 335.8L161.3 335.8L161.9 335.8L162.5 335.8L163.1 335.9L163.7 335.9L164.3 335.9L164.9 335.9L165.5 335.9L166.1 335.9L166.7 335.9L167.3 336.0L167.9 336.0L168.5 336.0L169.1 336.0L169.7 336.0L170.3 336.0L170.9 336.0L171.5 336.0L172.1 336.1L172.7 336.1L173.3 336.1L173.9 336.1L174.5 336.1L175.1 336.1L175.7 336.1L176.3 336.1L176.9 336.2L177.5 336.2L178.1 336.2L178.7 336.2L179.3 336.2L179.9 336.2L180.5 336.2L181.1 336.3L181.7 336.3L182.3 336.3L182.9 336.3L183.5 336.3L184.1 336.3L184.7 336.3L185.3 336.3L185.9 336.4L186.5 336.4"/><path d="M34.1 333.2L34.7 333.2L35.3 333.2L35.9 333.2L36.5 333.2L37.1 333.2L37.7 333.3L38.3 333.3L38.9 333.3L39.5 333.3L40.1 333.3L40.7 333.3L41.3 333.3L41.9 333.3L42.5 333.4L43.1 333.4L43.7 333.4L44.3 333.4L44.9 333.4L45.5 333.4L46.1 333.4L46.7 333.4L47.3 333.4L47.9 333.5L48.5 333.5L49.1 333.5L49.7 333.5L50.3 333.5L50.9 333.5L51.5 333.5L52.1 333.5L52.7 333.6L53.3 333.6L53.9 333.6L54.5 333.6L55.1 333.6L55.7 333.6L56.3 333.6L56.9 333.6L57.5 333.6L58.1 333.7L58.7 333.7L59.3 333.7L59.9 333.7L60.5 333.7L61.1 333.7L61.7 333.7L62.3 333.7L62.9 333.7L63.5 333.7L64.1 333.7L64.7 333.7L65.3 333.7L65.9 333.7L66.5 333.7L67.1 333.7L67.7 333.7L68.3 333.7L68.9 333.7L69.5 333.7L70.1 333.7L70.7 333.7L71.3 333.6L71.9 333.6L72.5 333.6L73.1 333.5L73.7 333.5L74.3 333.5L74.9 333.4L75.5 333.4L76.1 333.3L76.7 333.2L77.3 333.2L77.9 333.1L78.5 333.0L79.1 332.9L79.7 332.8L80.3 332.6L80.9 332.5L81.5 332.4L82.1 332.2L82.7 332.0L83.3 331.9L83.9 331.7L84.5 331.4L85.1 331.2L85.7 331.0L86.3 330.7L86.9 330.5L87.5 330.2L88.1 329.9L88.7 329.5L89.3 329.2L89.9 328.9L90.5 328.5L91.1 328.1L91.7 327.7L92.3 327.3L92.9 326.8L93.5 326.4L94.1 325.9L94.7 325.4L95.3 324.9L95.9 324.4L96.5 323.9L97.1 323.4L97.7 322.9L98.3 322.3L98.9 321.8L99.5 321.2L100.1 320.7L100.7 320.1L101.3 319.6L101.9 319.1L102.5 318.5L103.1 318.0L103.7 317.5L104.3 317.0L104.9 316.5L105.5 316.0L106.1 315.6L106.7 315.1L107.3 314.7L107.9 314.3L108.5 314.0L109.1 313.6L109.7 313.3L110.3 313.1L110.9 312.8L111.5 312.6L112.1 312.5L112.7 312.4L113.3 312.3L113.9 312.2L114.5 312.2L115.1 312.2L115.7 312.3L116.3 312.4L116.9 312.5L117.5 312.7L118.1 312.9L118.7 313.2L119.3 313.4L119.9 313.8L120.5 314.1L121.1 314.5L121.7 314.9L122.3 315.3L122.9 315.8L123.5 316.2L124.1 316.7L124.7 317.2L125.3 317.8L125.9 318.3L126.5 318.8L127.1 319.4L127.7 320.0L128.3 320.5L128.9 321.1L129.5 321.7L130.1 322.3L130.7 322.8L131.3 323.4L131.9 324.0L132.5 324.5L133.1 325.0L133.7 325.6L134.3 326.1L134.9 326.6L135.5 327.1L136.1 327.6L136.7 328.0L137.3 328.5L137.9 328.9L138.5 329.4L139.1 329.8L139.7 330.1L140.3 330.5L140.9 330.9L141.5 331.2L142.1 331.5L142.7 331.8L143.3 332.1L143.9 332.4L144.5 332.6L145.1 332.9L145.7 333.1L146.3 333.3L146.9 333.5L147.5 333.7L148.1 333.9L148.7 334.0L149.3 334.2L149.9 334.3L150.5 334.4L151.1 334.6L151.7 334.7L152.3 334.8L152.9 334.9L153.5 335.0L154.1 335.1L154.7 335.1L155.3 335.2L155.9 335.3L156.5 335.3L157.1 335.4L157.7 335.4L158.3 335.5L158.9 335.5L159.5 335.6L160.1 335.6L160.7 335.6L161.3 335.7L161.9 335.7L162.5 335.7L163.1 335.8L163.7 335.8L164.3 335.8L164.9 335.8L165.5 335.9L166.1 335.9L166.7 335.9L167.3 335.9L167.9 335.9L168.5 335.9L169.1 336.0L169.7 336.0L170.3 336.0L170.9 336.0L171.5 336.0L172.1 336.0L172.7 336.1L173.3 336.1L173.9 336.1L174.5 336.1L175.1 336.1L175.7 336.1L176.3 336.1L176.9 336.2L177.5 336.2L178.1 336.2L178.7 336.2L179.3 336.2L179.9 336.2L180.5 336.2L181.1 336.2L181.7 336.3L182.3 336.3L182.9 336.3L183.5 336.3L184.1 336.3L184.7 336.3L185.3 336.3L185.9 336.4L186.5 336.4"/><path d="M34.1 332.9L34.7 332.9L35.3 332.8L35.9 332.8L36.5 332.8L37.1 332.8L37.7 332.7L38.3 332.7L38.9 332.6L39.5 332.6L40.1 332.6L40.7 332.5L41.3 332.5L41.9 332.4L42.5 332.3L43.1 332.3L43.7 332.2L44.3 332.1L44.9 332.1L45.5 332.0L46.1 331.9L46.7 331.8L47.3 331.7L47.9 331.6L48.5 331.5L49.1 331.4L49.7 331.3L50.3 331.2L50.9 331.1L51.5 331.0L52.1 330.8L52.7 330.7L53.3 330.6L53.9 330.5L54.5 330.4L55.1 330.2L55.7 330.1L56.3 330.0L56.9 329.9L57.5 329.7L58.1 329.6L58.7 329.5L59.3 329.4L59.9 329.3L60.5 329.2L61.1 329.1L61.7 329.0L62.3 328.9L62.9 328.8L63.5 328.8L64.1 328.7L64.7 328.7L65.3 328.6L65.9 328.6L66.5 328.5L67.1 328.5L67.7 328.5L68.3 328.5L68.9 328.5L69.5 328.5L70.1 328.5L70.7 328.6L71.3 328.6L71.9 328.7L72.5 328.7L73.1 328.8L73.7 328.9L74.3 329.0L74.9 329.1L75.5 329.2L76.1 329.3L76.7 329.4L77.3 329.5L77.9 329.6L78.5 329.8L79.1 329.9L79.7 330.0L80.3 330.2L80.9 330.3L81.5 330.5L82.1 330.6L82.7 330.8L83.3 330.9L83.9 331.1L84.5 331.2L85.1 331.4L85.7 331.5L86.3 331.6L86.9 331.8L87.5 331.9L88.1 332.1L88.7 332.2L89.3 332.3L89.9 332.5L90.5 332.6L91.1 332.7L91.7 332.8L92.3 332.9L92.9 333.0L93.5 333.1L94.1 333.2L94.7 333.3L95.3 333.4L95.9 333.5L96.5 333.6L97.1 333.7L97.7 333.7L98.3 333.8L98.9 333.9L99.5 334.0L100.1 334.0L100.7 334.1L101.3 334.1L101.9 334.2L102.5 334.2L103.1 334.3L103.7 334.3L104.3 334.4L104.9 334.4L105.5 334.4L106.1 334.5L106.7 334.5L107.3 334.5L107.9 334.6L108.5 334.6L109.1 334.6L109.7 334.6L110.3 334.7L110.9 334.7L111.5 334.7L112.1 334.7L112.7 334.8L113.3 334.8L113.9 334.8L114.5 334.8L115.1 334.8L115.7 334.8L116.3 334.9L116.9 334.9L117.5 334.9L118.1 334.9L118.7 334.9L119.3 334.9L119.9 335.0L120.5 335.0L121.1 335.0L121.7 335.0L122.3 335.0L122.9 335.0L123.5 335.0L124.1 335.1L124.7 335.1L125.3 335.1L125.9 335.1L126.5 335.1L127.1 335.1L127.7 335.1L128.3 335.2L128.9 335.2L129.5 335.2L130.1 335.2L130.7 335.2L131.3 335.2L131.9 335.2L132.5 335.2L133.1 335.3L133.7 335.3L134.3 335.3L134.9 335.3L135.5 335.3L136.1 335.3L136.7 335.3L137.3 335.3L137.9 335.4L138.5 335.4L139.1 335.4L139.7 335.4L140.3 335.4L140.9 335.4L141.5 335.4L142.1 335.4L142.7 335.5L143.3 335.5L143.9 335.5L144.5 335.5L145.1 335.5L145.7 335.5L146.3 335.5L146.9 335.5L147.5 335.6L148.1 335.6L148.7 335.6L149.3 335.6L149.9 335.6L150.5 335.6L151.1 335.6L151.7 335.7L152.3 335.7L152.9 335.7L153.5 335.7L154.1 335.7L154.7 335.7L155.3 335.7L155.9 335.7L156.5 335.8L157.1 335.8L157.7 335.8L158.3 335.8L158.9 335.8L159.5 335.8L160.1 335.8L160.7 335.8L161.3 335.9L161.9 335.9L162.5 335.9L163.1 335.9L163.7 335.9L164.3 335.9L164.9 335.9L165.5 335.9L166.1 336.0L166.7 336.0L167.3 336.0L167.9 336.0L168.5 336.0L169.1 336.0L169.7 336.0L170.3 336.0L170.9 336.1L171.5 336.1L172.1 336.1L172.7 336.1L173.3 336.1L173.9 336.1L174.5 336.1L175.1 336.1L175.7 336.2L176.3 336.2L176.9 336.2L177.5 336.2L178.1 336.2L178.7 336.2L179.3 336.2L179.9 336.2L180.5 336.3L181.1 336.3L181.7 336.3L182.3 336.3L182.9 336.3L183.5 336.3L184.1 336.3L184.7 336.3L185.3 336.4L185.9 336.4L186.5 336.4"/></g>
<g fill="none" stroke="#ff3b3b" stroke-width="0.75" stroke-opacity="0.85"><circle cx="34.1" cy="332.5" r="1.15"/><circle cx="35.0" cy="332.5" r="1.15"/><circle cx="35.9" cy="332.4" r="1.15"/><circle cx="36.8" cy="332.4" r="1.15"/><circle cx="37.7" cy="332.3" r="1.15"/><circle cx="38.6" cy="332.3" r="1.15"/><circle cx="39.5" cy="332.2" r="1.15"/><circle cx="40.4" cy="332.1" r="1.15"/><circle cx="41.3" cy="332.0" r="1.15"/><circle cx="42.2" cy="331.9" r="1.15"/><circle cx="43.1" cy="331.8" r="1.15"/><circle cx="44.0" cy="331.7" r="1.15"/><circle cx="44.9" cy="331.6" r="1.15"/><circle cx="45.8" cy="331.5" r="1.15"/><circle cx="46.7" cy="331.3" r="1.15"/><circle cx="47.6" cy="331.2" r="1.15"/><circle cx="48.5" cy="331.0" r="1.15"/><circle cx="49.4" cy="330.8" r="1.15"/><circle cx="50.3" cy="330.6" r="1.15"/><circle cx="51.2" cy="330.4" r="1.15"/><circle cx="52.1" cy="330.2" r="1.15"/><circle cx="53.0" cy="330.0" r="1.15"/><circle cx="53.9" cy="329.8" r="1.15"/><circle cx="54.8" cy="329.6" r="1.15"/><circle cx="55.7" cy="329.3" r="1.15"/><circle cx="56.6" cy="329.1" r="1.15"/><circle cx="57.5" cy="328.8" r="1.15"/><circle cx="58.4" cy="328.6" r="1.15"/><circle cx="59.3" cy="328.3" r="1.15"/><circle cx="60.2" cy="328.0" r="1.15"/><circle cx="61.1" cy="327.7" r="1.15"/><circle cx="62.0" cy="327.4" r="1.15"/><circle cx="62.9" cy="327.1" r="1.15"/><circle cx="63.8" cy="326.8" r="1.15"/><circle cx="64.7" cy="326.5" r="1.15"/><circle cx="65.6" cy="326.2" r="1.15"/><circle cx="66.5" cy="325.8" r="1.15"/><circle cx="67.4" cy="325.5" r="1.15"/><circle cx="68.3" cy="325.1" r="1.15"/><circle cx="69.2" cy="324.6" r="1.15"/><circle cx="70.1" cy="324.2" r="1.15"/><circle cx="71.0" cy="323.7" r="1.15"/><circle cx="71.9" cy="323.2" r="1.15"/><circle cx="72.8" cy="322.6" r="1.15"/><circle cx="73.7" cy="322.0" r="1.15"/><circle cx="74.6" cy="321.4" r="1.15"/><circle cx="75.5" cy="320.7" r="1.15"/><circle cx="76.4" cy="319.9" r="1.15"/><circle cx="77.3" cy="319.1" r="1.15"/><circle cx="78.2" cy="318.3" r="1.15"/><circle cx="79.1" cy="317.3" r="1.15"/><circle cx="80.0" cy="316.3" r="1.15"/><circle cx="80.9" cy="315.3" r="1.15"/><circle cx="81.8" cy="314.1" r="1.15"/><circle cx="82.7" cy="313.0" r="1.15"/><circle cx="83.6" cy="311.7" r="1.15"/><circle cx="84.5" cy="310.4" r="1.15"/><circle cx="85.4" cy="309.1" r="1.15"/><circle cx="86.3" cy="307.6" r="1.15"/><circle cx="87.2" cy="306.2" r="1.15"/><circle cx="88.1" cy="304.7" r="1.15"/><circle cx="89.0" cy="303.2" r="1.15"/><circle cx="89.9" cy="301.6" r="1.15"/><circle cx="90.8" cy="300.0" r="1.15"/><circle cx="91.7" cy="298.4" r="1.15"/><circle cx="92.6" cy="296.8" r="1.15"/><circle cx="93.5" cy="295.2" r="1.15"/><circle cx="94.4" cy="293.5" r="1.15"/><circle cx="95.3" cy="291.8" r="1.15"/><circle cx="96.2" cy="290.1" r="1.15"/><circle cx="97.1" cy="288.4" r="1.15"/><circle cx="98.0" cy="286.7" r="1.15"/><circle cx="98.9" cy="284.9" r="1.15"/><circle cx="99.8" cy="283.1" r="1.15"/><circle cx="100.7" cy="281.2" r="1.15"/><circle cx="101.6" cy="279.3" r="1.15"/><circle cx="102.5" cy="277.2" r="1.15"/><circle cx="103.4" cy="275.1" r="1.15"/><circle cx="104.3" cy="272.9" r="1.15"/><circle cx="105.2" cy="270.5" r="1.15"/><circle cx="106.1" cy="267.9" r="1.15"/><circle cx="107.0" cy="265.3" r="1.15"/><circle cx="107.9" cy="262.4" r="1.15"/><circle cx="108.8" cy="259.4" r="1.15"/><circle cx="109.7" cy="256.1" r="1.15"/><circle cx="110.6" cy="252.7" r="1.15"/><circle cx="111.5" cy="249.1" r="1.15"/><circle cx="112.4" cy="245.3" r="1.15"/><circle cx="113.3" cy="241.3" r="1.15"/><circle cx="114.2" cy="237.2" r="1.15"/><circle cx="115.1" cy="232.9" r="1.15"/><circle cx="116.0" cy="228.6" r="1.15"/><circle cx="116.9" cy="224.2" r="1.15"/><circle cx="117.8" cy="219.7" r="1.15"/><circle cx="118.7" cy="215.3" r="1.15"/><circle cx="119.6" cy="211.0" r="1.15"/><circle cx="120.5" cy="206.8" r="1.15"/><circle cx="121.4" cy="202.8" r="1.15"/><circle cx="122.3" cy="199.1" r="1.15"/><circle cx="123.2" cy="195.6" r="1.15"/><circle cx="124.1" cy="192.6" r="1.15"/><circle cx="125.0" cy="190.0" r="1.15"/><circle cx="125.9" cy="187.9" r="1.15"/><circle cx="126.8" cy="186.4" r="1.15"/><circle cx="127.7" cy="185.5" r="1.15"/><circle cx="128.6" cy="185.2" r="1.15"/><circle cx="129.5" cy="185.6" r="1.15"/><circle cx="130.4" cy="186.7" r="1.15"/><circle cx="131.3" cy="188.4" r="1.15"/><circle cx="132.2" cy="190.8" r="1.15"/><circle cx="133.1" cy="193.9" r="1.15"/><circle cx="134.0" cy="197.6" r="1.15"/><circle cx="134.9" cy="201.8" r="1.15"/><circle cx="135.8" cy="206.5" r="1.15"/><circle cx="136.7" cy="211.7" r="1.15"/><circle cx="137.6" cy="217.2" r="1.15"/><circle cx="138.5" cy="223.0" r="1.15"/><circle cx="139.4" cy="229.0" r="1.15"/><circle cx="140.3" cy="235.1" r="1.15"/><circle cx="141.2" cy="241.4" r="1.15"/><circle cx="142.1" cy="247.7" r="1.15"/><circle cx="143.0" cy="253.9" r="1.15"/><circle cx="143.9" cy="260.0" r="1.15"/><circle cx="144.8" cy="266.0" r="1.15"/><circle cx="145.7" cy="271.8" r="1.15"/><circle cx="146.6" cy="277.4" r="1.15"/><circle cx="147.5" cy="282.8" r="1.15"/><circle cx="148.4" cy="287.8" r="1.15"/><circle cx="149.3" cy="292.6" r="1.15"/><circle cx="150.2" cy="297.0" r="1.15"/><circle cx="151.1" cy="301.1" r="1.15"/><circle cx="152.0" cy="304.8" r="1.15"/><circle cx="152.9" cy="308.3" r="1.15"/><circle cx="153.8" cy="311.4" r="1.15"/><circle cx="154.7" cy="314.1" r="1.15"/><circle cx="155.6" cy="316.6" r="1.15"/><circle cx="156.5" cy="318.8" r="1.15"/><circle cx="157.4" cy="320.6" r="1.15"/><circle cx="158.3" cy="322.2" r="1.15"/><circle cx="159.2" cy="323.6" r="1.15"/><circle cx="160.1" cy="324.8" r="1.15"/><circle cx="161.0" cy="325.8" r="1.15"/><circle cx="161.9" cy="326.7" r="1.15"/><circle cx="162.8" cy="327.5" r="1.15"/><circle cx="163.7" cy="328.3" r="1.15"/><circle cx="164.6" cy="329.0" r="1.15"/><circle cx="165.5" cy="329.6" r="1.15"/><circle cx="166.4" cy="330.3" r="1.15"/><circle cx="167.3" cy="330.9" r="1.15"/><circle cx="168.2" cy="331.5" r="1.15"/><circle cx="169.1" cy="332.1" r="1.15"/><circle cx="170.0" cy="332.6" r="1.15"/><circle cx="170.9" cy="333.1" r="1.15"/><circle cx="171.8" cy="333.5" r="1.15"/><circle cx="172.7" cy="333.8" r="1.15"/><circle cx="173.6" cy="334.1" r="1.15"/><circle cx="174.5" cy="334.3" r="1.15"/><circle cx="175.4" cy="334.5" r="1.15"/><circle cx="176.3" cy="334.7" r="1.15"/><circle cx="177.2" cy="334.8" r="1.15"/><circle cx="178.1" cy="334.9" r="1.15"/><circle cx="179.0" cy="335.0" r="1.15"/><circle cx="179.9" cy="335.1" r="1.15"/><circle cx="180.8" cy="335.1" r="1.15"/><circle cx="181.7" cy="335.2" r="1.15"/><circle cx="182.6" cy="335.3" r="1.15"/><circle cx="183.5" cy="335.3" r="1.15"/><circle cx="184.4" cy="335.4" r="1.15"/><circle cx="185.3" cy="335.4" r="1.15"/><circle cx="186.2" cy="335.5" r="1.15"/></g>
<path d="M34.1 332.5L34.7 332.5L35.3 332.5L35.9 332.4L36.5 332.4L37.1 332.4L37.7 332.3L38.3 332.3L38.9 332.3L39.5 332.2L40.1 332.2L40.7 332.1L41.3 332.0L41.9 332.0L42.5 331.9L43.1 331.8L43.7 331.8L44.3 331.7L44.9 331.6L45.5 331.5L46.1 331.4L46.7 331.3L47.3 331.2L47.9 331.1L48.5 331.0L49.1 330.9L49.7 330.8L50.3 330.6L50.9 330.5L51.5 330.4L52.1 330.2L52.7 330.1L53.3 329.9L53.9 329.8L54.5 329.6L55.1 329.5L55.7 329.3L56.3 329.2L56.9 329.0L57.5 328.8L58.1 328.7L58.7 328.5L59.3 328.3L59.9 328.1L60.5 327.9L61.1 327.7L61.7 327.5L62.3 327.3L62.9 327.1L63.5 326.9L64.1 326.7L64.7 326.5L65.3 326.3L65.9 326.1L66.5 325.8L67.1 325.6L67.7 325.3L68.3 325.1L68.9 324.8L69.5 324.5L70.1 324.2L70.7 323.9L71.3 323.5L71.9 323.2L72.5 322.8L73.1 322.4L73.7 322.0L74.3 321.6L74.9 321.2L75.5 320.7L76.1 320.2L76.7 319.7L77.3 319.1L77.9 318.6L78.5 317.9L79.1 317.3L79.7 316.7L80.3 316.0L80.9 315.3L81.5 314.5L82.1 313.8L82.7 313.0L83.3 312.1L83.9 311.3L84.5 310.4L85.1 309.5L85.7 308.6L86.3 307.6L86.9 306.7L87.5 305.7L88.1 304.7L88.7 303.7L89.3 302.7L89.9 301.6L90.5 300.6L91.1 299.5L91.7 298.4L92.3 297.4L92.9 296.3L93.5 295.2L94.1 294.1L94.7 293.0L95.3 291.8L95.9 290.7L96.5 289.6L97.1 288.4L97.7 287.3L98.3 286.1L98.9 284.9L99.5 283.7L100.1 282.5L100.7 281.2L101.3 279.9L101.9 278.6L102.5 277.2L103.1 275.8L103.7 274.4L104.3 272.9L104.9 271.3L105.5 269.6L106.1 267.9L106.7 266.2L107.3 264.3L107.9 262.4L108.5 260.4L109.1 258.3L109.7 256.1L110.3 253.9L110.9 251.5L111.5 249.1L112.1 246.6L112.7 244.0L113.3 241.3L113.9 238.6L114.5 235.8L115.1 232.9L115.7 230.1L116.3 227.1L116.9 224.2L117.5 221.2L118.1 218.3L118.7 215.3L119.3 212.4L119.9 209.6L120.5 206.8L121.1 204.1L121.7 201.5L122.3 199.1L122.9 196.7L123.5 194.6L124.1 192.6L124.7 190.8L125.3 189.2L125.9 187.9L126.5 186.8L127.1 186.0L127.7 185.5L128.3 185.2L128.9 185.2L129.5 185.6L130.1 186.2L130.7 187.2L131.3 188.4L131.9 190.0L132.5 191.8L133.1 193.9L133.7 196.3L134.3 198.9L134.9 201.8L135.5 204.9L136.1 208.2L136.7 211.7L137.3 215.3L137.9 219.1L138.5 223.0L139.1 226.9L139.7 231.0L140.3 235.1L140.9 239.3L141.5 243.5L142.1 247.7L142.7 251.8L143.3 256.0L143.9 260.0L144.5 264.1L145.1 268.0L145.7 271.9L146.3 275.6L146.9 279.2L147.5 282.8L148.1 286.2L148.7 289.4L149.3 292.6L149.9 295.6L150.5 298.4L151.1 301.2L151.7 303.7L152.3 306.2L152.9 308.5L153.5 310.6L154.1 312.6L154.7 314.5L155.3 316.3L155.9 317.9L156.5 319.5L157.1 320.9L157.7 322.2L158.3 323.4L158.9 324.5L159.5 325.5L160.1 326.4L160.7 327.2L161.3 328.0L161.9 328.7L162.5 329.4L163.1 329.9L163.7 330.5L164.3 330.9L164.9 331.4L165.5 331.8L166.1 332.1L166.7 332.4L167.3 332.7L167.9 332.9L168.5 333.2L169.1 333.4L169.7 333.6L170.3 333.7L170.9 333.9L171.5 334.0L172.1 334.2L172.7 334.3L173.3 334.4L173.9 334.5L174.5 334.5L175.1 334.6L175.7 334.7L176.3 334.8L176.9 334.8L177.5 334.9L178.1 334.9L178.7 335.0L179.3 335.0L179.9 335.1L180.5 335.1L181.1 335.2L181.7 335.2L182.3 335.3L182.9 335.3L183.5 335.3L184.1 335.4L184.7 335.4L185.3 335.4L185.9 335.5L186.5 335.5" fill="none" stroke="#2c2cf5" stroke-width="1.08" stroke-linejoin="round"/>
<path d="M31.70 184.60 L31.70 339.80 L187.00 339.80 M26.30 199.90 L31.70 199.90 M26.30 229.80 L31.70 229.80 M26.30 259.60 L31.70 259.60 M26.30 289.50 L31.70 289.50 M26.30 319.30 L31.70 319.30 M34.10 339.80 L34.10 345.30 M43.10 339.80 L43.10 343.10 M52.10 339.80 L52.10 343.10 M61.10 339.80 L61.10 343.10 M70.10 339.80 L70.10 345.30 M79.10 339.80 L79.10 343.10 M88.10 339.80 L88.10 343.10 M97.10 339.80 L97.10 343.10 M106.10 339.80 L106.10 345.30 M115.10 339.80 L115.10 343.10 M124.10 339.80 L124.10 343.10 M133.10 339.80 L133.10 343.10 M142.10 339.80 L142.10 345.30 M151.10 339.80 L151.10 343.10 M160.10 339.80 L160.10 343.10 M169.10 339.80 L169.10 343.10 M178.10 339.80 L178.10 345.30 M187.10 339.80 L187.10 343.10" fill="none" stroke="#1c1c1c" stroke-width="1.35" stroke-linecap="butt"/>
<g fill="none" stroke="#ff3b3b" stroke-width="0.75" stroke-opacity="0.9"><circle cx="207.0" cy="332.4" r="1.30"/><circle cx="208.0" cy="332.9" r="1.30"/><circle cx="209.0" cy="332.6" r="1.30"/><circle cx="210.1" cy="333.1" r="1.30"/><circle cx="211.1" cy="333.0" r="1.30"/><circle cx="212.1" cy="333.0" r="1.30"/><circle cx="213.1" cy="332.8" r="1.30"/><circle cx="214.1" cy="333.2" r="1.30"/><circle cx="215.2" cy="332.9" r="1.30"/><circle cx="216.2" cy="332.8" r="1.30"/><circle cx="217.2" cy="331.7" r="1.30"/><circle cx="218.2" cy="332.9" r="1.30"/><circle cx="219.2" cy="333.1" r="1.30"/><circle cx="220.3" cy="332.3" r="1.30"/><circle cx="221.3" cy="332.2" r="1.30"/><circle cx="222.3" cy="333.1" r="1.30"/><circle cx="223.3" cy="331.5" r="1.30"/><circle cx="224.3" cy="332.3" r="1.30"/><circle cx="225.4" cy="333.0" r="1.30"/><circle cx="226.4" cy="331.4" r="1.30"/><circle cx="227.4" cy="332.0" r="1.30"/><circle cx="228.4" cy="332.3" r="1.30"/><circle cx="229.4" cy="331.2" r="1.30"/><circle cx="230.5" cy="331.2" r="1.30"/><circle cx="231.5" cy="331.1" r="1.30"/><circle cx="232.5" cy="329.9" r="1.30"/><circle cx="233.5" cy="329.9" r="1.30"/><circle cx="234.5" cy="329.6" r="1.30"/><circle cx="235.6" cy="329.3" r="1.30"/><circle cx="236.6" cy="328.3" r="1.30"/><circle cx="237.6" cy="327.5" r="1.30"/><circle cx="238.6" cy="326.4" r="1.30"/><circle cx="239.6" cy="325.8" r="1.30"/><circle cx="240.7" cy="325.5" r="1.30"/><circle cx="241.7" cy="324.1" r="1.30"/><circle cx="242.7" cy="322.4" r="1.30"/><circle cx="243.7" cy="321.1" r="1.30"/><circle cx="244.7" cy="321.6" r="1.30"/><circle cx="245.8" cy="319.2" r="1.30"/><circle cx="246.8" cy="317.2" r="1.30"/><circle cx="247.8" cy="313.4" r="1.30"/><circle cx="248.8" cy="313.3" r="1.30"/><circle cx="249.8" cy="311.1" r="1.30"/><circle cx="250.9" cy="309.5" r="1.30"/><circle cx="251.9" cy="306.2" r="1.30"/><circle cx="252.9" cy="303.2" r="1.30"/><circle cx="253.9" cy="300.7" r="1.30"/><circle cx="254.9" cy="296.0" r="1.30"/><circle cx="256.0" cy="294.9" r="1.30"/><circle cx="257.0" cy="291.0" r="1.30"/><circle cx="258.0" cy="286.7" r="1.30"/><circle cx="259.0" cy="284.6" r="1.30"/><circle cx="260.0" cy="281.1" r="1.30"/><circle cx="261.1" cy="274.7" r="1.30"/><circle cx="262.1" cy="271.2" r="1.30"/><circle cx="263.1" cy="267.8" r="1.30"/><circle cx="264.1" cy="263.4" r="1.30"/><circle cx="265.1" cy="258.5" r="1.30"/><circle cx="266.2" cy="253.6" r="1.30"/><circle cx="267.2" cy="251.8" r="1.30"/><circle cx="268.2" cy="246.4" r="1.30"/><circle cx="269.2" cy="240.0" r="1.30"/><circle cx="270.2" cy="235.3" r="1.30"/><circle cx="271.3" cy="233.7" r="1.30"/><circle cx="272.3" cy="228.7" r="1.30"/><circle cx="273.3" cy="225.2" r="1.30"/><circle cx="274.3" cy="220.1" r="1.30"/><circle cx="275.3" cy="214.5" r="1.30"/><circle cx="276.4" cy="211.7" r="1.30"/><circle cx="277.4" cy="205.8" r="1.30"/><circle cx="278.4" cy="203.7" r="1.30"/><circle cx="279.4" cy="201.1" r="1.30"/><circle cx="280.4" cy="198.8" r="1.30"/><circle cx="281.5" cy="194.8" r="1.30"/><circle cx="282.5" cy="193.1" r="1.30"/><circle cx="283.5" cy="191.6" r="1.30"/><circle cx="284.5" cy="189.7" r="1.30"/><circle cx="285.5" cy="188.6" r="1.30"/><circle cx="286.6" cy="187.1" r="1.30"/><circle cx="287.6" cy="185.9" r="1.30"/><circle cx="288.6" cy="186.7" r="1.30"/><circle cx="289.6" cy="186.1" r="1.30"/><circle cx="290.6" cy="185.6" r="1.30"/><circle cx="291.7" cy="186.7" r="1.30"/><circle cx="292.7" cy="188.5" r="1.30"/><circle cx="293.7" cy="190.0" r="1.30"/><circle cx="294.7" cy="192.3" r="1.30"/><circle cx="295.7" cy="194.4" r="1.30"/><circle cx="296.8" cy="197.3" r="1.30"/><circle cx="297.8" cy="200.0" r="1.30"/><circle cx="298.8" cy="202.3" r="1.30"/><circle cx="299.8" cy="207.6" r="1.30"/><circle cx="300.8" cy="212.1" r="1.30"/><circle cx="301.9" cy="215.6" r="1.30"/><circle cx="302.9" cy="219.4" r="1.30"/><circle cx="303.9" cy="224.6" r="1.30"/><circle cx="304.9" cy="228.0" r="1.30"/><circle cx="305.9" cy="232.0" r="1.30"/><circle cx="307.0" cy="238.7" r="1.30"/><circle cx="308.0" cy="242.8" r="1.30"/><circle cx="309.0" cy="249.3" r="1.30"/><circle cx="310.0" cy="252.7" r="1.30"/><circle cx="311.0" cy="256.4" r="1.30"/><circle cx="312.1" cy="262.7" r="1.30"/><circle cx="313.1" cy="269.6" r="1.30"/><circle cx="314.1" cy="272.8" r="1.30"/><circle cx="315.1" cy="276.6" r="1.30"/><circle cx="316.1" cy="281.5" r="1.30"/><circle cx="317.2" cy="286.8" r="1.30"/><circle cx="318.2" cy="290.8" r="1.30"/><circle cx="319.2" cy="294.5" r="1.30"/><circle cx="320.2" cy="299.1" r="1.30"/><circle cx="321.2" cy="302.1" r="1.30"/><circle cx="322.3" cy="304.9" r="1.30"/><circle cx="323.3" cy="308.3" r="1.30"/><circle cx="324.3" cy="311.9" r="1.30"/><circle cx="325.3" cy="314.1" r="1.30"/><circle cx="326.3" cy="316.5" r="1.30"/><circle cx="327.4" cy="317.5" r="1.30"/><circle cx="328.4" cy="320.1" r="1.30"/><circle cx="329.4" cy="322.5" r="1.30"/><circle cx="330.4" cy="323.5" r="1.30"/><circle cx="331.4" cy="325.8" r="1.30"/><circle cx="332.5" cy="326.8" r="1.30"/><circle cx="333.5" cy="328.2" r="1.30"/><circle cx="334.5" cy="328.6" r="1.30"/><circle cx="335.5" cy="330.9" r="1.30"/><circle cx="336.5" cy="330.9" r="1.30"/><circle cx="337.6" cy="330.8" r="1.30"/><circle cx="338.6" cy="331.5" r="1.30"/><circle cx="339.6" cy="333.2" r="1.30"/><circle cx="340.6" cy="332.2" r="1.30"/><circle cx="341.6" cy="333.1" r="1.30"/><circle cx="342.7" cy="333.5" r="1.30"/><circle cx="343.7" cy="333.4" r="1.30"/><circle cx="344.7" cy="333.2" r="1.30"/><circle cx="345.7" cy="334.1" r="1.30"/><circle cx="346.7" cy="334.5" r="1.30"/><circle cx="347.8" cy="335.1" r="1.30"/><circle cx="348.8" cy="335.3" r="1.30"/><circle cx="349.8" cy="335.2" r="1.30"/><circle cx="350.8" cy="335.8" r="1.30"/><circle cx="351.8" cy="335.8" r="1.30"/><circle cx="352.9" cy="335.8" r="1.30"/><circle cx="353.9" cy="335.9" r="1.30"/><circle cx="354.9" cy="335.9" r="1.30"/><circle cx="355.9" cy="336.4" r="1.30"/><circle cx="356.9" cy="335.7" r="1.30"/><circle cx="358.0" cy="336.0" r="1.30"/><circle cx="359.0" cy="336.3" r="1.30"/></g>
<path d="M207.0 332.8L207.6 332.8L208.2 332.8L208.8 332.8L209.4 332.8L210.0 332.8L210.6 332.7L211.2 332.7L211.8 332.7L212.4 332.7L213.0 332.7L213.6 332.7L214.2 332.7L214.8 332.7L215.4 332.7L216.0 332.6L216.6 332.6L217.2 332.6L217.8 332.6L218.4 332.6L219.0 332.5L219.6 332.5L220.2 332.5L220.8 332.4L221.4 332.4L222.0 332.3L222.6 332.3L223.2 332.2L223.8 332.2L224.4 332.1L225.0 332.0L225.6 332.0L226.2 331.9L226.8 331.8L227.4 331.7L228.0 331.6L228.6 331.4L229.2 331.3L229.8 331.1L230.4 331.0L231.0 330.8L231.6 330.6L232.2 330.4L232.8 330.2L233.4 329.9L234.0 329.7L234.6 329.4L235.2 329.1L235.8 328.8L236.4 328.4L237.0 328.0L237.6 327.6L238.2 327.2L238.8 326.7L239.4 326.2L240.0 325.7L240.6 325.1L241.2 324.5L241.8 323.9L242.4 323.2L243.0 322.5L243.6 321.7L244.2 320.9L244.8 320.0L245.4 319.1L246.0 318.2L246.6 317.1L247.2 316.1L247.8 315.0L248.4 313.8L249.0 312.6L249.6 311.3L250.2 310.0L250.8 308.6L251.4 307.1L252.0 305.6L252.6 304.0L253.2 302.4L253.8 300.7L254.4 299.0L255.0 297.2L255.6 295.3L256.2 293.4L256.8 291.4L257.4 289.3L258.0 287.2L258.6 285.1L259.2 282.9L259.8 280.7L260.4 278.4L261.0 276.0L261.6 273.6L262.2 271.2L262.8 268.8L263.4 266.3L264.0 263.7L264.6 261.2L265.2 258.6L265.8 256.0L266.4 253.4L267.0 250.8L267.6 248.1L268.2 245.5L268.8 242.9L269.4 240.2L270.0 237.6L270.6 235.0L271.2 232.4L271.8 229.8L272.4 227.3L273.0 224.7L273.6 222.3L274.2 219.8L274.8 217.4L275.4 215.1L276.0 212.8L276.6 210.6L277.2 208.5L277.8 206.4L278.4 204.4L279.0 202.5L279.6 200.7L280.2 198.9L280.8 197.3L281.4 195.7L282.0 194.3L282.6 192.9L283.2 191.7L283.8 190.6L284.4 189.6L285.0 188.7L285.6 187.9L286.2 187.2L286.8 186.7L287.4 186.3L288.0 186.1L288.6 185.9L289.2 185.9L289.8 186.1L290.4 186.3L291.0 186.7L291.6 187.2L292.2 187.9L292.8 188.7L293.4 189.6L294.0 190.7L294.6 191.9L295.2 193.2L295.8 194.6L296.4 196.2L297.0 197.8L297.6 199.6L298.2 201.5L298.8 203.5L299.4 205.6L300.0 207.8L300.6 210.1L301.2 212.5L301.8 215.0L302.4 217.5L303.0 220.1L303.6 222.8L304.2 225.5L304.8 228.3L305.4 231.1L306.0 234.0L306.6 236.9L307.2 239.8L307.8 242.7L308.4 245.7L309.0 248.6L309.6 251.6L310.2 254.5L310.8 257.4L311.4 260.3L312.0 263.2L312.6 266.1L313.2 268.9L313.8 271.7L314.4 274.4L315.0 277.1L315.6 279.8L316.2 282.4L316.8 284.9L317.4 287.4L318.0 289.8L318.6 292.1L319.2 294.4L319.8 296.6L320.4 298.7L321.0 300.8L321.6 302.8L322.2 304.7L322.8 306.5L323.4 308.3L324.0 310.0L324.6 311.6L325.2 313.2L325.8 314.7L326.4 316.1L327.0 317.4L327.6 318.7L328.2 319.9L328.8 321.0L329.4 322.1L330.0 323.1L330.6 324.1L331.2 325.0L331.8 325.9L332.4 326.7L333.0 327.4L333.6 328.1L334.2 328.8L334.8 329.4L335.4 329.9L336.0 330.5L336.6 331.0L337.2 331.4L337.8 331.8L338.4 332.2L339.0 332.6L339.6 332.9L340.2 333.2L340.8 333.5L341.4 333.8L342.0 334.0L342.6 334.2L343.2 334.4L343.8 334.6L344.4 334.8L345.0 334.9L345.6 335.1L346.2 335.2L346.8 335.3L347.4 335.4L348.0 335.5L348.6 335.6L349.2 335.7L349.8 335.8L350.4 335.8L351.0 335.9L351.6 335.9L352.2 336.0L352.8 336.0L353.4 336.1L354.0 336.1L354.6 336.1L355.2 336.1L355.8 336.2L356.4 336.2L357.0 336.2L357.6 336.2L358.2 336.3L358.8 336.3L359.4 336.3" fill="none" stroke="#2c2cf5" stroke-width="1.08" stroke-linejoin="round"/>
<g fill="none" stroke="#0c0c0c" stroke-width="1.0" stroke-linejoin="round"><path d="M207.0 333.0L211.0 333.0L215.0 333.0L219.0 333.0L223.0 333.0L227.0 333.0L231.0 333.0L235.0 333.0L239.0 333.0L243.0 333.0L247.0 333.1L251.0 333.1L255.0 333.1L259.0 333.2L263.0 333.3L267.0 333.4L271.0 333.6L275.0 333.8L279.0 334.0L283.0 334.2L287.0 334.5L291.0 334.7L295.0 335.0L299.0 335.3L303.0 335.5L307.0 335.7L311.0 335.9L315.0 336.1L319.0 336.2L323.0 336.3L327.0 336.4L331.0 336.5L335.0 336.5L339.0 336.6L343.0 336.6L347.0 336.6L351.0 336.6L355.0 336.6L359.0 336.6L359.8 336.6"/><path d="M207.0 332.9L207.6 332.9L208.2 332.9L208.8 332.8L209.4 332.8L210.0 332.8L210.6 332.8L211.2 332.8L211.8 332.8L212.4 332.8L213.0 332.8L213.6 332.8L214.2 332.8L214.8 332.8L215.4 332.7L216.0 332.7L216.6 332.7L217.2 332.7L217.8 332.7L218.4 332.7L219.0 332.6L219.6 332.6L220.2 332.6L220.8 332.5L221.4 332.5L222.0 332.4L222.6 332.4L223.2 332.3L223.8 332.3L224.4 332.2L225.0 332.2L225.6 332.1L226.2 332.0L226.8 331.9L227.4 331.8L228.0 331.7L228.6 331.6L229.2 331.4L229.8 331.3L230.4 331.1L231.0 331.0L231.6 330.8L232.2 330.6L232.8 330.4L233.4 330.1L234.0 329.9L234.6 329.6L235.2 329.3L235.8 329.0L236.4 328.7L237.0 328.3L237.6 327.9L238.2 327.5L238.8 327.0L239.4 326.6L240.0 326.1L240.6 325.5L241.2 324.9L241.8 324.3L242.4 323.7L243.0 323.0L243.6 322.3L244.2 321.5L244.8 320.7L245.4 319.9L246.0 319.0L246.6 318.1L247.2 317.1L247.8 316.1L248.4 315.0L249.0 313.9L249.6 312.8L250.2 311.6L250.8 310.3L251.4 309.0L252.0 307.7L252.6 306.3L253.2 304.9L253.8 303.5L254.4 302.0L255.0 300.5L255.6 298.9L256.2 297.3L256.8 295.7L257.4 294.0L258.0 292.4L258.6 290.7L259.2 289.0L259.8 287.2L260.4 285.5L261.0 283.7L261.6 282.0L262.2 280.2L262.8 278.5L263.4 276.8L264.0 275.1L264.6 273.4L265.2 271.7L265.8 270.0L266.4 268.4L267.0 266.9L267.6 265.3L268.2 263.9L268.8 262.4L269.4 261.1L270.0 259.8L270.6 258.5L271.2 257.4L271.8 256.3L272.4 255.3L273.0 254.4L273.6 253.5L274.2 252.8L274.8 252.1L275.4 251.6L276.0 251.1L276.6 250.8L277.2 250.5L277.8 250.3L278.4 250.3L279.0 250.3L279.6 250.5L280.2 250.8L280.8 251.1L281.4 251.6L282.0 252.1L282.6 252.8L283.2 253.5L283.8 254.4L284.4 255.3L285.0 256.3L285.6 257.4L286.2 258.6L286.8 259.8L287.4 261.2L288.0 262.6L288.6 264.0L289.2 265.5L289.8 267.1L290.4 268.7L291.0 270.3L291.6 272.0L292.2 273.7L292.8 275.4L293.4 277.2L294.0 279.0L294.6 280.8L295.2 282.6L295.8 284.4L296.4 286.2L297.0 288.0L297.6 289.8L298.2 291.5L298.8 293.3L299.4 295.0L300.0 296.7L300.6 298.4L301.2 300.1L301.8 301.7L302.4 303.3L303.0 304.9L303.6 306.4L304.2 307.9L304.8 309.3L305.4 310.7L306.0 312.0L306.6 313.4L307.2 314.6L307.8 315.8L308.4 317.0L309.0 318.1L309.6 319.2L310.2 320.3L310.8 321.2L311.4 322.2L312.0 323.1L312.6 323.9L313.2 324.8L313.8 325.5L314.4 326.3L315.0 327.0L315.6 327.6L316.2 328.3L316.8 328.8L317.4 329.4L318.0 329.9L318.6 330.4L319.2 330.9L319.8 331.3L320.4 331.7L321.0 332.1L321.6 332.4L322.2 332.7L322.8 333.0L323.4 333.3L324.0 333.6L324.6 333.8L325.2 334.0L325.8 334.2L326.4 334.4L327.0 334.6L327.6 334.8L328.2 334.9L328.8 335.1L329.4 335.2L330.0 335.3L330.6 335.4L331.2 335.5L331.8 335.6L332.4 335.7L333.0 335.7L333.6 335.8L334.2 335.9L334.8 335.9L335.4 336.0L336.0 336.0L336.6 336.1L337.2 336.1L337.8 336.1L338.4 336.2L339.0 336.2L339.6 336.2L340.2 336.3L340.8 336.3L341.4 336.3L342.0 336.3L342.6 336.3L343.2 336.4L343.8 336.4L344.4 336.4L345.0 336.4L345.6 336.4L346.2 336.4L346.8 336.4L347.4 336.4L348.0 336.4L348.6 336.4L349.2 336.4L349.8 336.4L350.4 336.5L351.0 336.5L351.6 336.5L352.2 336.5L352.8 336.5L353.4 336.5L354.0 336.5L354.6 336.5L355.2 336.5L355.8 336.5L356.4 336.5L357.0 336.5L357.6 336.5L358.2 336.5L358.8 336.5L359.4 336.5"/><path d="M207.0 332.9L207.6 332.9L208.2 332.9L208.8 332.9L209.4 332.9L210.0 332.9L210.6 332.9L211.2 332.9L211.8 332.9L212.4 332.9L213.0 332.9L213.6 332.9L214.2 332.9L214.8 332.9L215.4 332.9L216.0 332.9L216.6 332.9L217.2 332.9L217.8 332.9L218.4 332.9L219.0 332.9L219.6 332.9L220.2 332.9L220.8 332.9L221.4 332.9L222.0 332.9L222.6 332.9L223.2 332.9L223.8 332.9L224.4 332.9L225.0 332.9L225.6 332.9L226.2 332.9L226.8 332.9L227.4 332.9L228.0 332.9L228.6 332.9L229.2 332.9L229.8 332.9L230.4 332.9L231.0 332.8L231.6 332.8L232.2 332.8L232.8 332.8L233.4 332.8L234.0 332.8L234.6 332.8L235.2 332.8L235.8 332.8L236.4 332.8L237.0 332.8L237.6 332.7L238.2 332.7L238.8 332.7L239.4 332.7L240.0 332.7L240.6 332.6L241.2 332.6L241.8 332.6L242.4 332.5L243.0 332.5L243.6 332.5L244.2 332.4L244.8 332.4L245.4 332.3L246.0 332.2L246.6 332.1L247.2 332.1L247.8 332.0L248.4 331.9L249.0 331.8L249.6 331.6L250.2 331.5L250.8 331.3L251.4 331.2L252.0 331.0L252.6 330.8L253.2 330.6L253.8 330.4L254.4 330.1L255.0 329.8L255.6 329.5L256.2 329.2L256.8 328.9L257.4 328.5L258.0 328.1L258.6 327.6L259.2 327.2L259.8 326.7L260.4 326.1L261.0 325.5L261.6 324.9L262.2 324.3L262.8 323.6L263.4 322.8L264.0 322.0L264.6 321.2L265.2 320.3L265.8 319.4L266.4 318.4L267.0 317.3L267.6 316.2L268.2 315.1L268.8 313.9L269.4 312.7L270.0 311.3L270.6 310.0L271.2 308.6L271.8 307.1L272.4 305.6L273.0 304.0L273.6 302.4L274.2 300.8L274.8 299.1L275.4 297.3L276.0 295.5L276.6 293.7L277.2 291.8L277.8 290.0L278.4 288.0L279.0 286.1L279.6 284.2L280.2 282.2L280.8 280.2L281.4 278.3L282.0 276.3L282.6 274.3L283.2 272.4L283.8 270.4L284.4 268.5L285.0 266.7L285.6 264.9L286.2 263.1L286.8 261.3L287.4 259.7L288.0 258.0L288.6 256.5L289.2 255.0L289.8 253.6L290.4 252.3L291.0 251.1L291.6 250.0L292.2 249.0L292.8 248.1L293.4 247.3L294.0 246.6L294.6 246.1L295.2 245.6L295.8 245.3L296.4 245.1L297.0 245.0L297.6 245.0L298.2 245.2L298.8 245.5L299.4 245.9L300.0 246.4L300.6 247.1L301.2 247.8L301.8 248.7L302.4 249.7L303.0 250.8L303.6 252.0L304.2 253.2L304.8 254.6L305.4 256.1L306.0 257.6L306.6 259.2L307.2 260.9L307.8 262.7L308.4 264.5L309.0 266.3L309.6 268.2L310.2 270.1L310.8 272.1L311.4 274.1L312.0 276.1L312.6 278.1L313.2 280.2L313.8 282.2L314.4 284.2L315.0 286.3L315.6 288.3L316.2 290.3L316.8 292.2L317.4 294.2L318.0 296.1L318.6 297.9L319.2 299.8L319.8 301.6L320.4 303.3L321.0 305.0L321.6 306.7L322.2 308.3L322.8 309.8L323.4 311.3L324.0 312.8L324.6 314.2L325.2 315.5L325.8 316.8L326.4 318.0L327.0 319.2L327.6 320.3L328.2 321.4L328.8 322.4L329.4 323.4L330.0 324.3L330.6 325.2L331.2 326.0L331.8 326.8L332.4 327.5L333.0 328.2L333.6 328.8L334.2 329.4L334.8 330.0L335.4 330.5L336.0 331.0L336.6 331.4L337.2 331.8L337.8 332.2L338.4 332.6L339.0 332.9L339.6 333.2L340.2 333.5L340.8 333.8L341.4 334.0L342.0 334.3L342.6 334.5L343.2 334.7L343.8 334.8L344.4 335.0L345.0 335.1L345.6 335.3L346.2 335.4L346.8 335.5L347.4 335.6L348.0 335.7L348.6 335.8L349.2 335.8L349.8 335.9L350.4 336.0L351.0 336.0L351.6 336.1L352.2 336.1L352.8 336.1L353.4 336.2L354.0 336.2L354.6 336.2L355.2 336.3L355.8 336.3L356.4 336.3L357.0 336.3L357.6 336.3L358.2 336.4L358.8 336.4L359.4 336.4"/></g>
<path d="M204.60 184.60 L204.60 339.80 L360.00 339.80 M199.20 191.70 L204.60 191.70 M199.20 231.00 L204.60 231.00 M199.20 270.30 L204.60 270.30 M199.20 309.60 L204.60 309.60 M206.86 339.80 L206.86 343.10 M217.07 339.80 L217.07 343.10 M227.28 339.80 L227.28 345.30 M237.49 339.80 L237.49 343.10 M247.70 339.80 L247.70 343.10 M257.91 339.80 L257.91 343.10 M268.12 339.80 L268.12 345.30 M278.33 339.80 L278.33 343.10 M288.54 339.80 L288.54 343.10 M298.75 339.80 L298.75 343.10 M308.96 339.80 L308.96 345.30 M319.17 339.80 L319.17 343.10 M329.38 339.80 L329.38 343.10 M339.59 339.80 L339.59 343.10 M349.80 339.80 L349.80 345.30 M360.01 339.80 L360.01 343.10" fill="none" stroke="#1c1c1c" stroke-width="1.35" stroke-linecap="butt"/>
<g fill="none" stroke="#ff3b3b" stroke-width="0.75" stroke-opacity="0.9"><circle cx="380.0" cy="327.4" r="1.42"/><circle cx="381.2" cy="328.6" r="1.42"/><circle cx="382.5" cy="326.5" r="1.42"/><circle cx="383.8" cy="328.2" r="1.42"/><circle cx="385.0" cy="329.7" r="1.42"/><circle cx="386.2" cy="329.6" r="1.42"/><circle cx="387.5" cy="328.7" r="1.42"/><circle cx="388.8" cy="328.3" r="1.42"/><circle cx="390.0" cy="326.6" r="1.42"/><circle cx="391.2" cy="330.9" r="1.42"/><circle cx="392.5" cy="328.9" r="1.42"/><circle cx="393.8" cy="329.5" r="1.42"/><circle cx="395.0" cy="326.5" r="1.42"/><circle cx="396.2" cy="327.3" r="1.42"/><circle cx="397.5" cy="324.7" r="1.42"/><circle cx="398.8" cy="328.2" r="1.42"/><circle cx="400.0" cy="328.1" r="1.42"/><circle cx="401.2" cy="323.6" r="1.42"/><circle cx="402.5" cy="326.0" r="1.42"/><circle cx="403.8" cy="326.7" r="1.42"/><circle cx="405.0" cy="322.6" r="1.42"/><circle cx="406.2" cy="322.1" r="1.42"/><circle cx="407.5" cy="322.8" r="1.42"/><circle cx="408.8" cy="323.1" r="1.42"/><circle cx="410.0" cy="321.4" r="1.42"/><circle cx="411.2" cy="323.2" r="1.42"/><circle cx="412.5" cy="323.1" r="1.42"/><circle cx="413.8" cy="323.2" r="1.42"/><circle cx="415.0" cy="322.9" r="1.42"/><circle cx="416.2" cy="323.7" r="1.42"/><circle cx="417.5" cy="322.7" r="1.42"/><circle cx="418.8" cy="317.9" r="1.42"/><circle cx="420.0" cy="318.7" r="1.42"/><circle cx="421.2" cy="317.2" r="1.42"/><circle cx="422.5" cy="316.6" r="1.42"/><circle cx="423.8" cy="317.8" r="1.42"/><circle cx="425.0" cy="317.4" r="1.42"/><circle cx="426.2" cy="317.6" r="1.42"/><circle cx="427.5" cy="313.2" r="1.42"/><circle cx="428.8" cy="313.1" r="1.42"/><circle cx="430.0" cy="314.6" r="1.42"/><circle cx="431.2" cy="313.4" r="1.42"/><circle cx="432.5" cy="312.3" r="1.42"/><circle cx="433.8" cy="311.8" r="1.42"/><circle cx="435.0" cy="309.3" r="1.42"/><circle cx="436.2" cy="310.9" r="1.42"/><circle cx="437.5" cy="308.8" r="1.42"/><circle cx="438.8" cy="306.3" r="1.42"/><circle cx="440.0" cy="303.3" r="1.42"/><circle cx="441.2" cy="302.2" r="1.42"/><circle cx="442.5" cy="294.5" r="1.42"/><circle cx="443.8" cy="295.6" r="1.42"/><circle cx="445.0" cy="295.1" r="1.42"/><circle cx="446.2" cy="288.5" r="1.42"/><circle cx="447.5" cy="289.0" r="1.42"/><circle cx="448.8" cy="285.3" r="1.42"/><circle cx="450.0" cy="277.8" r="1.42"/><circle cx="451.2" cy="276.4" r="1.42"/><circle cx="452.5" cy="272.0" r="1.42"/><circle cx="453.8" cy="269.5" r="1.42"/><circle cx="455.0" cy="265.3" r="1.42"/><circle cx="456.2" cy="259.0" r="1.42"/><circle cx="457.5" cy="252.1" r="1.42"/><circle cx="458.8" cy="249.3" r="1.42"/><circle cx="460.0" cy="245.0" r="1.42"/><circle cx="461.2" cy="242.9" r="1.42"/><circle cx="462.5" cy="237.4" r="1.42"/><circle cx="463.8" cy="230.5" r="1.42"/><circle cx="465.0" cy="225.0" r="1.42"/><circle cx="466.2" cy="224.7" r="1.42"/><circle cx="467.5" cy="220.7" r="1.42"/><circle cx="468.8" cy="217.2" r="1.42"/><circle cx="470.0" cy="218.3" r="1.42"/><circle cx="471.2" cy="215.8" r="1.42"/><circle cx="472.5" cy="216.7" r="1.42"/><circle cx="473.8" cy="217.6" r="1.42"/><circle cx="475.0" cy="214.9" r="1.42"/><circle cx="476.2" cy="223.9" r="1.42"/><circle cx="477.5" cy="216.9" r="1.42"/><circle cx="478.8" cy="222.8" r="1.42"/><circle cx="480.0" cy="221.8" r="1.42"/><circle cx="481.2" cy="227.2" r="1.42"/><circle cx="482.5" cy="219.4" r="1.42"/><circle cx="483.8" cy="227.4" r="1.42"/><circle cx="485.0" cy="233.8" r="1.42"/><circle cx="486.2" cy="238.5" r="1.42"/><circle cx="487.5" cy="247.4" r="1.42"/><circle cx="488.8" cy="245.7" r="1.42"/><circle cx="490.0" cy="252.6" r="1.42"/><circle cx="491.2" cy="255.5" r="1.42"/><circle cx="492.5" cy="260.4" r="1.42"/><circle cx="493.8" cy="263.7" r="1.42"/><circle cx="495.0" cy="266.4" r="1.42"/><circle cx="496.2" cy="272.6" r="1.42"/><circle cx="497.5" cy="273.0" r="1.42"/><circle cx="498.8" cy="282.8" r="1.42"/><circle cx="500.0" cy="281.7" r="1.42"/><circle cx="501.2" cy="288.8" r="1.42"/><circle cx="502.5" cy="296.9" r="1.42"/><circle cx="503.8" cy="295.3" r="1.42"/><circle cx="505.0" cy="299.4" r="1.42"/><circle cx="506.2" cy="305.1" r="1.42"/><circle cx="507.5" cy="305.9" r="1.42"/><circle cx="508.8" cy="307.1" r="1.42"/><circle cx="510.0" cy="311.9" r="1.42"/><circle cx="511.2" cy="315.0" r="1.42"/><circle cx="512.5" cy="317.5" r="1.42"/><circle cx="513.8" cy="316.9" r="1.42"/><circle cx="515.0" cy="323.3" r="1.42"/><circle cx="516.2" cy="324.7" r="1.42"/><circle cx="517.5" cy="323.4" r="1.42"/><circle cx="518.8" cy="325.1" r="1.42"/><circle cx="520.0" cy="325.2" r="1.42"/><circle cx="521.2" cy="329.1" r="1.42"/><circle cx="522.5" cy="326.7" r="1.42"/><circle cx="523.8" cy="329.6" r="1.42"/><circle cx="525.0" cy="328.6" r="1.42"/><circle cx="526.2" cy="328.9" r="1.42"/><circle cx="527.5" cy="331.4" r="1.42"/><circle cx="528.8" cy="332.7" r="1.42"/><circle cx="530.0" cy="331.2" r="1.42"/><circle cx="531.2" cy="330.6" r="1.42"/><circle cx="532.5" cy="332.9" r="1.42"/></g>
<path d="M380.0 329.3L380.6 329.2L381.2 329.2L381.8 329.2L382.4 329.1L383.0 329.1L383.6 329.1L384.2 329.0L384.8 329.0L385.4 329.0L386.0 328.9L386.6 328.9L387.2 328.8L387.8 328.8L388.4 328.7L389.0 328.6L389.6 328.6L390.2 328.5L390.8 328.4L391.4 328.3L392.0 328.3L392.6 328.2L393.2 328.1L393.8 328.0L394.4 327.9L395.0 327.8L395.6 327.7L396.2 327.6L396.8 327.4L397.4 327.3L398.0 327.2L398.6 327.1L399.2 326.9L399.8 326.8L400.4 326.6L401.0 326.5L401.6 326.3L402.2 326.2L402.8 326.0L403.4 325.8L404.0 325.6L404.6 325.5L405.2 325.3L405.8 325.1L406.4 324.9L407.0 324.7L407.6 324.5L408.2 324.3L408.8 324.1L409.4 323.8L410.0 323.6L410.6 323.4L411.2 323.2L411.8 323.0L412.4 322.7L413.0 322.5L413.6 322.3L414.2 322.0L414.8 321.8L415.4 321.5L416.0 321.3L416.6 321.0L417.2 320.8L417.8 320.5L418.4 320.3L419.0 320.0L419.6 319.8L420.2 319.5L420.8 319.3L421.4 319.0L422.0 318.7L422.6 318.5L423.2 318.2L423.8 317.9L424.4 317.6L425.0 317.3L425.6 317.0L426.2 316.8L426.8 316.4L427.4 316.1L428.0 315.8L428.6 315.5L429.2 315.1L429.8 314.8L430.4 314.4L431.0 314.0L431.6 313.6L432.2 313.1L432.8 312.7L433.4 312.2L434.0 311.7L434.6 311.1L435.2 310.6L435.8 310.0L436.4 309.3L437.0 308.7L437.6 307.9L438.2 307.2L438.8 306.4L439.4 305.5L440.0 304.6L440.6 303.7L441.2 302.7L441.8 301.6L442.4 300.5L443.0 299.3L443.6 298.1L444.2 296.8L444.8 295.4L445.4 294.0L446.0 292.5L446.6 291.0L447.2 289.4L447.8 287.7L448.4 286.0L449.0 284.2L449.6 282.4L450.2 280.5L450.8 278.5L451.4 276.5L452.0 274.5L452.6 272.4L453.2 270.3L453.8 268.1L454.4 265.9L455.0 263.7L455.6 261.5L456.2 259.3L456.8 257.0L457.4 254.8L458.0 252.5L458.6 250.3L459.2 248.1L459.8 245.9L460.4 243.7L461.0 241.6L461.6 239.6L462.2 237.5L462.8 235.6L463.4 233.7L464.0 231.9L464.6 230.1L465.2 228.5L465.8 226.9L466.4 225.4L467.0 224.0L467.6 222.7L468.2 221.6L468.8 220.5L469.4 219.5L470.0 218.7L470.6 217.9L471.2 217.3L471.8 216.8L472.4 216.4L473.0 216.2L473.6 216.0L474.2 216.0L474.8 216.1L475.4 216.3L476.0 216.6L476.6 217.0L477.2 217.5L477.8 218.2L478.4 218.9L479.0 219.8L479.6 220.7L480.2 221.8L480.8 222.9L481.4 224.1L482.0 225.4L482.6 226.8L483.2 228.3L483.8 229.8L484.4 231.4L485.0 233.1L485.6 234.8L486.2 236.6L486.8 238.5L487.4 240.4L488.0 242.3L488.6 244.3L489.2 246.3L489.8 248.4L490.4 250.4L491.0 252.5L491.6 254.7L492.2 256.8L492.8 258.9L493.4 261.1L494.0 263.2L494.6 265.4L495.2 267.5L495.8 269.7L496.4 271.8L497.0 273.9L497.6 276.0L498.2 278.1L498.8 280.1L499.4 282.2L500.0 284.1L500.6 286.1L501.2 288.0L501.8 289.9L502.4 291.8L503.0 293.6L503.6 295.4L504.2 297.1L504.8 298.8L505.4 300.4L506.0 302.0L506.6 303.6L507.2 305.1L507.8 306.5L508.4 307.9L509.0 309.3L509.6 310.6L510.2 311.8L510.8 313.0L511.4 314.2L512.0 315.3L512.6 316.4L513.2 317.4L513.8 318.3L514.4 319.3L515.0 320.1L515.6 321.0L516.2 321.8L516.8 322.5L517.4 323.2L518.0 323.9L518.6 324.5L519.2 325.1L519.8 325.7L520.4 326.2L521.0 326.7L521.6 327.2L522.2 327.6L522.8 328.0L523.4 328.4L524.0 328.8L524.6 329.1L525.2 329.4L525.8 329.7L526.4 330.0L527.0 330.2L527.6 330.5L528.2 330.7L528.8 330.9L529.4 331.1L530.0 331.2L530.6 331.4L531.2 331.5L531.8 331.7L532.4 331.8" fill="none" stroke="#2c2cf5" stroke-width="1.08" stroke-linejoin="round"/>
<g fill="none" stroke="#0c0c0c" stroke-width="1.0" stroke-linejoin="round"><path d="M380.0 330.0L384.0 330.1L388.0 330.2L392.0 330.3L396.0 330.3L400.0 330.4L404.0 330.5L408.0 330.6L412.0 330.7L416.0 330.8L420.0 330.8L424.0 330.9L428.0 331.0L432.0 331.1L436.0 331.2L440.0 331.3L444.0 331.3L448.0 331.4L452.0 331.5L456.0 331.6L460.0 331.7L464.0 331.8L468.0 331.8L472.0 331.9L476.0 332.0L480.0 332.1L484.0 332.2L488.0 332.3L492.0 332.3L496.0 332.4L500.0 332.5L504.0 332.6L508.0 332.7L512.0 332.8L516.0 332.8L520.0 332.9L524.0 333.0L528.0 333.1L532.0 333.2L532.6 333.2"/><path d="M380.0 329.9L380.6 329.9L381.2 329.9L381.8 330.0L382.4 330.0L383.0 330.0L383.6 330.0L384.2 330.0L384.8 330.0L385.4 330.0L386.0 330.0L386.6 330.1L387.2 330.1L387.8 330.1L388.4 330.1L389.0 330.1L389.6 330.1L390.2 330.1L390.8 330.1L391.4 330.1L392.0 330.2L392.6 330.2L393.2 330.2L393.8 330.2L394.4 330.2L395.0 330.2L395.6 330.2L396.2 330.2L396.8 330.2L397.4 330.2L398.0 330.3L398.6 330.3L399.2 330.3L399.8 330.3L400.4 330.3L401.0 330.3L401.6 330.3L402.2 330.3L402.8 330.3L403.4 330.3L404.0 330.4L404.6 330.4L405.2 330.4L405.8 330.4L406.4 330.4L407.0 330.4L407.6 330.4L408.2 330.4L408.8 330.4L409.4 330.4L410.0 330.4L410.6 330.4L411.2 330.4L411.8 330.4L412.4 330.4L413.0 330.4L413.6 330.4L414.2 330.4L414.8 330.4L415.4 330.4L416.0 330.4L416.6 330.4L417.2 330.4L417.8 330.3L418.4 330.3L419.0 330.3L419.6 330.2L420.2 330.2L420.8 330.1L421.4 330.1L422.0 330.0L422.6 330.0L423.2 329.9L423.8 329.8L424.4 329.7L425.0 329.6L425.6 329.4L426.2 329.3L426.8 329.1L427.4 328.9L428.0 328.7L428.6 328.5L429.2 328.3L429.8 328.0L430.4 327.7L431.0 327.4L431.6 327.1L432.2 326.7L432.8 326.3L433.4 325.9L434.0 325.4L434.6 324.9L435.2 324.3L435.8 323.8L436.4 323.1L437.0 322.5L437.6 321.7L438.2 321.0L438.8 320.2L439.4 319.3L440.0 318.4L440.6 317.5L441.2 316.5L441.8 315.4L442.4 314.3L443.0 313.2L443.6 312.0L444.2 310.7L444.8 309.4L445.4 308.1L446.0 306.7L446.6 305.3L447.2 303.9L447.8 302.4L448.4 300.8L449.0 299.3L449.6 297.7L450.2 296.1L450.8 294.5L451.4 292.9L452.0 291.2L452.6 289.6L453.2 288.0L453.8 286.4L454.4 284.8L455.0 283.2L455.6 281.7L456.2 280.2L456.8 278.7L457.4 277.3L458.0 276.0L458.6 274.7L459.2 273.4L459.8 272.3L460.4 271.2L461.0 270.2L461.6 269.3L462.2 268.5L462.8 267.8L463.4 267.2L464.0 266.8L464.6 266.4L465.2 266.1L465.8 265.9L466.4 265.9L467.0 266.0L467.6 266.2L468.2 266.4L468.8 266.9L469.4 267.4L470.0 268.0L470.6 268.7L471.2 269.5L471.8 270.5L472.4 271.5L473.0 272.6L473.6 273.7L474.2 275.0L474.8 276.3L475.4 277.7L476.0 279.1L476.6 280.6L477.2 282.1L477.8 283.7L478.4 285.3L479.0 286.9L479.6 288.5L480.2 290.2L480.8 291.8L481.4 293.5L482.0 295.1L482.6 296.8L483.2 298.4L483.8 300.0L484.4 301.6L485.0 303.1L485.6 304.7L486.2 306.1L486.8 307.6L487.4 309.0L488.0 310.3L488.6 311.7L489.2 312.9L489.8 314.1L490.4 315.3L491.0 316.4L491.6 317.5L492.2 318.5L492.8 319.5L493.4 320.5L494.0 321.3L494.6 322.2L495.2 322.9L495.8 323.7L496.4 324.4L497.0 325.0L497.6 325.6L498.2 326.2L498.8 326.7L499.4 327.2L500.0 327.7L500.6 328.1L501.2 328.5L501.8 328.9L502.4 329.2L503.0 329.5L503.6 329.8L504.2 330.1L504.8 330.3L505.4 330.6L506.0 330.8L506.6 331.0L507.2 331.1L507.8 331.3L508.4 331.4L509.0 331.6L509.6 331.7L510.2 331.8L510.8 331.9L511.4 332.0L512.0 332.1L512.6 332.1L513.2 332.2L513.8 332.3L514.4 332.3L515.0 332.4L515.6 332.4L516.2 332.5L516.8 332.5L517.4 332.5L518.0 332.6L518.6 332.6L519.2 332.6L519.8 332.7L520.4 332.7L521.0 332.7L521.6 332.7L522.2 332.8L522.8 332.8L523.4 332.8L524.0 332.8L524.6 332.8L525.2 332.9L525.8 332.9L526.4 332.9L527.0 332.9L527.6 332.9L528.2 333.0L528.8 333.0L529.4 333.0L530.0 333.0L530.6 333.0L531.2 333.0L531.8 333.0L532.4 333.1"/><path d="M380.0 329.9L380.6 329.9L381.2 330.0L381.8 330.0L382.4 330.0L383.0 330.0L383.6 330.0L384.2 330.0L384.8 330.0L385.4 330.0L386.0 330.0L386.6 330.1L387.2 330.1L387.8 330.1L388.4 330.1L389.0 330.1L389.6 330.1L390.2 330.1L390.8 330.1L391.4 330.1L392.0 330.2L392.6 330.2L393.2 330.2L393.8 330.2L394.4 330.2L395.0 330.2L395.6 330.2L396.2 330.2L396.8 330.3L397.4 330.3L398.0 330.3L398.6 330.3L399.2 330.3L399.8 330.3L400.4 330.3L401.0 330.3L401.6 330.3L402.2 330.4L402.8 330.4L403.4 330.4L404.0 330.4L404.6 330.4L405.2 330.4L405.8 330.4L406.4 330.4L407.0 330.4L407.6 330.4L408.2 330.5L408.8 330.5L409.4 330.5L410.0 330.5L410.6 330.5L411.2 330.5L411.8 330.5L412.4 330.5L413.0 330.5L413.6 330.5L414.2 330.6L414.8 330.6L415.4 330.6L416.0 330.6L416.6 330.6L417.2 330.6L417.8 330.6L418.4 330.6L419.0 330.6L419.6 330.6L420.2 330.6L420.8 330.6L421.4 330.6L422.0 330.6L422.6 330.6L423.2 330.6L423.8 330.6L424.4 330.6L425.0 330.6L425.6 330.6L426.2 330.6L426.8 330.6L427.4 330.6L428.0 330.5L428.6 330.5L429.2 330.5L429.8 330.5L430.4 330.4L431.0 330.4L431.6 330.3L432.2 330.3L432.8 330.2L433.4 330.2L434.0 330.1L434.6 330.0L435.2 329.9L435.8 329.8L436.4 329.7L437.0 329.6L437.6 329.5L438.2 329.3L438.8 329.2L439.4 329.0L440.0 328.8L440.6 328.6L441.2 328.4L441.8 328.1L442.4 327.9L443.0 327.6L443.6 327.3L444.2 326.9L444.8 326.6L445.4 326.2L446.0 325.8L446.6 325.4L447.2 324.9L447.8 324.4L448.4 323.9L449.0 323.3L449.6 322.7L450.2 322.1L450.8 321.4L451.4 320.7L452.0 319.9L452.6 319.1L453.2 318.3L453.8 317.5L454.4 316.6L455.0 315.6L455.6 314.6L456.2 313.6L456.8 312.5L457.4 311.4L458.0 310.3L458.6 309.1L459.2 307.9L459.8 306.6L460.4 305.3L461.0 304.0L461.6 302.6L462.2 301.2L462.8 299.8L463.4 298.4L464.0 296.9L464.6 295.4L465.2 294.0L465.8 292.5L466.4 290.9L467.0 289.4L467.6 287.9L468.2 286.4L468.8 284.9L469.4 283.4L470.0 281.9L470.6 280.5L471.2 279.0L471.8 277.6L472.4 276.3L473.0 275.0L473.6 273.7L474.2 272.4L474.8 271.3L475.4 270.1L476.0 269.1L476.6 268.1L477.2 267.2L477.8 266.3L478.4 265.6L479.0 264.9L479.6 264.3L480.2 263.8L480.8 263.3L481.4 263.0L482.0 262.7L482.6 262.6L483.2 262.5L483.8 262.5L484.4 262.7L485.0 262.9L485.6 263.2L486.2 263.6L486.8 264.1L487.4 264.6L488.0 265.3L488.6 266.0L489.2 266.9L489.8 267.7L490.4 268.7L491.0 269.8L491.6 270.9L492.2 272.0L492.8 273.2L493.4 274.5L494.0 275.8L494.6 277.2L495.2 278.6L495.8 280.0L496.4 281.5L497.0 283.0L497.6 284.5L498.2 286.0L498.8 287.5L499.4 289.1L500.0 290.6L500.6 292.2L501.2 293.7L501.8 295.2L502.4 296.7L503.0 298.2L503.6 299.7L504.2 301.2L504.8 302.6L505.4 304.0L506.0 305.4L506.6 306.7L507.2 308.0L507.8 309.3L508.4 310.5L509.0 311.7L509.6 312.9L510.2 314.0L510.8 315.1L511.4 316.1L512.0 317.1L512.6 318.1L513.2 319.0L513.8 319.9L514.4 320.7L515.0 321.5L515.6 322.3L516.2 323.0L516.8 323.7L517.4 324.3L518.0 324.9L518.6 325.5L519.2 326.1L519.8 326.6L520.4 327.1L521.0 327.5L521.6 327.9L522.2 328.3L522.8 328.7L523.4 329.1L524.0 329.4L524.6 329.7L525.2 330.0L525.8 330.2L526.4 330.5L527.0 330.7L527.6 330.9L528.2 331.1L528.8 331.3L529.4 331.4L530.0 331.6L530.6 331.7L531.2 331.9L531.8 332.0L532.4 332.1"/><path d="M380.0 329.3L380.6 329.3L381.2 329.3L381.8 329.2L382.4 329.2L383.0 329.2L383.6 329.1L384.2 329.1L384.8 329.1L385.4 329.0L386.0 329.0L386.6 328.9L387.2 328.9L387.8 328.8L388.4 328.7L389.0 328.7L389.6 328.6L390.2 328.5L390.8 328.4L391.4 328.4L392.0 328.3L392.6 328.2L393.2 328.1L393.8 328.0L394.4 327.9L395.0 327.8L395.6 327.6L396.2 327.5L396.8 327.4L397.4 327.3L398.0 327.1L398.6 327.0L399.2 326.8L399.8 326.7L400.4 326.5L401.0 326.4L401.6 326.2L402.2 326.0L402.8 325.9L403.4 325.7L404.0 325.5L404.6 325.3L405.2 325.1L405.8 324.9L406.4 324.7L407.0 324.5L407.6 324.3L408.2 324.1L408.8 323.9L409.4 323.7L410.0 323.5L410.6 323.3L411.2 323.0L411.8 322.8L412.4 322.6L413.0 322.4L413.6 322.1L414.2 321.9L414.8 321.7L415.4 321.4L416.0 321.2L416.6 321.0L417.2 320.8L417.8 320.6L418.4 320.3L419.0 320.1L419.6 319.9L420.2 319.7L420.8 319.5L421.4 319.3L422.0 319.1L422.6 319.0L423.2 318.8L423.8 318.6L424.4 318.5L425.0 318.3L425.6 318.2L426.2 318.0L426.8 317.9L427.4 317.8L428.0 317.7L428.6 317.6L429.2 317.5L429.8 317.4L430.4 317.3L431.0 317.3L431.6 317.2L432.2 317.2L432.8 317.2L433.4 317.2L434.0 317.2L434.6 317.2L435.2 317.2L435.8 317.3L436.4 317.3L437.0 317.4L437.6 317.5L438.2 317.6L438.8 317.7L439.4 317.8L440.0 317.9L440.6 318.0L441.2 318.2L441.8 318.3L442.4 318.5L443.0 318.7L443.6 318.9L444.2 319.0L444.8 319.2L445.4 319.4L446.0 319.6L446.6 319.9L447.2 320.1L447.8 320.3L448.4 320.5L449.0 320.8L449.6 321.0L450.2 321.2L450.8 321.5L451.4 321.7L452.0 322.0L452.6 322.2L453.2 322.5L453.8 322.7L454.4 323.0L455.0 323.2L455.6 323.5L456.2 323.7L456.8 324.0L457.4 324.2L458.0 324.5L458.6 324.7L459.2 325.0L459.8 325.2L460.4 325.4L461.0 325.7L461.6 325.9L462.2 326.1L462.8 326.3L463.4 326.6L464.0 326.8L464.6 327.0L465.2 327.2L465.8 327.4L466.4 327.6L467.0 327.8L467.6 327.9L468.2 328.1L468.8 328.3L469.4 328.5L470.0 328.6L470.6 328.8L471.2 328.9L471.8 329.1L472.4 329.2L473.0 329.4L473.6 329.5L474.2 329.7L474.8 329.8L475.4 329.9L476.0 330.0L476.6 330.1L477.2 330.2L477.8 330.3L478.4 330.4L479.0 330.5L479.6 330.6L480.2 330.7L480.8 330.8L481.4 330.9L482.0 331.0L482.6 331.0L483.2 331.1L483.8 331.2L484.4 331.3L485.0 331.3L485.6 331.4L486.2 331.4L486.8 331.5L487.4 331.5L488.0 331.6L488.6 331.6L489.2 331.7L489.8 331.7L490.4 331.8L491.0 331.8L491.6 331.8L492.2 331.9L492.8 331.9L493.4 332.0L494.0 332.0L494.6 332.0L495.2 332.1L495.8 332.1L496.4 332.1L497.0 332.1L497.6 332.2L498.2 332.2L498.8 332.2L499.4 332.2L500.0 332.3L500.6 332.3L501.2 332.3L501.8 332.3L502.4 332.3L503.0 332.4L503.6 332.4L504.2 332.4L504.8 332.4L505.4 332.4L506.0 332.5L506.6 332.5L507.2 332.5L507.8 332.5L508.4 332.5L509.0 332.5L509.6 332.6L510.2 332.6L510.8 332.6L511.4 332.6L512.0 332.6L512.6 332.6L513.2 332.7L513.8 332.7L514.4 332.7L515.0 332.7L515.6 332.7L516.2 332.7L516.8 332.7L517.4 332.8L518.0 332.8L518.6 332.8L519.2 332.8L519.8 332.8L520.4 332.8L521.0 332.8L521.6 332.9L522.2 332.9L522.8 332.9L523.4 332.9L524.0 332.9L524.6 332.9L525.2 332.9L525.8 333.0L526.4 333.0L527.0 333.0L527.6 333.0L528.2 333.0L528.8 333.0L529.4 333.0L530.0 333.1L530.6 333.1L531.2 333.1L531.8 333.1L532.4 333.1"/></g>
<path d="M377.50 184.60 L377.50 339.80 L535.70 339.80 L535.70 184.60 M372.10 184.60 L377.50 184.60 M372.10 209.60 L377.50 209.60 M372.10 234.70 L377.50 234.70 M372.10 259.90 L377.50 259.90 M372.10 285.10 L377.50 285.10 M372.10 310.30 L377.50 310.30 M372.10 335.50 L377.50 335.50 M380.05 339.80 L380.05 343.10 M389.60 339.80 L389.60 345.30 M399.15 339.80 L399.15 343.10 M408.70 339.80 L408.70 343.10 M418.25 339.80 L418.25 343.10 M427.80 339.80 L427.80 345.30 M437.35 339.80 L437.35 343.10 M446.90 339.80 L446.90 343.10 M456.45 339.80 L456.45 343.10 M466.00 339.80 L466.00 345.30 M475.55 339.80 L475.55 343.10 M485.10 339.80 L485.10 343.10 M494.65 339.80 L494.65 343.10 M504.20 339.80 L504.20 345.30 M513.75 339.80 L513.75 343.10 M523.30 339.80 L523.30 343.10 M532.85 339.80 L532.85 343.10" fill="none" stroke="#1c1c1c" stroke-width="1.35" stroke-linecap="butt"/>
<g fill="none" stroke="#0c0c0c" stroke-width="1.0" stroke-linejoin="round"><path d="M34.1 509.7L38.1 509.7L42.1 509.7L46.1 509.7L50.1 509.7L54.1 509.7L58.1 509.7L62.1 509.7L66.1 509.7L70.1 509.7L74.1 509.7L78.1 509.7L82.1 509.7L86.1 509.7L90.1 509.7L94.1 509.7L98.1 509.7L102.1 509.7L106.1 509.7L110.1 509.7L114.1 509.7L118.1 509.7L122.1 509.7L126.1 509.7L130.1 509.7L134.1 509.7L138.1 509.7L142.1 509.7L146.1 509.7L150.1 509.7L154.1 509.7L158.1 509.7L162.1 509.7L166.1 509.7L170.1 509.7L174.1 509.7L178.1 509.7L182.1 509.7L186.1 509.7L187.0 509.7"/><path d="M34.1 509.6L34.7 509.6L35.3 509.6L35.9 509.6L36.5 509.6L37.1 509.6L37.7 509.6L38.3 509.6L38.9 509.6L39.5 509.6L40.1 509.6L40.7 509.6L41.3 509.6L41.9 509.6L42.5 509.6L43.1 509.6L43.7 509.6L44.3 509.6L44.9 509.6L45.5 509.6L46.1 509.6L46.7 509.6L47.3 509.6L47.9 509.6L48.5 509.6L49.1 509.6L49.7 509.6L50.3 509.6L50.9 509.6L51.5 509.6L52.1 509.6L52.7 509.6L53.3 509.6L53.9 509.6L54.5 509.6L55.1 509.6L55.7 509.6L56.3 509.6L56.9 509.6L57.5 509.6L58.1 509.6L58.7 509.6L59.3 509.6L59.9 509.6L60.5 509.6L61.1 509.6L61.7 509.6L62.3 509.6L62.9 509.6L63.5 509.6L64.1 509.6L64.7 509.5L65.3 509.5L65.9 509.5L66.5 509.5L67.1 509.5L67.7 509.5L68.3 509.5L68.9 509.5L69.5 509.5L70.1 509.5L70.7 509.5L71.3 509.5L71.9 509.5L72.5 509.5L73.1 509.5L73.7 509.5L74.3 509.5L74.9 509.5L75.5 509.5L76.1 509.5L76.7 509.5L77.3 509.5L77.9 509.5L78.5 509.5L79.1 509.5L79.7 509.4L80.3 509.4L80.9 509.4L81.5 509.4L82.1 509.4L82.7 509.4L83.3 509.4L83.9 509.4L84.5 509.4L85.1 509.4L85.7 509.3L86.3 509.3L86.9 509.3L87.5 509.3L88.1 509.2L88.7 509.2L89.3 509.2L89.9 509.1L90.5 509.1L91.1 509.0L91.7 508.9L92.3 508.8L92.9 508.7L93.5 508.6L94.1 508.5L94.7 508.3L95.3 508.2L95.9 508.0L96.5 507.7L97.1 507.5L97.7 507.2L98.3 506.9L98.9 506.5L99.5 506.0L100.1 505.6L100.7 505.0L101.3 504.4L101.9 503.7L102.5 502.9L103.1 502.1L103.7 501.1L104.3 500.1L104.9 499.0L105.5 497.7L106.1 496.3L106.7 494.8L107.3 493.2L107.9 491.4L108.5 489.5L109.1 487.4L109.7 485.2L110.3 482.9L110.9 480.3L111.5 477.7L112.1 474.9L112.7 471.9L113.3 468.8L113.9 465.5L114.5 462.1L115.1 458.6L115.7 455.0L116.3 451.2L116.9 447.4L117.5 443.5L118.1 439.5L118.7 435.6L119.3 431.6L119.9 427.6L120.5 423.6L121.1 419.7L121.7 415.9L122.3 412.1L122.9 408.5L123.5 405.1L124.1 401.8L124.7 398.8L125.3 395.9L125.9 393.4L126.5 391.1L127.1 389.0L127.7 387.3L128.3 386.0L128.9 384.9L129.5 384.2L130.1 383.8L130.7 383.8L131.3 384.2L131.9 384.9L132.5 386.0L133.1 387.3L133.7 389.0L134.3 391.1L134.9 393.4L135.5 395.9L136.1 398.8L136.7 401.8L137.3 405.1L137.9 408.5L138.5 412.1L139.1 415.9L139.7 419.7L140.3 423.6L140.9 427.6L141.5 431.6L142.1 435.6L142.7 439.5L143.3 443.5L143.9 447.4L144.5 451.2L145.1 455.0L145.7 458.6L146.3 462.1L146.9 465.5L147.5 468.8L148.1 471.9L148.7 474.9L149.3 477.7L149.9 480.3L150.5 482.9L151.1 485.2L151.7 487.4L152.3 489.5L152.9 491.4L153.5 493.2L154.1 494.8L154.7 496.3L155.3 497.7L155.9 499.0L156.5 500.1L157.1 501.1L157.7 502.1L158.3 502.9L158.9 503.7L159.5 504.4L160.1 505.0L160.7 505.6L161.3 506.0L161.9 506.5L162.5 506.9L163.1 507.2L163.7 507.5L164.3 507.7L164.9 508.0L165.5 508.2L166.1 508.3L166.7 508.5L167.3 508.6L167.9 508.7L168.5 508.8L169.1 508.9L169.7 509.0L170.3 509.1L170.9 509.1L171.5 509.2L172.1 509.2L172.7 509.2L173.3 509.3L173.9 509.3L174.5 509.3L175.1 509.3L175.7 509.4L176.3 509.4L176.9 509.4L177.5 509.4L178.1 509.4L178.7 509.4L179.3 509.4L179.9 509.4L180.5 509.4L181.1 509.4L181.7 509.5L182.3 509.5L182.9 509.5L183.5 509.5L184.1 509.5L184.7 509.5L185.3 509.5L185.9 509.5L186.5 509.5"/><path d="M34.1 509.6L34.7 509.6L35.3 509.6L35.9 509.6L36.5 509.6L37.1 509.6L37.7 509.6L38.3 509.6L38.9 509.6L39.5 509.6L40.1 509.6L40.7 509.6L41.3 509.6L41.9 509.6L42.5 509.6L43.1 509.5L43.7 509.5L44.3 509.5L44.9 509.5L45.5 509.5L46.1 509.5L46.7 509.5L47.3 509.5L47.9 509.5L48.5 509.4L49.1 509.4L49.7 509.4L50.3 509.4L50.9 509.4L51.5 509.3L52.1 509.3L52.7 509.3L53.3 509.2L53.9 509.2L54.5 509.1L55.1 509.1L55.7 509.0L56.3 508.9L56.9 508.8L57.5 508.7L58.1 508.6L58.7 508.5L59.3 508.4L59.9 508.3L60.5 508.1L61.1 507.9L61.7 507.7L62.3 507.5L62.9 507.3L63.5 507.1L64.1 506.8L64.7 506.5L65.3 506.2L65.9 505.8L66.5 505.5L67.1 505.1L67.7 504.6L68.3 504.1L68.9 503.6L69.5 503.1L70.1 502.5L70.7 501.9L71.3 501.2L71.9 500.5L72.5 499.8L73.1 499.0L73.7 498.1L74.3 497.2L74.9 496.3L75.5 495.4L76.1 494.3L76.7 493.3L77.3 492.2L77.9 491.0L78.5 489.9L79.1 488.6L79.7 487.4L80.3 486.1L80.9 484.8L81.5 483.4L82.1 482.1L82.7 480.7L83.3 479.3L83.9 477.8L84.5 476.4L85.1 475.0L85.7 473.6L86.3 472.1L86.9 470.7L87.5 469.4L88.1 468.0L88.7 466.7L89.3 465.4L89.9 464.2L90.5 463.0L91.1 461.8L91.7 460.8L92.3 459.8L92.9 458.8L93.5 458.0L94.1 457.2L94.7 456.5L95.3 455.9L95.9 455.4L96.5 455.0L97.1 454.7L97.7 454.5L98.3 454.4L98.9 454.4L99.5 454.5L100.1 454.7L100.7 455.0L101.3 455.4L101.9 455.9L102.5 456.5L103.1 457.2L103.7 458.0L104.3 458.8L104.9 459.8L105.5 460.8L106.1 461.8L106.7 463.0L107.3 464.2L107.9 465.4L108.5 466.7L109.1 468.0L109.7 469.4L110.3 470.7L110.9 472.1L111.5 473.6L112.1 475.0L112.7 476.4L113.3 477.8L113.9 479.3L114.5 480.7L115.1 482.0L115.7 483.4L116.3 484.8L116.9 486.1L117.5 487.4L118.1 488.6L118.7 489.9L119.3 491.0L119.9 492.2L120.5 493.3L121.1 494.3L121.7 495.4L122.3 496.3L122.9 497.2L123.5 498.1L124.1 499.0L124.7 499.8L125.3 500.5L125.9 501.2L126.5 501.9L127.1 502.5L127.7 503.1L128.3 503.6L128.9 504.1L129.5 504.6L130.1 505.1L130.7 505.5L131.3 505.8L131.9 506.2L132.5 506.5L133.1 506.8L133.7 507.1L134.3 507.3L134.9 507.5L135.5 507.7L136.1 507.9L136.7 508.1L137.3 508.3L137.9 508.4L138.5 508.5L139.1 508.6L139.7 508.7L140.3 508.8L140.9 508.9L141.5 509.0L142.1 509.1L142.7 509.1L143.3 509.2L143.9 509.2L144.5 509.3L145.1 509.3L145.7 509.3L146.3 509.4L146.9 509.4L147.5 509.4L148.1 509.4L148.7 509.4L149.3 509.5L149.9 509.5L150.5 509.5L151.1 509.5L151.7 509.5L152.3 509.5L152.9 509.5L153.5 509.5L154.1 509.5L154.7 509.6L155.3 509.6L155.9 509.6L156.5 509.6L157.1 509.6L157.7 509.6L158.3 509.6L158.9 509.6L159.5 509.6L160.1 509.6L160.7 509.6L161.3 509.6L161.9 509.6L162.5 509.6L163.1 509.6L163.7 509.6L164.3 509.6L164.9 509.6L165.5 509.6L166.1 509.6L166.7 509.6L167.3 509.6L167.9 509.6L168.5 509.6L169.1 509.6L169.7 509.6L170.3 509.6L170.9 509.6L171.5 509.6L172.1 509.6L172.7 509.6L173.3 509.6L173.9 509.6L174.5 509.6L175.1 509.6L175.7 509.6L176.3 509.6L176.9 509.6L177.5 509.6L178.1 509.6L178.7 509.6L179.3 509.6L179.9 509.6L180.5 509.6L181.1 509.6L181.7 509.6L182.3 509.6L182.9 509.6L183.5 509.6L184.1 509.6L184.7 509.6L185.3 509.6L185.9 509.6L186.5 509.6"/><path d="M34.1 509.7L34.7 509.7L35.3 509.7L35.9 509.7L36.5 509.7L37.1 509.7L37.7 509.7L38.3 509.7L38.9 509.7L39.5 509.7L40.1 509.7L40.7 509.7L41.3 509.7L41.9 509.7L42.5 509.7L43.1 509.6L43.7 509.6L44.3 509.6L44.9 509.6L45.5 509.6L46.1 509.6L46.7 509.6L47.3 509.6L47.9 509.6L48.5 509.6L49.1 509.6L49.7 509.6L50.3 509.6L50.9 509.6L51.5 509.6L52.1 509.6L52.7 509.6L53.3 509.6L53.9 509.6L54.5 509.6L55.1 509.6L55.7 509.6L56.3 509.6L56.9 509.6L57.5 509.6L58.1 509.6L58.7 509.6L59.3 509.6L59.9 509.6L60.5 509.6L61.1 509.6L61.7 509.6L62.3 509.6L62.9 509.6L63.5 509.6L64.1 509.6L64.7 509.6L65.3 509.6L65.9 509.6L66.5 509.6L67.1 509.6L67.7 509.6L68.3 509.6L68.9 509.5L69.5 509.5L70.1 509.5L70.7 509.5L71.3 509.5L71.9 509.5L72.5 509.4L73.1 509.4L73.7 509.4L74.3 509.4L74.9 509.3L75.5 509.3L76.1 509.2L76.7 509.2L77.3 509.1L77.9 509.0L78.5 509.0L79.1 508.9L79.7 508.7L80.3 508.6L80.9 508.5L81.5 508.3L82.1 508.2L82.7 508.0L83.3 507.8L83.9 507.5L84.5 507.3L85.1 507.0L85.7 506.6L86.3 506.3L86.9 505.9L87.5 505.5L88.1 505.0L88.7 504.5L89.3 504.0L89.9 503.4L90.5 502.7L91.1 502.0L91.7 501.3L92.3 500.5L92.9 499.7L93.5 498.8L94.1 497.9L94.7 496.9L95.3 495.9L95.9 494.8L96.5 493.7L97.1 492.5L97.7 491.3L98.3 490.1L98.9 488.8L99.5 487.6L100.1 486.2L100.7 484.9L101.3 483.6L101.9 482.2L102.5 480.9L103.1 479.5L103.7 478.2L104.3 476.9L104.9 475.7L105.5 474.4L106.1 473.3L106.7 472.1L107.3 471.1L107.9 470.1L108.5 469.2L109.1 468.4L109.7 467.6L110.3 467.0L110.9 466.5L111.5 466.0L112.1 465.7L112.7 465.5L113.3 465.4L113.9 465.4L114.5 465.6L115.1 465.8L115.7 466.2L116.3 466.6L116.9 467.2L117.5 467.9L118.1 468.6L118.7 469.5L119.3 470.4L119.9 471.4L120.5 472.5L121.1 473.6L121.7 474.8L122.3 476.1L122.9 477.3L123.5 478.6L124.1 480.0L124.7 481.3L125.3 482.7L125.9 484.0L126.5 485.3L127.1 486.7L127.7 488.0L128.3 489.3L128.9 490.5L129.5 491.7L130.1 492.9L130.7 494.1L131.3 495.2L131.9 496.2L132.5 497.2L133.1 498.2L133.7 499.1L134.3 500.0L134.9 500.8L135.5 501.6L136.1 502.3L136.7 502.9L137.3 503.6L137.9 504.1L138.5 504.7L139.1 505.2L139.7 505.6L140.3 506.0L140.9 506.4L141.5 506.7L142.1 507.1L142.7 507.3L143.3 507.6L143.9 507.8L144.5 508.0L145.1 508.2L145.7 508.4L146.3 508.5L146.9 508.7L147.5 508.8L148.1 508.9L148.7 509.0L149.3 509.1L149.9 509.1L150.5 509.2L151.1 509.2L151.7 509.3L152.3 509.3L152.9 509.4L153.5 509.4L154.1 509.4L154.7 509.5L155.3 509.5L155.9 509.5L156.5 509.5L157.1 509.5L157.7 509.5L158.3 509.5L158.9 509.6L159.5 509.6L160.1 509.6L160.7 509.6L161.3 509.6L161.9 509.6L162.5 509.6L163.1 509.6L163.7 509.6L164.3 509.6L164.9 509.6L165.5 509.6L166.1 509.6L166.7 509.6L167.3 509.6L167.9 509.6L168.5 509.6L169.1 509.6L169.7 509.6L170.3 509.6L170.9 509.6L171.5 509.6L172.1 509.6L172.7 509.6L173.3 509.6L173.9 509.6L174.5 509.6L175.1 509.6L175.7 509.6L176.3 509.6L176.9 509.6L177.5 509.6L178.1 509.6L178.7 509.6L179.3 509.6L179.9 509.6L180.5 509.6L181.1 509.6L181.7 509.6L182.3 509.6L182.9 509.6L183.5 509.6L184.1 509.6L184.7 509.7L185.3 509.7L185.9 509.7L186.5 509.7"/><path d="M34.1 509.2L34.7 509.2L35.3 509.1L35.9 509.1L36.5 509.0L37.1 508.9L37.7 508.9L38.3 508.8L38.9 508.7L39.5 508.6L40.1 508.5L40.7 508.4L41.3 508.3L41.9 508.2L42.5 508.1L43.1 507.9L43.7 507.8L44.3 507.7L44.9 507.5L45.5 507.4L46.1 507.2L46.7 507.1L47.3 506.9L47.9 506.7L48.5 506.5L49.1 506.4L49.7 506.2L50.3 506.0L50.9 505.8L51.5 505.6L52.1 505.4L52.7 505.3L53.3 505.1L53.9 504.9L54.5 504.7L55.1 504.6L55.7 504.4L56.3 504.2L56.9 504.1L57.5 504.0L58.1 503.8L58.7 503.7L59.3 503.6L59.9 503.5L60.5 503.4L61.1 503.3L61.7 503.3L62.3 503.2L62.9 503.2L63.5 503.2L64.1 503.2L64.7 503.2L65.3 503.2L65.9 503.3L66.5 503.3L67.1 503.4L67.7 503.5L68.3 503.6L68.9 503.7L69.5 503.8L70.1 504.0L70.7 504.1L71.3 504.2L71.9 504.4L72.5 504.6L73.1 504.7L73.7 504.9L74.3 505.1L74.9 505.3L75.5 505.4L76.1 505.6L76.7 505.8L77.3 506.0L77.9 506.2L78.5 506.4L79.1 506.5L79.7 506.7L80.3 506.9L80.9 507.1L81.5 507.2L82.1 507.4L82.7 507.5L83.3 507.7L83.9 507.8L84.5 507.9L85.1 508.1L85.7 508.2L86.3 508.3L86.9 508.4L87.5 508.5L88.1 508.6L88.7 508.7L89.3 508.8L89.9 508.9L90.5 508.9L91.1 509.0L91.7 509.1L92.3 509.1L92.9 509.2L93.5 509.2L94.1 509.3L94.7 509.3L95.3 509.3L95.9 509.4L96.5 509.4L97.1 509.4L97.7 509.5L98.3 509.5L98.9 509.5L99.5 509.5L100.1 509.5L100.7 509.6L101.3 509.6L101.9 509.6L102.5 509.6L103.1 509.6L103.7 509.6L104.3 509.6L104.9 509.6L105.5 509.6L106.1 509.6L106.7 509.6L107.3 509.6L107.9 509.7L108.5 509.7L109.1 509.7L109.7 509.7L110.3 509.7L110.9 509.7L111.5 509.7L112.1 509.7L112.7 509.7L113.3 509.7L113.9 509.7L114.5 509.7L115.1 509.7L115.7 509.7L116.3 509.7L116.9 509.7L117.5 509.7L118.1 509.7L118.7 509.7L119.3 509.7L119.9 509.7L120.5 509.7L121.1 509.7L121.7 509.7L122.3 509.7L122.9 509.7L123.5 509.7L124.1 509.7L124.7 509.7L125.3 509.7L125.9 509.7L126.5 509.7L127.1 509.7L127.7 509.7L128.3 509.7L128.9 509.7L129.5 509.7L130.1 509.7L130.7 509.7L131.3 509.7L131.9 509.7L132.5 509.7L133.1 509.7L133.7 509.7L134.3 509.7L134.9 509.7L135.5 509.7L136.1 509.7L136.7 509.7L137.3 509.7L137.9 509.7L138.5 509.7L139.1 509.7L139.7 509.7L140.3 509.7L140.9 509.7L141.5 509.7L142.1 509.7L142.7 509.7L143.3 509.7L143.9 509.7L144.5 509.7L145.1 509.7L145.7 509.7L146.3 509.7L146.9 509.7L147.5 509.7L148.1 509.7L148.7 509.7L149.3 509.7L149.9 509.7L150.5 509.7L151.1 509.7L151.7 509.7L152.3 509.7L152.9 509.7L153.5 509.7L154.1 509.7L154.7 509.7L155.3 509.7L155.9 509.7L156.5 509.7L157.1 509.7L157.7 509.7L158.3 509.7L158.9 509.7L159.5 509.7L160.1 509.7L160.7 509.7L161.3 509.7L161.9 509.7L162.5 509.7L163.1 509.7L163.7 509.7L164.3 509.7L164.9 509.7L165.5 509.7L166.1 509.7L166.7 509.7L167.3 509.7L167.9 509.7L168.5 509.7L169.1 509.7L169.7 509.7L170.3 509.7L170.9 509.7L171.5 509.7L172.1 509.7L172.7 509.7L173.3 509.7L173.9 509.7L174.5 509.7L175.1 509.7L175.7 509.7L176.3 509.7L176.9 509.7L177.5 509.7L178.1 509.7L178.7 509.7L179.3 509.7L179.9 509.7L180.5 509.7L181.1 509.7L181.7 509.7L182.3 509.7L182.9 509.7L183.5 509.7L184.1 509.7L184.7 509.7L185.3 509.7L185.9 509.7L186.5 509.7"/></g>
<g fill="none" stroke="#ff3b3b" stroke-width="0.75" stroke-opacity="0.85"><circle cx="34.1" cy="509.0" r="1.15"/><circle cx="35.0" cy="508.9" r="1.15"/><circle cx="35.9" cy="508.8" r="1.15"/><circle cx="36.8" cy="508.7" r="1.15"/><circle cx="37.7" cy="508.6" r="1.15"/><circle cx="38.6" cy="508.5" r="1.15"/><circle cx="39.5" cy="508.4" r="1.15"/><circle cx="40.4" cy="508.2" r="1.15"/><circle cx="41.3" cy="508.0" r="1.15"/><circle cx="42.2" cy="507.9" r="1.15"/><circle cx="43.1" cy="507.7" r="1.15"/><circle cx="44.0" cy="507.4" r="1.15"/><circle cx="44.9" cy="507.2" r="1.15"/><circle cx="45.8" cy="507.0" r="1.15"/><circle cx="46.7" cy="506.7" r="1.15"/><circle cx="47.6" cy="506.4" r="1.15"/><circle cx="48.5" cy="506.2" r="1.15"/><circle cx="49.4" cy="505.9" r="1.15"/><circle cx="50.3" cy="505.5" r="1.15"/><circle cx="51.2" cy="505.2" r="1.15"/><circle cx="52.1" cy="504.9" r="1.15"/><circle cx="53.0" cy="504.6" r="1.15"/><circle cx="53.9" cy="504.2" r="1.15"/><circle cx="54.8" cy="503.9" r="1.15"/><circle cx="55.7" cy="503.5" r="1.15"/><circle cx="56.6" cy="503.2" r="1.15"/><circle cx="57.5" cy="502.8" r="1.15"/><circle cx="58.4" cy="502.5" r="1.15"/><circle cx="59.3" cy="502.1" r="1.15"/><circle cx="60.2" cy="501.8" r="1.15"/><circle cx="61.1" cy="501.4" r="1.15"/><circle cx="62.0" cy="501.0" r="1.15"/><circle cx="62.9" cy="500.6" r="1.15"/><circle cx="63.8" cy="500.2" r="1.15"/><circle cx="64.7" cy="499.8" r="1.15"/><circle cx="65.6" cy="499.4" r="1.15"/><circle cx="66.5" cy="498.9" r="1.15"/><circle cx="67.4" cy="498.4" r="1.15"/><circle cx="68.3" cy="497.8" r="1.15"/><circle cx="69.2" cy="497.2" r="1.15"/><circle cx="70.1" cy="496.5" r="1.15"/><circle cx="71.0" cy="495.7" r="1.15"/><circle cx="71.9" cy="494.9" r="1.15"/><circle cx="72.8" cy="494.0" r="1.15"/><circle cx="73.7" cy="492.9" r="1.15"/><circle cx="74.6" cy="491.8" r="1.15"/><circle cx="75.5" cy="490.6" r="1.15"/><circle cx="76.4" cy="489.2" r="1.15"/><circle cx="77.3" cy="487.8" r="1.15"/><circle cx="78.2" cy="486.2" r="1.15"/><circle cx="79.1" cy="484.5" r="1.15"/><circle cx="80.0" cy="482.7" r="1.15"/><circle cx="80.9" cy="480.8" r="1.15"/><circle cx="81.8" cy="478.7" r="1.15"/><circle cx="82.7" cy="476.6" r="1.15"/><circle cx="83.6" cy="474.4" r="1.15"/><circle cx="84.5" cy="472.0" r="1.15"/><circle cx="85.4" cy="469.6" r="1.15"/><circle cx="86.3" cy="467.1" r="1.15"/><circle cx="87.2" cy="464.5" r="1.15"/><circle cx="88.1" cy="461.8" r="1.15"/><circle cx="89.0" cy="459.1" r="1.15"/><circle cx="89.9" cy="456.4" r="1.15"/><circle cx="90.8" cy="453.7" r="1.15"/><circle cx="91.7" cy="450.9" r="1.15"/><circle cx="92.6" cy="448.1" r="1.15"/><circle cx="93.5" cy="445.3" r="1.15"/><circle cx="94.4" cy="442.6" r="1.15"/><circle cx="95.3" cy="439.8" r="1.15"/><circle cx="96.2" cy="437.1" r="1.15"/><circle cx="97.1" cy="434.5" r="1.15"/><circle cx="98.0" cy="431.8" r="1.15"/><circle cx="98.9" cy="429.2" r="1.15"/><circle cx="99.8" cy="426.7" r="1.15"/><circle cx="100.7" cy="424.2" r="1.15"/><circle cx="101.6" cy="421.7" r="1.15"/><circle cx="102.5" cy="419.3" r="1.15"/><circle cx="103.4" cy="416.8" r="1.15"/><circle cx="104.3" cy="414.4" r="1.15"/><circle cx="105.2" cy="412.0" r="1.15"/><circle cx="106.1" cy="409.7" r="1.15"/><circle cx="107.0" cy="407.2" r="1.15"/><circle cx="107.9" cy="404.8" r="1.15"/><circle cx="108.8" cy="402.4" r="1.15"/><circle cx="109.7" cy="399.9" r="1.15"/><circle cx="110.6" cy="397.3" r="1.15"/><circle cx="111.5" cy="394.7" r="1.15"/><circle cx="112.4" cy="392.0" r="1.15"/><circle cx="113.3" cy="389.3" r="1.15"/><circle cx="114.2" cy="386.6" r="1.15"/><circle cx="115.1" cy="383.8" r="1.15"/><circle cx="116.0" cy="380.9" r="1.15"/><circle cx="116.9" cy="378.1" r="1.15"/><circle cx="117.8" cy="375.3" r="1.15"/><circle cx="118.7" cy="372.5" r="1.15"/><circle cx="119.6" cy="369.8" r="1.15"/><circle cx="120.5" cy="367.3" r="1.15"/><circle cx="121.4" cy="364.9" r="1.15"/><circle cx="122.3" cy="362.8" r="1.15"/><circle cx="123.2" cy="360.9" r="1.15"/><circle cx="124.1" cy="359.4" r="1.15"/><circle cx="125.0" cy="358.3" r="1.15"/><circle cx="125.9" cy="357.6" r="1.15"/><circle cx="126.8" cy="357.4" r="1.15"/><circle cx="127.7" cy="357.8" r="1.15"/><circle cx="128.6" cy="358.8" r="1.15"/><circle cx="129.5" cy="360.3" r="1.15"/><circle cx="130.4" cy="362.5" r="1.15"/><circle cx="131.3" cy="365.3" r="1.15"/><circle cx="132.2" cy="368.7" r="1.15"/><circle cx="133.1" cy="372.7" r="1.15"/><circle cx="134.0" cy="377.2" r="1.15"/><circle cx="134.9" cy="382.3" r="1.15"/><circle cx="135.8" cy="387.7" r="1.15"/><circle cx="136.7" cy="393.6" r="1.15"/><circle cx="137.6" cy="399.7" r="1.15"/><circle cx="138.5" cy="406.1" r="1.15"/><circle cx="139.4" cy="412.7" r="1.15"/><circle cx="140.3" cy="419.3" r="1.15"/><circle cx="141.2" cy="425.9" r="1.15"/><circle cx="142.1" cy="432.5" r="1.15"/><circle cx="143.0" cy="439.0" r="1.15"/><circle cx="143.9" cy="445.3" r="1.15"/><circle cx="144.8" cy="451.3" r="1.15"/><circle cx="145.7" cy="457.1" r="1.15"/><circle cx="146.6" cy="462.6" r="1.15"/><circle cx="147.5" cy="467.8" r="1.15"/><circle cx="148.4" cy="472.5" r="1.15"/><circle cx="149.3" cy="477.0" r="1.15"/><circle cx="150.2" cy="481.0" r="1.15"/><circle cx="151.1" cy="484.7" r="1.15"/><circle cx="152.0" cy="488.0" r="1.15"/><circle cx="152.9" cy="491.0" r="1.15"/><circle cx="153.8" cy="493.7" r="1.15"/><circle cx="154.7" cy="496.0" r="1.15"/><circle cx="155.6" cy="498.0" r="1.15"/><circle cx="156.5" cy="499.8" r="1.15"/><circle cx="157.4" cy="501.4" r="1.15"/><circle cx="158.3" cy="502.7" r="1.15"/><circle cx="159.2" cy="503.8" r="1.15"/><circle cx="160.1" cy="504.8" r="1.15"/><circle cx="161.0" cy="505.6" r="1.15"/><circle cx="161.9" cy="506.3" r="1.15"/><circle cx="162.8" cy="506.8" r="1.15"/><circle cx="163.7" cy="507.3" r="1.15"/><circle cx="164.6" cy="507.7" r="1.15"/><circle cx="165.5" cy="508.0" r="1.15"/><circle cx="166.4" cy="508.2" r="1.15"/><circle cx="167.3" cy="508.4" r="1.15"/><circle cx="168.2" cy="508.6" r="1.15"/><circle cx="169.1" cy="508.8" r="1.15"/><circle cx="170.0" cy="508.9" r="1.15"/><circle cx="170.9" cy="509.0" r="1.15"/><circle cx="171.8" cy="509.0" r="1.15"/><circle cx="172.7" cy="509.1" r="1.15"/><circle cx="173.6" cy="509.1" r="1.15"/><circle cx="174.5" cy="509.2" r="1.15"/><circle cx="175.4" cy="509.2" r="1.15"/><circle cx="176.3" cy="509.2" r="1.15"/><circle cx="177.2" cy="509.3" r="1.15"/><circle cx="178.1" cy="509.3" r="1.15"/><circle cx="179.0" cy="509.3" r="1.15"/><circle cx="179.9" cy="509.3" r="1.15"/><circle cx="180.8" cy="509.3" r="1.15"/><circle cx="181.7" cy="509.3" r="1.15"/><circle cx="182.6" cy="509.3" r="1.15"/><circle cx="183.5" cy="509.4" r="1.15"/><circle cx="184.4" cy="509.4" r="1.15"/><circle cx="185.3" cy="509.4" r="1.15"/><circle cx="186.2" cy="509.4" r="1.15"/></g>
<path d="M34.1 509.0L34.7 509.0L35.3 508.9L35.9 508.8L36.5 508.8L37.1 508.7L37.7 508.6L38.3 508.5L38.9 508.5L39.5 508.4L40.1 508.3L40.7 508.2L41.3 508.0L41.9 507.9L42.5 507.8L43.1 507.7L43.7 507.5L44.3 507.4L44.9 507.2L45.5 507.1L46.1 506.9L46.7 506.7L47.3 506.5L47.9 506.3L48.5 506.2L49.1 506.0L49.7 505.8L50.3 505.5L50.9 505.3L51.5 505.1L52.1 504.9L52.7 504.7L53.3 504.5L53.9 504.2L54.5 504.0L55.1 503.8L55.7 503.5L56.3 503.3L56.9 503.1L57.5 502.8L58.1 502.6L58.7 502.4L59.3 502.1L59.9 501.9L60.5 501.7L61.1 501.4L61.7 501.2L62.3 500.9L62.9 500.6L63.5 500.4L64.1 500.1L64.7 499.8L65.3 499.5L65.9 499.2L66.5 498.9L67.1 498.5L67.7 498.2L68.3 497.8L68.9 497.4L69.5 496.9L70.1 496.5L70.7 496.0L71.3 495.4L71.9 494.9L72.5 494.3L73.1 493.6L73.7 492.9L74.3 492.2L74.9 491.4L75.5 490.6L76.1 489.7L76.7 488.8L77.3 487.8L77.9 486.7L78.5 485.7L79.1 484.5L79.7 483.3L80.3 482.1L80.9 480.8L81.5 479.4L82.1 478.0L82.7 476.6L83.3 475.1L83.9 473.6L84.5 472.0L85.1 470.4L85.7 468.7L86.3 467.1L86.9 465.3L87.5 463.6L88.1 461.8L88.7 460.0L89.3 458.2L89.9 456.4L90.5 454.6L91.1 452.7L91.7 450.9L92.3 449.0L92.9 447.2L93.5 445.3L94.1 443.5L94.7 441.7L95.3 439.8L95.9 438.0L96.5 436.2L97.1 434.5L97.7 432.7L98.3 431.0L98.9 429.2L99.5 427.5L100.1 425.8L100.7 424.2L101.3 422.5L101.9 420.9L102.5 419.3L103.1 417.6L103.7 416.0L104.3 414.4L104.9 412.8L105.5 411.2L106.1 409.7L106.7 408.1L107.3 406.4L107.9 404.8L108.5 403.2L109.1 401.5L109.7 399.9L110.3 398.2L110.9 396.4L111.5 394.7L112.1 392.9L112.7 391.1L113.3 389.3L113.9 387.5L114.5 385.6L115.1 383.8L115.7 381.9L116.3 380.0L116.9 378.1L117.5 376.2L118.1 374.3L118.7 372.5L119.3 370.7L119.9 369.0L120.5 367.3L121.1 365.7L121.7 364.2L122.3 362.8L122.9 361.5L123.5 360.4L124.1 359.4L124.7 358.6L125.3 358.0L125.9 357.6L126.5 357.4L127.1 357.5L127.7 357.8L128.3 358.4L128.9 359.2L129.5 360.3L130.1 361.7L130.7 363.4L131.3 365.3L131.9 367.5L132.5 370.0L133.1 372.7L133.7 375.7L134.3 378.9L134.9 382.3L135.5 385.9L136.1 389.6L136.7 393.6L137.3 397.7L137.9 401.8L138.5 406.1L139.1 410.5L139.7 414.9L140.3 419.3L140.9 423.7L141.5 428.2L142.1 432.5L142.7 436.9L143.3 441.1L143.9 445.3L144.5 449.4L145.1 453.3L145.7 457.1L146.3 460.8L146.9 464.4L147.5 467.8L148.1 471.0L148.7 474.1L149.3 477.0L149.9 479.7L150.5 482.3L151.1 484.7L151.7 487.0L152.3 489.1L152.9 491.0L153.5 492.8L154.1 494.5L154.7 496.0L155.3 497.4L155.9 498.7L156.5 499.8L157.1 500.9L157.7 501.8L158.3 502.7L158.9 503.5L159.5 504.2L160.1 504.8L160.7 505.3L161.3 505.8L161.9 506.3L162.5 506.6L163.1 507.0L163.7 507.3L164.3 507.6L164.9 507.8L165.5 508.0L166.1 508.2L166.7 508.3L167.3 508.4L167.9 508.6L168.5 508.7L169.1 508.8L169.7 508.8L170.3 508.9L170.9 509.0L171.5 509.0L172.1 509.0L172.7 509.1L173.3 509.1L173.9 509.1L174.5 509.2L175.1 509.2L175.7 509.2L176.3 509.2L176.9 509.2L177.5 509.3L178.1 509.3L178.7 509.3L179.3 509.3L179.9 509.3L180.5 509.3L181.1 509.3L181.7 509.3L182.3 509.3L182.9 509.3L183.5 509.4L184.1 509.4L184.7 509.4L185.3 509.4L185.9 509.4L186.5 509.4" fill="none" stroke="#2c2cf5" stroke-width="1.08" stroke-linejoin="round"/>
<path d="M31.70 357.60 L31.70 511.80 L187.00 511.80 M26.30 374.70 L31.70 374.70 M26.30 397.20 L31.70 397.20 M26.30 419.70 L31.70 419.70 M26.30 442.20 L31.70 442.20 M26.30 464.70 L31.70 464.70 M26.30 487.20 L31.70 487.20 M26.30 509.70 L31.70 509.70 M34.10 511.80 L34.10 517.30 M43.10 511.80 L43.10 515.10 M52.10 511.80 L52.10 515.10 M61.10 511.80 L61.10 515.10 M70.10 511.80 L70.10 517.30 M79.10 511.80 L79.10 515.10 M88.10 511.80 L88.10 515.10 M97.10 511.80 L97.10 515.10 M106.10 511.80 L106.10 517.30 M115.10 511.80 L115.10 515.10 M124.10 511.80 L124.10 515.10 M133.10 511.80 L133.10 515.10 M142.10 511.80 L142.10 517.30 M151.10 511.80 L151.10 515.10 M160.10 511.80 L160.10 515.10 M169.10 511.80 L169.10 515.10 M178.10 511.80 L178.10 517.30 M187.10 511.80 L187.10 515.10" fill="none" stroke="#1c1c1c" stroke-width="1.35" stroke-linecap="butt"/>
<g fill="none" stroke="#ff3b3b" stroke-width="0.75" stroke-opacity="0.9"><circle cx="217.6" cy="508.0" r="1.40"/><circle cx="219.6" cy="508.1" r="1.40"/><circle cx="221.7" cy="508.7" r="1.40"/><circle cx="223.7" cy="508.2" r="1.40"/><circle cx="225.8" cy="506.7" r="1.40"/><circle cx="227.8" cy="508.2" r="1.40"/><circle cx="229.8" cy="506.0" r="1.40"/><circle cx="231.9" cy="505.7" r="1.40"/><circle cx="233.9" cy="503.6" r="1.40"/><circle cx="236.0" cy="502.7" r="1.40"/><circle cx="238.0" cy="499.6" r="1.40"/><circle cx="240.0" cy="500.6" r="1.40"/><circle cx="242.1" cy="497.7" r="1.40"/><circle cx="244.1" cy="492.3" r="1.40"/><circle cx="246.2" cy="488.5" r="1.40"/><circle cx="248.2" cy="484.3" r="1.40"/><circle cx="250.2" cy="482.5" r="1.40"/><circle cx="252.3" cy="475.6" r="1.40"/><circle cx="254.3" cy="470.3" r="1.40"/><circle cx="256.4" cy="463.8" r="1.40"/><circle cx="258.4" cy="457.4" r="1.40"/><circle cx="260.4" cy="449.2" r="1.40"/><circle cx="262.5" cy="443.4" r="1.40"/><circle cx="264.5" cy="433.9" r="1.40"/><circle cx="266.6" cy="428.2" r="1.40"/><circle cx="268.6" cy="421.2" r="1.40"/><circle cx="270.6" cy="414.0" r="1.40"/><circle cx="272.7" cy="405.8" r="1.40"/><circle cx="274.7" cy="397.9" r="1.40"/><circle cx="276.8" cy="393.1" r="1.40"/><circle cx="278.8" cy="386.3" r="1.40"/><circle cx="280.8" cy="384.6" r="1.40"/><circle cx="282.9" cy="379.4" r="1.40"/><circle cx="284.9" cy="375.1" r="1.40"/><circle cx="287.0" cy="373.0" r="1.40"/><circle cx="289.0" cy="372.6" r="1.40"/><circle cx="291.0" cy="373.8" r="1.40"/><circle cx="293.1" cy="378.0" r="1.40"/><circle cx="295.1" cy="384.0" r="1.40"/><circle cx="297.2" cy="390.9" r="1.40"/><circle cx="299.2" cy="398.9" r="1.40"/><circle cx="301.2" cy="410.2" r="1.40"/><circle cx="303.3" cy="415.9" r="1.40"/><circle cx="305.3" cy="427.2" r="1.40"/><circle cx="307.4" cy="441.4" r="1.40"/><circle cx="309.4" cy="445.4" r="1.40"/><circle cx="311.4" cy="456.8" r="1.40"/><circle cx="313.5" cy="466.5" r="1.40"/><circle cx="315.5" cy="474.5" r="1.40"/><circle cx="317.6" cy="481.7" r="1.40"/><circle cx="319.6" cy="487.0" r="1.40"/><circle cx="321.6" cy="492.5" r="1.40"/><circle cx="323.7" cy="496.2" r="1.40"/><circle cx="325.7" cy="500.0" r="1.40"/><circle cx="327.8" cy="500.3" r="1.40"/><circle cx="329.8" cy="503.0" r="1.40"/><circle cx="331.8" cy="505.1" r="1.40"/><circle cx="333.9" cy="505.3" r="1.40"/><circle cx="335.9" cy="506.0" r="1.40"/><circle cx="338.0" cy="507.7" r="1.40"/><circle cx="340.0" cy="507.2" r="1.40"/><circle cx="342.0" cy="508.3" r="1.40"/><circle cx="344.1" cy="508.5" r="1.40"/><circle cx="346.1" cy="508.3" r="1.40"/><circle cx="348.2" cy="508.5" r="1.40"/><circle cx="350.2" cy="508.1" r="1.40"/><circle cx="352.2" cy="507.3" r="1.40"/><circle cx="354.3" cy="508.2" r="1.40"/><circle cx="356.3" cy="508.6" r="1.40"/><circle cx="358.4" cy="508.0" r="1.40"/></g>
<path d="M217.6 508.0L218.2 508.0L218.8 507.9L219.4 507.9L220.0 507.8L220.6 507.8L221.2 507.7L221.8 507.7L222.4 507.6L223.0 507.5L223.6 507.4L224.2 507.3L224.8 507.2L225.4 507.1L226.0 507.0L226.6 506.9L227.2 506.7L227.8 506.6L228.4 506.4L229.0 506.2L229.6 506.1L230.2 505.8L230.8 505.6L231.4 505.4L232.0 505.1L232.6 504.8L233.2 504.5L233.8 504.2L234.4 503.8L235.0 503.4L235.6 503.0L236.2 502.6L236.8 502.1L237.4 501.6L238.0 501.1L238.6 500.5L239.2 499.9L239.8 499.3L240.4 498.6L241.0 497.9L241.6 497.1L242.2 496.3L242.8 495.5L243.4 494.6L244.0 493.7L244.6 492.7L245.2 491.7L245.8 490.6L246.4 489.5L247.0 488.4L247.6 487.2L248.2 485.9L248.8 484.6L249.4 483.3L250.0 481.9L250.6 480.4L251.2 478.9L251.8 477.4L252.4 475.8L253.0 474.2L253.6 472.5L254.2 470.8L254.8 469.0L255.4 467.2L256.0 465.3L256.6 463.5L257.2 461.5L257.8 459.6L258.4 457.6L259.0 455.6L259.6 453.5L260.2 451.4L260.8 449.3L261.4 447.2L262.0 445.1L262.6 442.9L263.2 440.7L263.8 438.5L264.4 436.3L265.0 434.1L265.6 431.9L266.2 429.6L266.8 427.4L267.4 425.2L268.0 423.0L268.6 420.8L269.2 418.6L269.8 416.4L270.4 414.2L271.0 412.0L271.6 409.9L272.2 407.8L272.8 405.7L273.4 403.6L274.0 401.6L274.6 399.6L275.2 397.7L275.8 395.8L276.4 393.9L277.0 392.1L277.6 390.4L278.2 388.7L278.8 387.1L279.4 385.6L280.0 384.1L280.6 382.7L281.2 381.4L281.8 380.1L282.4 379.0L283.0 377.9L283.6 377.0L284.2 376.1L284.8 375.4L285.4 374.8L286.0 374.3L286.6 373.9L287.2 373.7L287.8 373.6L288.4 373.6L289.0 373.7L289.6 374.0L290.2 374.5L290.8 375.1L291.4 375.8L292.0 376.7L292.6 377.7L293.2 378.9L293.8 380.2L294.4 381.6L295.0 383.2L295.6 385.0L296.2 386.8L296.8 388.8L297.4 390.9L298.0 393.2L298.6 395.5L299.2 398.0L299.8 400.6L300.4 403.2L301.0 405.9L301.6 408.7L302.2 411.6L302.8 414.5L303.4 417.5L304.0 420.5L304.6 423.5L305.2 426.6L305.8 429.7L306.4 432.7L307.0 435.8L307.6 438.8L308.2 441.8L308.8 444.8L309.4 447.8L310.0 450.7L310.6 453.5L311.2 456.3L311.8 459.1L312.4 461.7L313.0 464.3L313.6 466.8L314.2 469.3L314.8 471.6L315.4 473.9L316.0 476.1L316.6 478.1L317.2 480.1L317.8 482.1L318.4 483.9L319.0 485.6L319.6 487.2L320.2 488.8L320.8 490.3L321.4 491.7L322.0 493.0L322.6 494.2L323.2 495.3L323.8 496.4L324.4 497.4L325.0 498.3L325.6 499.2L326.2 500.0L326.8 500.8L327.4 501.4L328.0 502.1L328.6 502.7L329.2 503.2L329.8 503.7L330.4 504.1L331.0 504.6L331.6 504.9L332.2 505.3L332.8 505.6L333.4 505.9L334.0 506.1L334.6 506.3L335.2 506.6L335.8 506.7L336.4 506.9L337.0 507.1L337.6 507.2L338.2 507.3L338.8 507.4L339.4 507.5L340.0 507.6L340.6 507.7L341.2 507.8L341.8 507.8L342.4 507.9L343.0 507.9L343.6 508.0L344.2 508.0L344.8 508.0L345.4 508.1L346.0 508.1L346.6 508.1L347.2 508.1L347.8 508.2L348.4 508.2L349.0 508.2L349.6 508.2L350.2 508.2L350.8 508.2L351.4 508.2L352.0 508.2L352.6 508.2L353.2 508.3L353.8 508.3L354.4 508.3L355.0 508.3L355.6 508.3L356.2 508.3L356.8 508.3L357.4 508.3L358.0 508.3L358.6 508.3L359.2 508.3L359.8 508.3" fill="none" stroke="#2c2cf5" stroke-width="1.08" stroke-linejoin="round"/>
<g fill="none" stroke="#0c0c0c" stroke-width="1.0" stroke-linejoin="round"><path d="M217.6 508.5L221.6 508.5L225.6 508.5L229.6 508.5L233.6 508.5L237.6 508.5L241.6 508.5L245.6 508.5L249.6 508.5L253.6 508.5L257.6 508.5L261.6 508.5L265.6 508.5L269.6 508.5L273.6 508.5L277.6 508.5L281.6 508.5L285.6 508.5L289.6 508.5L293.6 508.5L297.6 508.5L301.6 508.5L305.6 508.5L309.6 508.5L313.6 508.5L317.6 508.5L321.6 508.5L325.6 508.5L329.6 508.5L333.6 508.5L337.6 508.5L341.6 508.5L345.6 508.5L349.6 508.5L353.6 508.5L357.6 508.5L359.8 508.5"/><path d="M217.6 508.1L218.2 508.0L218.8 508.0L219.4 508.0L220.0 507.9L220.6 507.9L221.2 507.8L221.8 507.7L222.4 507.7L223.0 507.6L223.6 507.5L224.2 507.4L224.8 507.3L225.4 507.2L226.0 507.1L226.6 507.0L227.2 506.8L227.8 506.7L228.4 506.5L229.0 506.3L229.6 506.1L230.2 505.9L230.8 505.7L231.4 505.4L232.0 505.1L232.6 504.9L233.2 504.5L233.8 504.2L234.4 503.8L235.0 503.5L235.6 503.0L236.2 502.6L236.8 502.1L237.4 501.6L238.0 501.1L238.6 500.5L239.2 499.9L239.8 499.3L240.4 498.6L241.0 497.9L241.6 497.1L242.2 496.3L242.8 495.5L243.4 494.6L244.0 493.7L244.6 492.7L245.2 491.7L245.8 490.7L246.4 489.6L247.0 488.4L247.6 487.2L248.2 486.0L248.8 484.7L249.4 483.4L250.0 482.1L250.6 480.7L251.2 479.2L251.8 477.7L252.4 476.2L253.0 474.7L253.6 473.1L254.2 471.5L254.8 469.8L255.4 468.2L256.0 466.5L256.6 464.8L257.2 463.1L257.8 461.3L258.4 459.6L259.0 457.9L259.6 456.1L260.2 454.4L260.8 452.7L261.4 451.0L262.0 449.3L262.6 447.6L263.2 446.0L263.8 444.3L264.4 442.8L265.0 441.2L265.6 439.8L266.2 438.3L266.8 437.0L267.4 435.7L268.0 434.4L268.6 433.3L269.2 432.2L269.8 431.1L270.4 430.2L271.0 429.3L271.6 428.6L272.2 427.9L272.8 427.3L273.4 426.8L274.0 426.5L274.6 426.2L275.2 426.0L275.8 425.9L276.4 425.9L277.0 426.0L277.6 426.3L278.2 426.6L278.8 427.0L279.4 427.5L280.0 428.1L280.6 428.8L281.2 429.6L281.8 430.5L282.4 431.5L283.0 432.5L283.6 433.6L284.2 434.8L284.8 436.1L285.4 437.4L286.0 438.8L286.6 440.3L287.2 441.8L287.8 443.3L288.4 444.9L289.0 446.5L289.6 448.1L290.2 449.8L290.8 451.5L291.4 453.2L292.0 455.0L292.6 456.7L293.2 458.4L293.8 460.2L294.4 461.9L295.0 463.6L295.6 465.4L296.2 467.1L296.8 468.7L297.4 470.4L298.0 472.0L298.6 473.6L299.2 475.2L299.8 476.7L300.4 478.2L301.0 479.7L301.6 481.1L302.2 482.5L302.8 483.9L303.4 485.2L304.0 486.4L304.6 487.6L305.2 488.8L305.8 489.9L306.4 491.0L307.0 492.1L307.6 493.1L308.2 494.0L308.8 494.9L309.4 495.8L310.0 496.6L310.6 497.4L311.2 498.1L311.8 498.8L312.4 499.5L313.0 500.1L313.6 500.7L314.2 501.3L314.8 501.8L315.4 502.3L316.0 502.7L316.6 503.2L317.2 503.6L317.8 504.0L318.4 504.3L319.0 504.6L319.6 505.0L320.2 505.2L320.8 505.5L321.4 505.7L322.0 506.0L322.6 506.2L323.2 506.4L323.8 506.5L324.4 506.7L325.0 506.9L325.6 507.0L326.2 507.1L326.8 507.2L327.4 507.3L328.0 507.4L328.6 507.5L329.2 507.6L329.8 507.7L330.4 507.8L331.0 507.8L331.6 507.9L332.2 507.9L332.8 508.0L333.4 508.0L334.0 508.0L334.6 508.1L335.2 508.1L335.8 508.1L336.4 508.2L337.0 508.2L337.6 508.2L338.2 508.2L338.8 508.2L339.4 508.3L340.0 508.3L340.6 508.3L341.2 508.3L341.8 508.3L342.4 508.3L343.0 508.3L343.6 508.3L344.2 508.3L344.8 508.3L345.4 508.3L346.0 508.4L346.6 508.4L347.2 508.4L347.8 508.4L348.4 508.4L349.0 508.4L349.6 508.4L350.2 508.4L350.8 508.4L351.4 508.4L352.0 508.4L352.6 508.4L353.2 508.4L353.8 508.4L354.4 508.4L355.0 508.4L355.6 508.4L356.2 508.4L356.8 508.4L357.4 508.4L358.0 508.4L358.6 508.4L359.2 508.4L359.8 508.4"/><path d="M217.6 508.4L218.2 508.4L218.8 508.4L219.4 508.4L220.0 508.4L220.6 508.4L221.2 508.4L221.8 508.4L222.4 508.4L223.0 508.4L223.6 508.4L224.2 508.4L224.8 508.4L225.4 508.4L226.0 508.4L226.6 508.4L227.2 508.4L227.8 508.4L228.4 508.4L229.0 508.4L229.6 508.4L230.2 508.4L230.8 508.4L231.4 508.4L232.0 508.4L232.6 508.4L233.2 508.4L233.8 508.4L234.4 508.4L235.0 508.4L235.6 508.4L236.2 508.4L236.8 508.4L237.4 508.4L238.0 508.4L238.6 508.3L239.2 508.3L239.8 508.3L240.4 508.3L241.0 508.3L241.6 508.3L242.2 508.3L242.8 508.3L243.4 508.3L244.0 508.2L244.6 508.2L245.2 508.2L245.8 508.2L246.4 508.1L247.0 508.1L247.6 508.1L248.2 508.0L248.8 508.0L249.4 507.9L250.0 507.8L250.6 507.8L251.2 507.7L251.8 507.6L252.4 507.5L253.0 507.4L253.6 507.3L254.2 507.1L254.8 507.0L255.4 506.8L256.0 506.6L256.6 506.4L257.2 506.1L257.8 505.9L258.4 505.6L259.0 505.3L259.6 504.9L260.2 504.6L260.8 504.1L261.4 503.7L262.0 503.2L262.6 502.7L263.2 502.1L263.8 501.5L264.4 500.8L265.0 500.1L265.6 499.3L266.2 498.4L266.8 497.5L267.4 496.6L268.0 495.6L268.6 494.5L269.2 493.4L269.8 492.1L270.4 490.9L271.0 489.5L271.6 488.1L272.2 486.6L272.8 485.1L273.4 483.5L274.0 481.8L274.6 480.1L275.2 478.3L275.8 476.4L276.4 474.5L277.0 472.6L277.6 470.6L278.2 468.6L278.8 466.5L279.4 464.4L280.0 462.3L280.6 460.2L281.2 458.0L281.8 455.9L282.4 453.8L283.0 451.7L283.6 449.6L284.2 447.5L284.8 445.5L285.4 443.6L286.0 441.7L286.6 439.8L287.2 438.1L287.8 436.4L288.4 434.9L289.0 433.4L289.6 432.1L290.2 430.8L290.8 429.7L291.4 428.8L292.0 427.9L292.6 427.2L293.2 426.7L293.8 426.3L294.4 426.0L295.0 425.9L295.6 426.0L296.2 426.2L296.8 426.5L297.4 427.0L298.0 427.7L298.6 428.5L299.2 429.4L299.8 430.5L300.4 431.6L301.0 433.0L301.6 434.4L302.2 435.9L302.8 437.5L303.4 439.3L304.0 441.1L304.6 442.9L305.2 444.9L305.8 446.9L306.4 448.9L307.0 451.0L307.6 453.1L308.2 455.2L308.8 457.3L309.4 459.5L310.0 461.6L310.6 463.7L311.2 465.8L311.8 467.9L312.4 469.9L313.0 471.9L313.6 473.9L314.2 475.8L314.8 477.7L315.4 479.5L316.0 481.2L316.6 482.9L317.2 484.6L317.8 486.1L318.4 487.6L319.0 489.1L319.6 490.4L320.2 491.7L320.8 493.0L321.4 494.1L322.0 495.2L322.6 496.3L323.2 497.2L323.8 498.1L324.4 499.0L325.0 499.8L325.6 500.5L326.2 501.2L326.8 501.9L327.4 502.5L328.0 503.0L328.6 503.5L329.2 504.0L329.8 504.4L330.4 504.8L331.0 505.2L331.6 505.5L332.2 505.8L332.8 506.1L333.4 506.3L334.0 506.5L334.6 506.7L335.2 506.9L335.8 507.1L336.4 507.2L337.0 507.4L337.6 507.5L338.2 507.6L338.8 507.7L339.4 507.8L340.0 507.8L340.6 507.9L341.2 508.0L341.8 508.0L342.4 508.0L343.0 508.1L343.6 508.1L344.2 508.2L344.8 508.2L345.4 508.2L346.0 508.2L346.6 508.3L347.2 508.3L347.8 508.3L348.4 508.3L349.0 508.3L349.6 508.3L350.2 508.3L350.8 508.3L351.4 508.3L352.0 508.4L352.6 508.4L353.2 508.4L353.8 508.4L354.4 508.4L355.0 508.4L355.6 508.4L356.2 508.4L356.8 508.4L357.4 508.4L358.0 508.4L358.6 508.4L359.2 508.4L359.8 508.4"/></g>
<path d="M204.60 357.60 L204.60 511.80 L360.00 511.80 M199.20 357.50 L204.60 357.50 M199.20 395.00 L204.60 395.00 M199.20 432.80 L204.60 432.80 M199.20 470.70 L204.60 470.70 M199.20 508.50 L204.60 508.50 M206.86 511.80 L206.86 515.10 M217.07 511.80 L217.07 515.10 M227.28 511.80 L227.28 517.30 M237.49 511.80 L237.49 515.10 M247.70 511.80 L247.70 515.10 M257.91 511.80 L257.91 515.10 M268.12 511.80 L268.12 517.30 M278.33 511.80 L278.33 515.10 M288.54 511.80 L288.54 515.10 M298.75 511.80 L298.75 515.10 M308.96 511.80 L308.96 517.30 M319.17 511.80 L319.17 515.10 M329.38 511.80 L329.38 515.10 M339.59 511.80 L339.59 515.10 M349.80 511.80 L349.80 517.30 M360.01 511.80 L360.01 515.10" fill="none" stroke="#1c1c1c" stroke-width="1.35" stroke-linecap="butt"/>
<g fill="none" stroke="#ff3b3b" stroke-width="0.75" stroke-opacity="0.9"><circle cx="380.0" cy="506.5" r="1.42"/><circle cx="381.2" cy="507.4" r="1.42"/><circle cx="382.5" cy="505.1" r="1.42"/><circle cx="383.8" cy="507.0" r="1.42"/><circle cx="385.0" cy="508.4" r="1.42"/><circle cx="386.2" cy="504.9" r="1.42"/><circle cx="387.5" cy="505.6" r="1.42"/><circle cx="388.8" cy="505.0" r="1.42"/><circle cx="390.0" cy="507.0" r="1.42"/><circle cx="391.2" cy="505.0" r="1.42"/><circle cx="392.5" cy="505.5" r="1.42"/><circle cx="393.8" cy="502.9" r="1.42"/><circle cx="395.0" cy="503.5" r="1.42"/><circle cx="396.2" cy="503.2" r="1.42"/><circle cx="397.5" cy="500.2" r="1.42"/><circle cx="398.8" cy="504.5" r="1.42"/><circle cx="400.0" cy="503.2" r="1.42"/><circle cx="401.2" cy="498.8" r="1.42"/><circle cx="402.5" cy="502.1" r="1.42"/><circle cx="403.8" cy="500.2" r="1.42"/><circle cx="405.0" cy="500.6" r="1.42"/><circle cx="406.2" cy="500.0" r="1.42"/><circle cx="407.5" cy="496.5" r="1.42"/><circle cx="408.8" cy="498.0" r="1.42"/><circle cx="410.0" cy="500.2" r="1.42"/><circle cx="411.2" cy="496.3" r="1.42"/><circle cx="412.5" cy="495.0" r="1.42"/><circle cx="413.8" cy="493.9" r="1.42"/><circle cx="415.0" cy="493.6" r="1.42"/><circle cx="416.2" cy="495.6" r="1.42"/><circle cx="417.5" cy="497.3" r="1.42"/><circle cx="418.8" cy="494.6" r="1.42"/><circle cx="420.0" cy="493.8" r="1.42"/><circle cx="421.2" cy="496.6" r="1.42"/><circle cx="422.5" cy="491.3" r="1.42"/><circle cx="423.8" cy="490.4" r="1.42"/><circle cx="425.0" cy="491.9" r="1.42"/><circle cx="426.2" cy="491.3" r="1.42"/><circle cx="427.5" cy="487.8" r="1.42"/><circle cx="428.8" cy="486.7" r="1.42"/><circle cx="430.0" cy="488.5" r="1.42"/><circle cx="431.2" cy="487.4" r="1.42"/><circle cx="432.5" cy="483.5" r="1.42"/><circle cx="433.8" cy="484.2" r="1.42"/><circle cx="435.0" cy="482.2" r="1.42"/><circle cx="436.2" cy="482.4" r="1.42"/><circle cx="437.5" cy="479.5" r="1.42"/><circle cx="438.8" cy="477.5" r="1.42"/><circle cx="440.0" cy="474.6" r="1.42"/><circle cx="441.2" cy="474.8" r="1.42"/><circle cx="442.5" cy="472.6" r="1.42"/><circle cx="443.8" cy="465.7" r="1.42"/><circle cx="445.0" cy="464.7" r="1.42"/><circle cx="446.2" cy="457.4" r="1.42"/><circle cx="447.5" cy="455.0" r="1.42"/><circle cx="448.8" cy="452.0" r="1.42"/><circle cx="450.0" cy="448.9" r="1.42"/><circle cx="451.2" cy="439.4" r="1.42"/><circle cx="452.5" cy="434.7" r="1.42"/><circle cx="453.8" cy="429.8" r="1.42"/><circle cx="455.0" cy="419.8" r="1.42"/><circle cx="456.2" cy="417.7" r="1.42"/><circle cx="457.5" cy="410.0" r="1.42"/><circle cx="458.8" cy="406.7" r="1.42"/><circle cx="460.0" cy="396.8" r="1.42"/><circle cx="461.2" cy="388.7" r="1.42"/><circle cx="462.5" cy="388.7" r="1.42"/><circle cx="463.8" cy="384.0" r="1.42"/><circle cx="465.0" cy="376.8" r="1.42"/><circle cx="466.2" cy="376.4" r="1.42"/><circle cx="467.5" cy="369.0" r="1.42"/><circle cx="468.8" cy="364.5" r="1.42"/><circle cx="470.0" cy="364.8" r="1.42"/><circle cx="471.2" cy="356.6" r="1.42"/><circle cx="472.5" cy="357.7" r="1.42"/><circle cx="473.8" cy="358.8" r="1.42"/><circle cx="475.0" cy="361.3" r="1.42"/><circle cx="476.2" cy="358.9" r="1.42"/><circle cx="477.5" cy="361.7" r="1.42"/><circle cx="478.8" cy="361.0" r="1.42"/><circle cx="480.0" cy="366.7" r="1.42"/><circle cx="481.2" cy="374.2" r="1.42"/><circle cx="482.5" cy="371.6" r="1.42"/><circle cx="483.8" cy="385.1" r="1.42"/><circle cx="485.0" cy="382.0" r="1.42"/><circle cx="486.2" cy="389.6" r="1.42"/><circle cx="487.5" cy="396.2" r="1.42"/><circle cx="488.8" cy="405.0" r="1.42"/><circle cx="490.0" cy="405.8" r="1.42"/><circle cx="491.2" cy="410.5" r="1.42"/><circle cx="492.5" cy="424.3" r="1.42"/><circle cx="493.8" cy="431.6" r="1.42"/><circle cx="495.0" cy="437.9" r="1.42"/><circle cx="496.2" cy="449.2" r="1.42"/><circle cx="497.5" cy="449.9" r="1.42"/><circle cx="498.8" cy="456.0" r="1.42"/><circle cx="500.0" cy="463.2" r="1.42"/><circle cx="501.2" cy="467.4" r="1.42"/><circle cx="502.5" cy="475.0" r="1.42"/><circle cx="503.8" cy="473.8" r="1.42"/><circle cx="505.0" cy="479.7" r="1.42"/><circle cx="506.2" cy="477.8" r="1.42"/><circle cx="507.5" cy="489.1" r="1.42"/><circle cx="508.8" cy="490.0" r="1.42"/><circle cx="510.0" cy="494.8" r="1.42"/><circle cx="511.2" cy="499.2" r="1.42"/><circle cx="512.5" cy="497.6" r="1.42"/><circle cx="513.8" cy="498.9" r="1.42"/><circle cx="515.0" cy="500.0" r="1.42"/><circle cx="516.2" cy="500.8" r="1.42"/><circle cx="517.5" cy="502.2" r="1.42"/><circle cx="518.8" cy="504.9" r="1.42"/><circle cx="520.0" cy="504.7" r="1.42"/><circle cx="521.2" cy="505.3" r="1.42"/><circle cx="522.5" cy="505.5" r="1.42"/><circle cx="523.8" cy="507.3" r="1.42"/><circle cx="525.0" cy="507.1" r="1.42"/><circle cx="526.2" cy="506.5" r="1.42"/><circle cx="527.5" cy="507.7" r="1.42"/><circle cx="528.8" cy="506.8" r="1.42"/><circle cx="530.0" cy="505.7" r="1.42"/><circle cx="531.2" cy="509.1" r="1.42"/><circle cx="532.5" cy="507.9" r="1.42"/></g>
<path d="M380.0 506.6L380.6 506.5L381.2 506.5L381.8 506.4L382.4 506.3L383.0 506.2L383.6 506.1L384.2 506.0L384.8 505.9L385.4 505.8L386.0 505.7L386.6 505.6L387.2 505.5L387.8 505.4L388.4 505.3L389.0 505.1L389.6 505.0L390.2 504.9L390.8 504.7L391.4 504.6L392.0 504.4L392.6 504.3L393.2 504.1L393.8 503.9L394.4 503.7L395.0 503.6L395.6 503.4L396.2 503.2L396.8 503.0L397.4 502.8L398.0 502.6L398.6 502.4L399.2 502.2L399.8 502.0L400.4 501.7L401.0 501.5L401.6 501.3L402.2 501.1L402.8 500.8L403.4 500.6L404.0 500.3L404.6 500.1L405.2 499.8L405.8 499.6L406.4 499.3L407.0 499.1L407.6 498.8L408.2 498.6L408.8 498.3L409.4 498.0L410.0 497.8L410.6 497.5L411.2 497.3L411.8 497.0L412.4 496.7L413.0 496.5L413.6 496.2L414.2 495.9L414.8 495.7L415.4 495.4L416.0 495.1L416.6 494.9L417.2 494.6L417.8 494.3L418.4 494.1L419.0 493.8L419.6 493.5L420.2 493.3L420.8 493.0L421.4 492.7L422.0 492.4L422.6 492.2L423.2 491.9L423.8 491.6L424.4 491.3L425.0 491.0L425.6 490.7L426.2 490.3L426.8 490.0L427.4 489.7L428.0 489.3L428.6 488.9L429.2 488.5L429.8 488.1L430.4 487.6L431.0 487.2L431.6 486.7L432.2 486.1L432.8 485.6L433.4 485.0L434.0 484.3L434.6 483.6L435.2 482.9L435.8 482.2L436.4 481.3L437.0 480.5L437.6 479.6L438.2 478.6L438.8 477.6L439.4 476.5L440.0 475.3L440.6 474.1L441.2 472.8L441.8 471.4L442.4 470.0L443.0 468.5L443.6 466.9L444.2 465.2L444.8 463.5L445.4 461.7L446.0 459.8L446.6 457.9L447.2 455.8L447.8 453.7L448.4 451.6L449.0 449.3L449.6 447.0L450.2 444.6L450.8 442.2L451.4 439.7L452.0 437.1L452.6 434.5L453.2 431.8L453.8 429.1L454.4 426.3L455.0 423.6L455.6 420.7L456.2 417.9L456.8 415.1L457.4 412.2L458.0 409.3L458.6 406.5L459.2 403.6L459.8 400.8L460.4 398.0L461.0 395.3L461.6 392.5L462.2 389.9L462.8 387.3L463.4 384.7L464.0 382.3L464.6 379.9L465.2 377.6L465.8 375.4L466.4 373.3L467.0 371.3L467.6 369.5L468.2 367.8L468.8 366.2L469.4 364.7L470.0 363.4L470.6 362.3L471.2 361.3L471.8 360.4L472.4 359.8L473.0 359.2L473.6 358.9L474.2 358.7L474.8 358.7L475.4 358.9L476.0 359.2L476.6 359.7L477.2 360.4L477.8 361.3L478.4 362.3L479.0 363.5L479.6 364.8L480.2 366.4L480.8 368.0L481.4 369.9L482.0 371.8L482.6 374.0L483.2 376.2L483.8 378.6L484.4 381.1L485.0 383.8L485.6 386.5L486.2 389.3L486.8 392.2L487.4 395.2L488.0 398.3L488.6 401.5L489.2 404.7L489.8 407.9L490.4 411.2L491.0 414.5L491.6 417.8L492.2 421.1L492.8 424.4L493.4 427.7L494.0 431.0L494.6 434.3L495.2 437.5L495.8 440.7L496.4 443.8L497.0 446.9L497.6 449.9L498.2 452.8L498.8 455.7L499.4 458.5L500.0 461.2L500.6 463.9L501.2 466.4L501.8 468.9L502.4 471.2L503.0 473.5L503.6 475.7L504.2 477.8L504.8 479.8L505.4 481.7L506.0 483.5L506.6 485.2L507.2 486.8L507.8 488.4L508.4 489.8L509.0 491.2L509.6 492.5L510.2 493.7L510.8 494.8L511.4 495.8L512.0 496.8L512.6 497.7L513.2 498.6L513.8 499.4L514.4 500.1L515.0 500.8L515.6 501.4L516.2 502.0L516.8 502.5L517.4 503.0L518.0 503.4L518.6 503.8L519.2 504.2L519.8 504.6L520.4 504.9L521.0 505.1L521.6 505.4L522.2 505.6L522.8 505.8L523.4 506.0L524.0 506.2L524.6 506.3L525.2 506.5L525.8 506.6L526.4 506.7L527.0 506.8L527.6 506.9L528.2 507.0L528.8 507.0L529.4 507.1L530.0 507.2L530.6 507.2L531.2 507.3L531.8 507.3L532.4 507.3" fill="none" stroke="#2c2cf5" stroke-width="1.08" stroke-linejoin="round"/>
<g fill="none" stroke="#0c0c0c" stroke-width="1.0" stroke-linejoin="round"><path d="M380.0 508.0L384.0 508.0L388.0 508.0L392.0 508.0L396.0 508.0L400.0 508.0L404.0 508.0L408.0 508.0L412.0 508.0L416.0 508.0L420.0 508.0L424.0 508.0L428.0 508.0L432.0 508.0L436.0 508.0L440.0 508.0L444.0 508.0L448.0 508.0L452.0 508.0L456.0 508.0L460.0 508.0L464.0 508.0L468.0 508.0L472.0 508.0L476.0 508.0L480.0 508.0L484.0 508.0L488.0 508.0L492.0 508.0L496.0 508.0L500.0 508.0L504.0 508.0L508.0 508.0L512.0 508.0L516.0 508.0L520.0 508.0L524.0 508.0L528.0 508.0L532.0 508.0L532.6 508.0"/><path d="M380.0 507.9L380.6 507.9L381.2 507.9L381.8 507.9L382.4 507.9L383.0 507.9L383.6 507.9L384.2 507.9L384.8 507.9L385.4 507.9L386.0 507.9L386.6 507.9L387.2 507.9L387.8 507.9L388.4 507.8L389.0 507.8L389.6 507.8L390.2 507.8L390.8 507.8L391.4 507.8L392.0 507.8L392.6 507.8L393.2 507.8L393.8 507.8L394.4 507.8L395.0 507.8L395.6 507.8L396.2 507.8L396.8 507.8L397.4 507.8L398.0 507.8L398.6 507.8L399.2 507.8L399.8 507.8L400.4 507.8L401.0 507.8L401.6 507.8L402.2 507.8L402.8 507.8L403.4 507.8L404.0 507.8L404.6 507.8L405.2 507.7L405.8 507.7L406.4 507.7L407.0 507.7L407.6 507.7L408.2 507.7L408.8 507.7L409.4 507.7L410.0 507.7L410.6 507.6L411.2 507.6L411.8 507.6L412.4 507.6L413.0 507.5L413.6 507.5L414.2 507.5L414.8 507.4L415.4 507.4L416.0 507.4L416.6 507.3L417.2 507.3L417.8 507.2L418.4 507.1L419.0 507.0L419.6 507.0L420.2 506.9L420.8 506.8L421.4 506.6L422.0 506.5L422.6 506.4L423.2 506.2L423.8 506.1L424.4 505.9L425.0 505.7L425.6 505.4L426.2 505.2L426.8 504.9L427.4 504.6L428.0 504.3L428.6 503.9L429.2 503.6L429.8 503.2L430.4 502.7L431.0 502.2L431.6 501.7L432.2 501.1L432.8 500.5L433.4 499.9L434.0 499.2L434.6 498.4L435.2 497.6L435.8 496.8L436.4 495.9L437.0 494.9L437.6 493.9L438.2 492.8L438.8 491.6L439.4 490.4L440.0 489.2L440.6 487.8L441.2 486.4L441.8 484.9L442.4 483.4L443.0 481.8L443.6 480.1L444.2 478.4L444.8 476.6L445.4 474.7L446.0 472.8L446.6 470.8L447.2 468.7L447.8 466.6L448.4 464.5L449.0 462.3L449.6 460.0L450.2 457.8L450.8 455.5L451.4 453.1L452.0 450.8L452.6 448.4L453.2 446.1L453.8 443.7L454.4 441.3L455.0 439.0L455.6 436.6L456.2 434.4L456.8 432.1L457.4 429.9L458.0 427.7L458.6 425.6L459.2 423.6L459.8 421.6L460.4 419.8L461.0 418.0L461.6 416.3L462.2 414.8L462.8 413.3L463.4 412.0L464.0 410.8L464.6 409.8L465.2 408.8L465.8 408.1L466.4 407.4L467.0 406.9L467.6 406.6L468.2 406.4L468.8 406.4L469.4 406.5L470.0 406.8L470.6 407.3L471.2 407.8L471.8 408.6L472.4 409.4L473.0 410.5L473.6 411.6L474.2 412.9L474.8 414.3L475.4 415.8L476.0 417.4L476.6 419.2L477.2 421.0L477.8 422.9L478.4 424.9L479.0 427.0L479.6 429.2L480.2 431.3L480.8 433.6L481.4 435.9L482.0 438.2L482.6 440.5L483.2 442.9L483.8 445.3L484.4 447.6L485.0 450.0L485.6 452.4L486.2 454.7L486.8 457.0L487.4 459.3L488.0 461.5L488.6 463.7L489.2 465.9L489.8 468.0L490.4 470.1L491.0 472.1L491.6 474.0L492.2 475.9L492.8 477.8L493.4 479.5L494.0 481.2L494.6 482.9L495.2 484.4L495.8 485.9L496.4 487.4L497.0 488.7L497.6 490.0L498.2 491.2L498.8 492.4L499.4 493.5L500.0 494.6L500.6 495.6L501.2 496.5L501.8 497.4L502.4 498.2L503.0 498.9L503.6 499.6L504.2 500.3L504.8 500.9L505.4 501.5L506.0 502.1L506.6 502.5L507.2 503.0L507.8 503.4L508.4 503.8L509.0 504.2L509.6 504.5L510.2 504.8L510.8 505.1L511.4 505.4L512.0 505.6L512.6 505.8L513.2 506.0L513.8 506.2L514.4 506.3L515.0 506.5L515.6 506.6L516.2 506.7L516.8 506.8L517.4 506.9L518.0 507.0L518.6 507.1L519.2 507.2L519.8 507.2L520.4 507.3L521.0 507.3L521.6 507.4L522.2 507.4L522.8 507.5L523.4 507.5L524.0 507.5L524.6 507.6L525.2 507.6L525.8 507.6L526.4 507.6L527.0 507.6L527.6 507.7L528.2 507.7L528.8 507.7L529.4 507.7L530.0 507.7L530.6 507.7L531.2 507.7L531.8 507.7L532.4 507.7"/><path d="M380.0 507.9L380.6 507.9L381.2 507.9L381.8 507.9L382.4 507.9L383.0 507.9L383.6 507.9L384.2 507.9L384.8 507.9L385.4 507.9L386.0 507.9L386.6 507.9L387.2 507.9L387.8 507.9L388.4 507.9L389.0 507.9L389.6 507.9L390.2 507.9L390.8 507.9L391.4 507.9L392.0 507.9L392.6 507.9L393.2 507.9L393.8 507.9L394.4 507.9L395.0 507.9L395.6 507.9L396.2 507.9L396.8 507.9L397.4 507.9L398.0 507.9L398.6 507.9L399.2 507.9L399.8 507.9L400.4 507.9L401.0 507.9L401.6 507.9L402.2 507.9L402.8 507.9L403.4 507.9L404.0 507.9L404.6 507.9L405.2 507.9L405.8 507.9L406.4 507.9L407.0 507.9L407.6 507.9L408.2 507.9L408.8 507.9L409.4 507.9L410.0 507.9L410.6 507.9L411.2 507.9L411.8 507.9L412.4 507.9L413.0 507.9L413.6 507.9L414.2 507.9L414.8 507.9L415.4 507.9L416.0 507.9L416.6 507.9L417.2 507.9L417.8 507.9L418.4 507.9L419.0 507.9L419.6 507.9L420.2 507.9L420.8 507.9L421.4 507.9L422.0 507.9L422.6 507.9L423.2 507.9L423.8 507.8L424.4 507.8L425.0 507.8L425.6 507.8L426.2 507.8L426.8 507.8L427.4 507.8L428.0 507.8L428.6 507.8L429.2 507.8L429.8 507.8L430.4 507.8L431.0 507.8L431.6 507.7L432.2 507.7L432.8 507.7L433.4 507.7L434.0 507.7L434.6 507.6L435.2 507.6L435.8 507.6L436.4 507.5L437.0 507.5L437.6 507.5L438.2 507.4L438.8 507.4L439.4 507.3L440.0 507.2L440.6 507.1L441.2 507.0L441.8 506.9L442.4 506.8L443.0 506.7L443.6 506.6L444.2 506.4L444.8 506.2L445.4 506.1L446.0 505.9L446.6 505.6L447.2 505.4L447.8 505.1L448.4 504.8L449.0 504.5L449.6 504.1L450.2 503.7L450.8 503.3L451.4 502.8L452.0 502.3L452.6 501.8L453.2 501.2L453.8 500.6L454.4 499.9L455.0 499.2L455.6 498.5L456.2 497.7L456.8 496.8L457.4 495.9L458.0 494.9L458.6 493.9L459.2 492.8L459.8 491.7L460.4 490.5L461.0 489.3L461.6 488.0L462.2 486.6L462.8 485.3L463.4 483.8L464.0 482.3L464.6 480.8L465.2 479.2L465.8 477.6L466.4 476.0L467.0 474.3L467.6 472.6L468.2 470.9L468.8 469.2L469.4 467.4L470.0 465.7L470.6 463.9L471.2 462.2L471.8 460.5L472.4 458.8L473.0 457.2L473.6 455.6L474.2 454.0L474.8 452.5L475.4 451.1L476.0 449.7L476.6 448.4L477.2 447.1L477.8 446.0L478.4 445.0L479.0 444.0L479.6 443.2L480.2 442.5L480.8 441.9L481.4 441.4L482.0 441.0L482.6 440.7L483.2 440.6L483.8 440.6L484.4 440.7L485.0 441.0L485.6 441.4L486.2 441.9L486.8 442.5L487.4 443.2L488.0 444.0L488.6 445.0L489.2 446.0L489.8 447.1L490.4 448.4L491.0 449.7L491.6 451.1L492.2 452.5L492.8 454.0L493.4 455.6L494.0 457.2L494.6 458.8L495.2 460.5L495.8 462.2L496.4 463.9L497.0 465.7L497.6 467.4L498.2 469.2L498.8 470.9L499.4 472.6L500.0 474.3L500.6 476.0L501.2 477.6L501.8 479.2L502.4 480.8L503.0 482.3L503.6 483.8L504.2 485.3L504.8 486.6L505.4 488.0L506.0 489.3L506.6 490.5L507.2 491.7L507.8 492.8L508.4 493.9L509.0 494.9L509.6 495.9L510.2 496.8L510.8 497.7L511.4 498.5L512.0 499.2L512.6 499.9L513.2 500.6L513.8 501.2L514.4 501.8L515.0 502.3L515.6 502.8L516.2 503.3L516.8 503.7L517.4 504.1L518.0 504.5L518.6 504.8L519.2 505.1L519.8 505.4L520.4 505.6L521.0 505.9L521.6 506.1L522.2 506.2L522.8 506.4L523.4 506.6L524.0 506.7L524.6 506.8L525.2 506.9L525.8 507.0L526.4 507.1L527.0 507.2L527.6 507.3L528.2 507.4L528.8 507.4L529.4 507.5L530.0 507.5L530.6 507.5L531.2 507.6L531.8 507.6L532.4 507.6"/><path d="M380.0 506.8L380.6 506.7L381.2 506.6L381.8 506.5L382.4 506.5L383.0 506.4L383.6 506.3L384.2 506.2L384.8 506.1L385.4 506.0L386.0 505.9L386.6 505.8L387.2 505.7L387.8 505.6L388.4 505.4L389.0 505.3L389.6 505.2L390.2 505.0L390.8 504.9L391.4 504.7L392.0 504.6L392.6 504.4L393.2 504.3L393.8 504.1L394.4 503.9L395.0 503.8L395.6 503.6L396.2 503.4L396.8 503.2L397.4 503.0L398.0 502.8L398.6 502.6L399.2 502.4L399.8 502.2L400.4 502.0L401.0 501.7L401.6 501.5L402.2 501.3L402.8 501.0L403.4 500.8L404.0 500.6L404.6 500.3L405.2 500.1L405.8 499.8L406.4 499.6L407.0 499.3L407.6 499.1L408.2 498.8L408.8 498.6L409.4 498.3L410.0 498.1L410.6 497.9L411.2 497.6L411.8 497.4L412.4 497.1L413.0 496.9L413.6 496.6L414.2 496.4L414.8 496.2L415.4 495.9L416.0 495.7L416.6 495.5L417.2 495.3L417.8 495.1L418.4 494.9L419.0 494.7L419.6 494.5L420.2 494.3L420.8 494.2L421.4 494.0L422.0 493.9L422.6 493.7L423.2 493.6L423.8 493.5L424.4 493.4L425.0 493.3L425.6 493.2L426.2 493.1L426.8 493.0L427.4 493.0L428.0 493.0L428.6 492.9L429.2 492.9L429.8 492.9L430.4 492.9L431.0 492.9L431.6 493.0L432.2 493.0L432.8 493.0L433.4 493.1L434.0 493.2L434.6 493.3L435.2 493.4L435.8 493.5L436.4 493.6L437.0 493.7L437.6 493.9L438.2 494.0L438.8 494.2L439.4 494.3L440.0 494.5L440.6 494.7L441.2 494.9L441.8 495.1L442.4 495.3L443.0 495.5L443.6 495.7L444.2 495.9L444.8 496.2L445.4 496.4L446.0 496.6L446.6 496.9L447.2 497.1L447.8 497.4L448.4 497.6L449.0 497.9L449.6 498.1L450.2 498.3L450.8 498.6L451.4 498.8L452.0 499.1L452.6 499.3L453.2 499.6L453.8 499.8L454.4 500.1L455.0 500.3L455.6 500.6L456.2 500.8L456.8 501.0L457.4 501.3L458.0 501.5L458.6 501.7L459.2 502.0L459.8 502.2L460.4 502.4L461.0 502.6L461.6 502.8L462.2 503.0L462.8 503.2L463.4 503.4L464.0 503.6L464.6 503.8L465.2 503.9L465.8 504.1L466.4 504.3L467.0 504.4L467.6 504.6L468.2 504.7L468.8 504.9L469.4 505.0L470.0 505.2L470.6 505.3L471.2 505.4L471.8 505.6L472.4 505.7L473.0 505.8L473.6 505.9L474.2 506.0L474.8 506.1L475.4 506.2L476.0 506.3L476.6 506.4L477.2 506.5L477.8 506.5L478.4 506.6L479.0 506.7L479.6 506.8L480.2 506.8L480.8 506.9L481.4 506.9L482.0 507.0L482.6 507.1L483.2 507.1L483.8 507.2L484.4 507.2L485.0 507.2L485.6 507.3L486.2 507.3L486.8 507.4L487.4 507.4L488.0 507.4L488.6 507.5L489.2 507.5L489.8 507.5L490.4 507.5L491.0 507.6L491.6 507.6L492.2 507.6L492.8 507.6L493.4 507.6L494.0 507.7L494.6 507.7L495.2 507.7L495.8 507.7L496.4 507.7L497.0 507.7L497.6 507.7L498.2 507.8L498.8 507.8L499.4 507.8L500.0 507.8L500.6 507.8L501.2 507.8L501.8 507.8L502.4 507.8L503.0 507.8L503.6 507.8L504.2 507.8L504.8 507.8L505.4 507.8L506.0 507.8L506.6 507.9L507.2 507.9L507.8 507.9L508.4 507.9L509.0 507.9L509.6 507.9L510.2 507.9L510.8 507.9L511.4 507.9L512.0 507.9L512.6 507.9L513.2 507.9L513.8 507.9L514.4 507.9L515.0 507.9L515.6 507.9L516.2 507.9L516.8 507.9L517.4 507.9L518.0 507.9L518.6 507.9L519.2 507.9L519.8 507.9L520.4 507.9L521.0 507.9L521.6 507.9L522.2 507.9L522.8 507.9L523.4 507.9L524.0 507.9L524.6 507.9L525.2 507.9L525.8 507.9L526.4 507.9L527.0 507.9L527.6 507.9L528.2 507.9L528.8 507.9L529.4 507.9L530.0 507.9L530.6 507.9L531.2 507.9L531.8 507.9L532.4 507.9"/></g>
<path d="M377.50 357.60 L377.50 511.80 L535.70 511.80 L535.70 357.60 M372.10 357.60 L377.50 357.60 M372.10 378.90 L377.50 378.90 M372.10 400.40 L377.50 400.40 M372.10 421.90 L377.50 421.90 M372.10 443.40 L377.50 443.40 M372.10 464.90 L377.50 464.90 M372.10 486.40 L377.50 486.40 M372.10 507.90 L377.50 507.90 M380.05 511.80 L380.05 515.10 M389.60 511.80 L389.60 517.30 M399.15 511.80 L399.15 515.10 M408.70 511.80 L408.70 515.10 M418.25 511.80 L418.25 515.10 M427.80 511.80 L427.80 517.30 M437.35 511.80 L437.35 515.10 M446.90 511.80 L446.90 515.10 M456.45 511.80 L456.45 515.10 M466.00 511.80 L466.00 517.30 M475.55 511.80 L475.55 515.10 M485.10 511.80 L485.10 515.10 M494.65 511.80 L494.65 515.10 M504.20 511.80 L504.20 517.30 M513.75 511.80 L513.75 515.10 M523.30 511.80 L523.30 515.10 M532.85 511.80 L532.85 515.10" fill="none" stroke="#1c1c1c" stroke-width="1.35" stroke-linecap="butt"/>
<text transform="translate(34.10 529.50) scale(1 1.045)" font-size="10.3" text-anchor="middle">290</text>
<text transform="translate(70.10 529.50) scale(1 1.045)" font-size="10.3" text-anchor="middle">288</text>
<text transform="translate(106.10 529.50) scale(1 1.045)" font-size="10.3" text-anchor="middle">286</text>
<text transform="translate(142.10 529.50) scale(1 1.045)" font-size="10.3" text-anchor="middle">284</text>
<text transform="translate(178.10 529.50) scale(1 1.045)" font-size="10.3" text-anchor="middle">282</text>
<text transform="translate(227.28 529.50) scale(1 1.045)" font-size="10.3" text-anchor="middle">106</text>
<text transform="translate(268.12 529.50) scale(1 1.045)" font-size="10.3" text-anchor="middle">104</text>
<text transform="translate(308.96 529.50) scale(1 1.045)" font-size="10.3" text-anchor="middle">102</text>
<text transform="translate(349.80 529.50) scale(1 1.045)" font-size="10.3" text-anchor="middle">100</text>
<text transform="translate(389.60 529.50) scale(1 1.045)" font-size="10.3" text-anchor="middle">404</text>
<text transform="translate(427.80 529.50) scale(1 1.045)" font-size="10.3" text-anchor="middle">402</text>
<text transform="translate(466.00 529.50) scale(1 1.045)" font-size="10.3" text-anchor="middle">400</text>
<text transform="translate(504.20 529.50) scale(1 1.045)" font-size="10.3" text-anchor="middle">398</text>
<text transform="translate(283.20 542.40) scale(1 1.045)" font-size="10.75" text-anchor="middle">Binding energy (eV)</text>
<text transform="translate(17.40 262.60) rotate(-90) scale(1 1.045)" font-size="10.4" text-anchor="middle">Intensity (CPS)</text>
<text transform="translate(5.10 17.40) scale(1 1.045)" font-size="15.2">(a)</text>
<text transform="translate(5.10 196.40) scale(1 1.045)" font-size="15.2">(b)</text>
<text transform="translate(5.10 367.20) scale(1 1.045)" font-size="15.2">(c)</text>
<text transform="translate(37.60 24.60) scale(1 1.045)" font-size="12.0">C 1s</text>
<text transform="translate(208.70 24.60) scale(1 1.045)" font-size="12.0">Si 2p</text>
<text transform="translate(383.30 24.60) scale(1 1.045)" font-size="12.0">N 1s</text>
<text transform="translate(142.60 394.30) scale(1 1.045)" font-size="10.4">C-C</text>
<text transform="translate(95.70 450.70) scale(1 1.045)" font-size="10.4">C-O</text>
<text transform="translate(121.00 466.40) scale(1 1.045)" font-size="10.4">C-N</text>
<text transform="translate(35.60 490.70) scale(1 1.045)" font-size="10.5">O-C=O</text>
<text transform="translate(237.30 424.70) scale(1 1.045)" font-size="10.6">SiO<tspan font-size="7.6" dy="2.4">2</tspan></text>
<text transform="translate(308.40 422.90) scale(1 1.045)" font-size="10.6">C-SiO<tspan font-size="7.6" dy="2.4">x</tspan></text>
<text transform="translate(424.90 400.40) scale(1 1.045)" font-size="10.6">C-NH<tspan font-size="7.6" dy="2.4">2</tspan></text>
<text transform="translate(498.70 434.40) scale(1 1.045)" font-size="10.6">C-N-C</text>
<text transform="translate(396.70 478.80) scale(1 1.045)" font-size="10.6">C-NH<tspan font-size="7.6" dy="2.4">3</tspan><tspan font-size="7.6" dy="-5.2">+</tspan></text>
</svg></body></html>
